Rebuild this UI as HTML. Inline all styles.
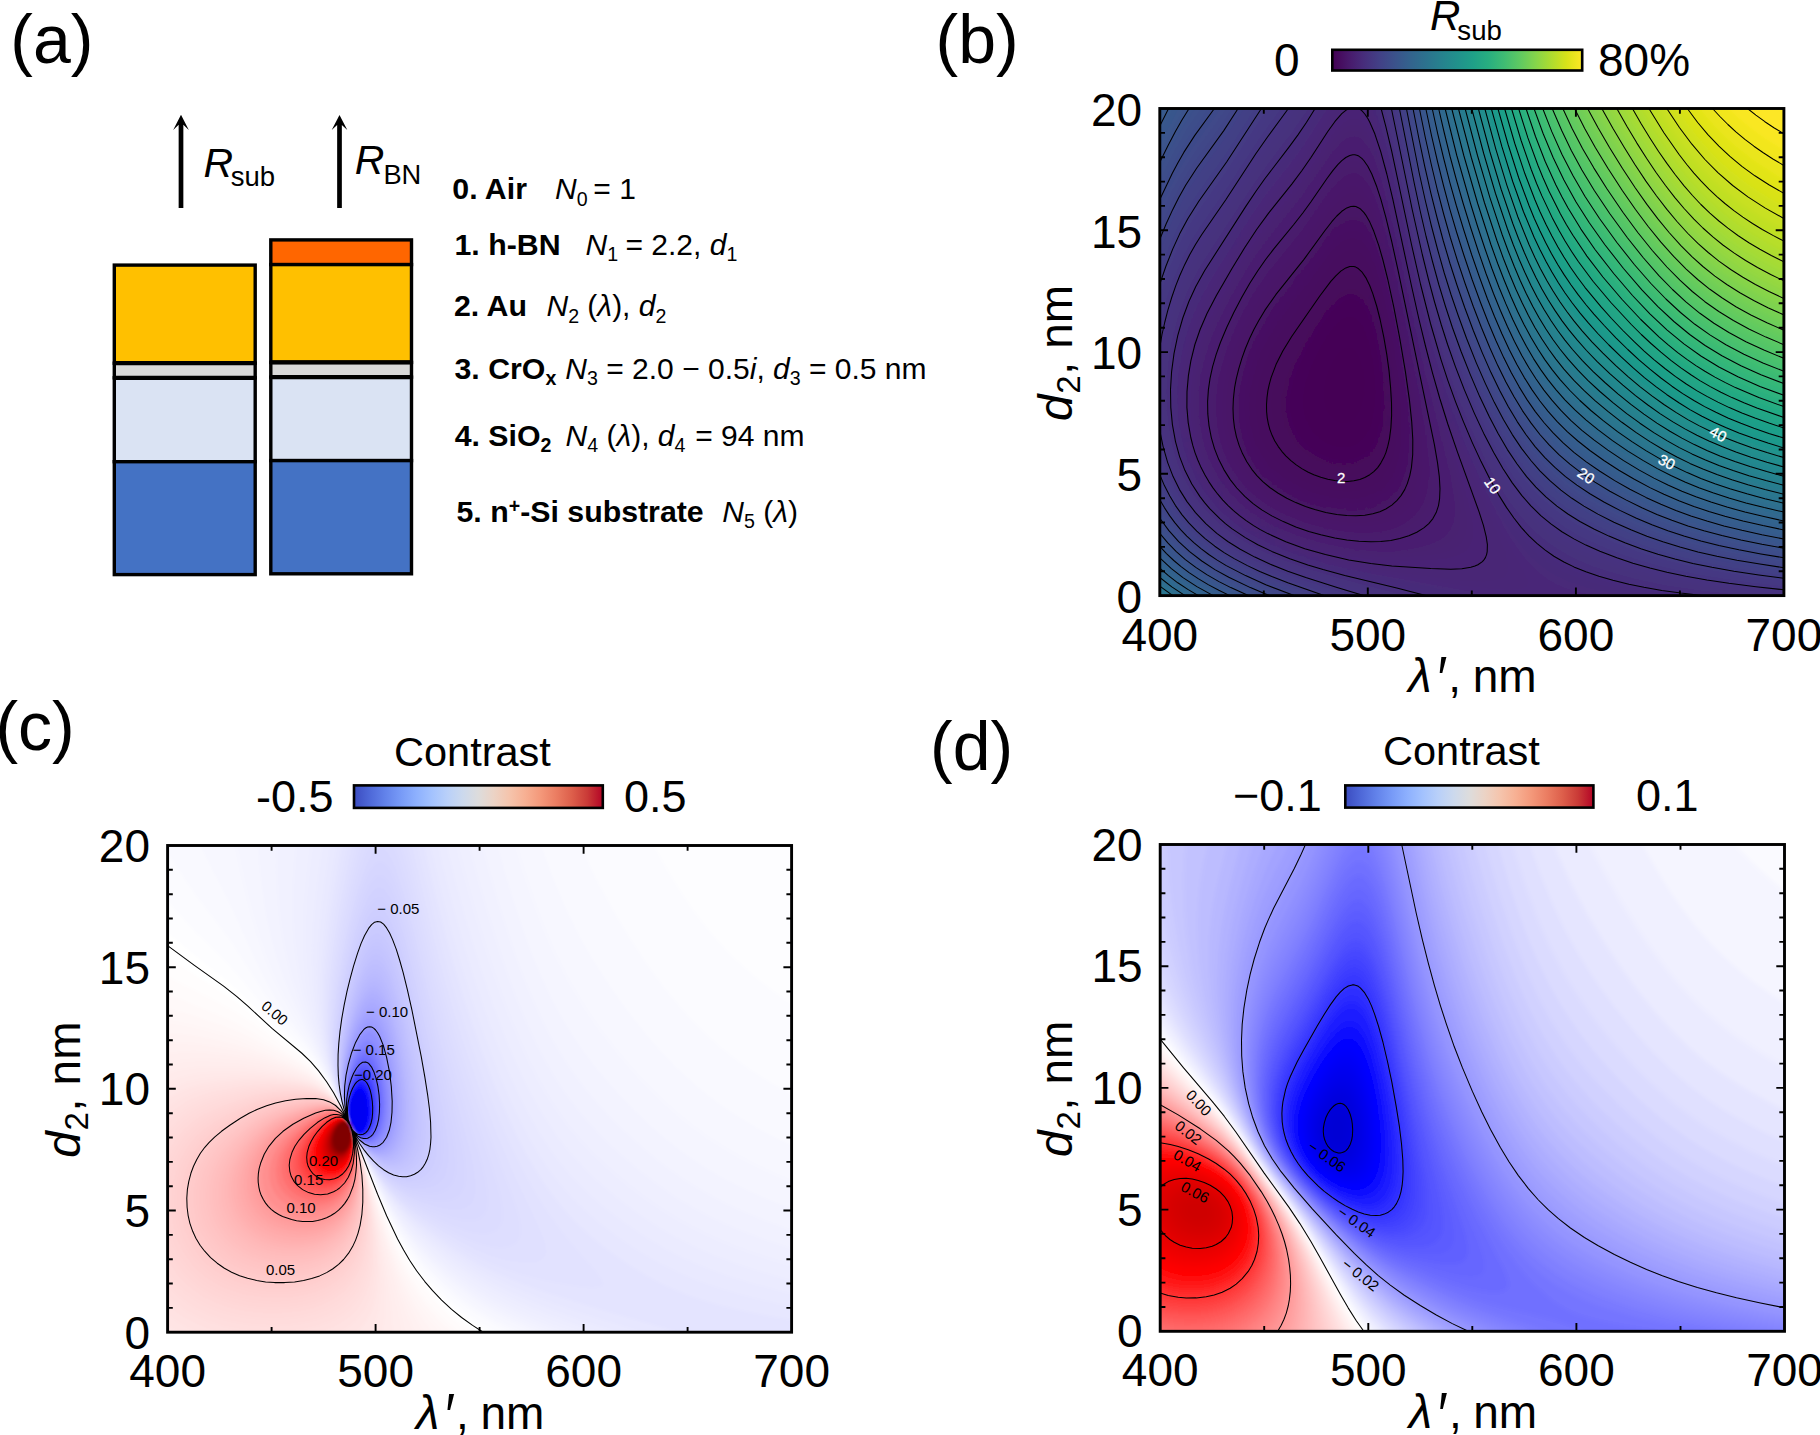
<!DOCTYPE html>
<html lang="en"><head><meta charset="utf-8"><title>Figure</title>
<style>html,body{margin:0;padding:0;background:#fff;width:1820px;height:1435px;overflow:hidden}svg{display:block}text{font-family:"Liberation Sans", Arial, Helvetica, sans-serif;fill:#000}</style>
</head><body>
<svg width="1820" height="1435" viewBox="0 0 1820 1435">
<rect width="1820" height="1435" fill="#fff"/>
<text x="10.3" y="62.6" font-size="68">(a)</text>
<text x="935.5" y="63.4" font-size="68">(b)</text>
<text x="-4.6" y="749.8" font-size="68">(c)</text>
<text x="930" y="769.9" font-size="68">(d)</text>
<rect x="114.3" y="265.1" width="140.9" height="98.1" fill="#ffc000" stroke="#000" stroke-width="3.4"/>
<rect x="114.3" y="363.2" width="140.9" height="14.6" fill="#d9d9d9" stroke="#000" stroke-width="3.4"/>
<rect x="114.3" y="377.8" width="140.9" height="83.9" fill="#dae3f3" stroke="#000" stroke-width="3.4"/>
<rect x="114.3" y="461.7" width="140.9" height="112.9" fill="#4472c4" stroke="#000" stroke-width="3.4"/>
<rect x="270.8" y="239.9" width="140.7" height="24.7" fill="#ff6600" stroke="#000" stroke-width="3.4"/>
<rect x="270.8" y="264.6" width="140.7" height="97.8" fill="#ffc000" stroke="#000" stroke-width="3.4"/>
<rect x="270.8" y="362.4" width="140.7" height="14.7" fill="#d9d9d9" stroke="#000" stroke-width="3.4"/>
<rect x="270.8" y="377.1" width="140.7" height="83.5" fill="#dae3f3" stroke="#000" stroke-width="3.4"/>
<rect x="270.8" y="460.6" width="140.7" height="113.2" fill="#4472c4" stroke="#000" stroke-width="3.4"/>
<path d="M114.3 363.2H255.2M114.3 377.8H255.2M270.8 362.4H411.5M270.8 377.1H411.5" stroke="#000" stroke-width="4.3" fill="none"/>
<path d="M181.0 114.8L188.8 129.9L183.35 124.8V208H178.65V124.8L173.2 129.9Z" fill="#000"/>
<path d="M339.5 115.0L347.3 130.1L341.85 125.0V208H337.15V125.0L331.7 130.1Z" fill="#000"/>
<text x="203.6" y="176.6" font-size="41"><tspan font-style="italic">R</tspan><tspan font-size="27.5" dy="9.1" dx="-2.5">sub</tspan></text>
<text x="354.8" y="174.2" font-size="41"><tspan font-style="italic">R</tspan><tspan font-size="27.3" dy="9.9" dx="-1">BN</tspan></text>
<text x="452.3" y="199.3" font-size="30" xml:space="preserve" style="white-space:pre"><tspan font-weight="bold" font-size="30.3">0. Air</tspan><tspan font-style="italic" dx="28">N</tspan><tspan font-size="19.6" dy="6.5">0</tspan><tspan dy="-6.5" dx="-2.5"> = 1</tspan></text>
<text x="454.5" y="254.8" font-size="30" xml:space="preserve" style="white-space:pre"><tspan font-weight="bold" font-size="30.3">1. h-BN</tspan><tspan font-style="italic" dx="25">N</tspan><tspan font-size="19.6" dy="6.5">1</tspan><tspan dy="-6.5" dx="-1"> = 2.2, </tspan><tspan font-style="italic">d</tspan><tspan font-size="19.6" dy="6.5">1</tspan></text>
<text x="454" y="316.0" font-size="30" xml:space="preserve" style="white-space:pre"><tspan font-weight="bold" font-size="30.3">2. Au</tspan><tspan font-style="italic" dx="19.5">N</tspan><tspan font-size="19.6" dy="6.5">2</tspan><tspan dy="-6.5"> (</tspan><tspan font-style="italic">λ</tspan><tspan>), </tspan><tspan font-style="italic">d</tspan><tspan font-size="19.6" dy="6.5">2</tspan></text>
<text x="454.5" y="378.5" font-size="30" xml:space="preserve" style="white-space:pre"><tspan font-weight="bold" font-size="30.3">3. CrO</tspan><tspan font-weight="bold" font-size="19.6" dy="6.5">x</tspan><tspan font-style="italic" dy="-6.5" dx="9">N</tspan><tspan font-size="19.6" dy="6.5">3</tspan><tspan dy="-6.5"> = 2.0 − 0.5</tspan><tspan font-style="italic">i</tspan><tspan>, </tspan><tspan font-style="italic">d</tspan><tspan font-size="19.6" dy="6.5">3</tspan><tspan dy="-6.5"> = 0.5 nm</tspan></text>
<text x="454.7" y="445.8" font-size="30" xml:space="preserve" style="white-space:pre"><tspan font-weight="bold" font-size="30.3">4. SiO</tspan><tspan font-weight="bold" font-size="19.6" dy="6.5">2</tspan><tspan font-style="italic" dy="-6.5" dx="14">N</tspan><tspan font-size="19.6" dy="6.5">4</tspan><tspan dy="-6.5"> (</tspan><tspan font-style="italic">λ</tspan><tspan>), </tspan><tspan font-style="italic">d</tspan><tspan font-size="19.6" dy="6.5">4</tspan><tspan dy="-6.5" dx="1.5"> = 94 nm</tspan></text>
<text x="456.5" y="521.9" font-size="30" xml:space="preserve" style="white-space:pre"><tspan font-weight="bold" font-size="30.3">5. n</tspan><tspan font-weight="bold" font-size="19.6" dy="-9">+</tspan><tspan font-weight="bold" font-size="30.3" dy="9">-Si substrate</tspan><tspan font-style="italic" dx="18.6">N</tspan><tspan font-size="19.6" dy="6.5">5</tspan><tspan dy="-6.5"> (</tspan><tspan font-style="italic">λ</tspan><tspan>)</tspan></text>
<clipPath id="clipb"><rect x="1159.8" y="108.5" width="624.1" height="487.1"/></clipPath>
<g clip-path="url(#clipb)">
<filter id="blurb" filterUnits="userSpaceOnUse" x="1149.8" y="98.5" width="644.1" height="507.1"><feGaussianBlur stdDeviation="2"/></filter>
<g filter="url(#blurb)">
<rect x="1151.8" y="100.5" width="640.1" height="503.1" fill="#440154"/>
<path fill="#440255" d="M1151.8 100.5l640.1 0 0 503.1-640.1 0zM1347.8 359.5l-2 0.4-3 1.8-2.7 2.9-2.3 3.3-4 8.9-2.3 10.8 0.1 9 0.8 4 1.4 3.6 2 3.4 2 2.1 2 1.5 3 1.1 3 0.1 3-0.9 2-1.3 2.5-2.6 1.9-3 1.6-4.2 1.9-9.8-0.1-11-0.8-5.4-1.5-5.6-1.5-3.5-2-3-2-1.8z"/>
<path fill="#440256" d="M1151.8 100.5l640.1 0 0 503.1-640.1 0zM1345.8 348.2l-3 1.6-4 3.8-3.6 5-3.4 5.9-3 6.9-2.1 6.2-1.6 7-0.8 7 0 6 0.6 5 1.3 5 2.4 5 2.9 4 3.3 3 3.6 2 3.6 1 3.8 0 4-1.1 4-2.7 3-3.5 2.7-4.7 2-6 1.3-6.2 0.8-7.8 0-8-0.8-9-1.8-9-2.2-6.7-3-5.7-3-3.1-3-1.3z"/>
<path fill="#450356" d="M1151.8 100.5l640.1 0 0 503.1-640.1 0zM1347.8 338.5l-4 1.5-5 4.1-4.4 5.4-4.4 7.1-4.2 8.4-3.3 8.6-2.6 9-1.3 8-0.3 7 0.5 6.8 1.5 6.2 2.1 5 3.1 5 3.8 4 4.5 3.1 4.4 1.9 5.6 0.8 5-0.7 4-1.8 4.1-3.3 3.1-4 3-6 2.1-7 1.5-9 0.6-11-0.5-11-1.6-11-2.4-10-2.9-7.7-4-6.1-4-2.9z"/>
<path fill="#450357" d="M1151.8 100.5l640.1 0 0 503.1-640.1 0zM1348.8 330.4l-5 1.7-5 4-5.5 6.4-5.5 8.6-5.4 10.5-4.5 11-2.9 10-1.6 9-0.5 8 0.6 7 1.7 7 2.5 6 3.2 5 4.7 5 5.2 3.6 5.3 2.4 5.7 1.1 6-0.4 6-2.2 4.6-3.5 3.9-5 3.4-7 2.1-7.2 1.6-8.8 0.7-12-0.5-13-1.8-14-2.7-12.1-3.3-9.2-4-7-4-3.7-2-0.8z"/>
<path fill="#450457" d="M1151.8 100.5l640.1 0 0 503.1-640.1 0zM1347.8 323.5l-5 2.2-6 5.3-6 7.5-6 9.6-6 11.5-5 12-3.5 11-1.9 10-0.4 8 0.6 8 1.6 7 3 7 3.9 6 4.7 5 6 4.3 6 2.7 7 1.6 7-0.3 6.7-2.3 5.3-3.9 4.2-5.1 3.5-7 2.5-8 1.8-10 0.8-14-0.6-15-2.1-16-3.1-13.7-4-11.2-4.1-7.2-2.9-2.9-2-1.3-3-1z"/>
<path fill="#450558" d="M1151.8 100.5l640.1 0 0 503.1-640.1 0zM1346.8 317.3l-3 1.3-3 2.1-6 5.9-7 9.4-7 11.5-6.6 13.1-5.1 12-3.4 11-2.1 11-0.3 9 0.8 8 2.2 8 3.4 7 4.2 6 5.9 5.8 6.3 4.2 7.1 3 7.6 1.5 8-0.4 6.3-2.1 5.8-4 4.9-6 4-8 2.7-9 1.7-11 0.7-16-1-17-2.4-17-3.8-16.1-3.9-10.5-2.2-4.5-2.8-4-3-2.8-3-1.5-3-0.5z"/>
<path fill="#450559" d="M1151.8 100.5l640.1 0 0 503.1-640.1 0zM1346.8 311.2l-6 3.5-7 7-8 10.8-7.9 13-7.3 14.1-5.6 13-3.9 12-2 11-0.4 9 1.1 9 2.3 8 3.3 7 5 7 6.1 6 7.3 4.9 7.2 3.1 8.8 1.9 8-0.1 7-2 4-2.1 3-2.3 5-5.6 4.2-7.8 3-9 2.1-12 0.9-17-1.1-20-3-21-4.1-16.7-5-13.1-2.3-4.3-2.7-3.5-3-2.6-3-1.4-3-0.4z"/>
<path fill="#450659" d="M1151.8 100.5l640.1 0 0 503.1-640.1 0zM1347.8 305.2l-3 1.2-3 1.9-7 6.5-8 10.3-9.2 14.4-8.9 16.1-7 15-4.2 12-2.5 12-0.6 10 0.9 9 2.4 9 3.8 8 5.3 7.5 6.6 6.5 7.4 5 8 3.6 9 2.2 9 0.3 8-1.9 7-3.9 3-2.7 3-3.5 4.2-7.1 3.5-10 2.3-12 1.1-18-0.8-20-2.9-22-4.4-19.7-5-14.5-5-9.1-3-3.4-3-2-3-0.9z"/>
<path fill="#45065a" d="M1151.8 100.5l640.1 0 0 503.1-640.1 0zM1349.8 299.5l-3 0.6-4 2.1-7 6.1-8 9.8-9.7 14.4-11.1 19-7.9 16.1-5.3 14-2.7 12-0.9 10 0.8 10 2.2 9 3.6 8.3 5.1 7.7 6.6 7 8 6 8.3 4.2 10 3 10 0.9 8-1.2 4-1.4 4-2.1 6.4-5.4 2.6-3.3 2.9-4.7 3.9-10 2.5-11 1.6-18-0.5-20-2.4-22.4-4.3-22.7-4.7-16-3-7.5-3-5.7-3-4.1-3-2.7-3-1.6z"/>
<path fill="#46075a" d="M1151.8 100.5l640.1 0 0 503.1-640.1 0zM1348.8 294.4l-3 1-4 2.4-7 6.4-9 11.3-11.2 17-11.8 20.1-7.5 15-5 13-3.1 13-0.9 11 0.8 10 2.2 9 3.9 9 5.6 8.4 7.4 7.6 8.2 6 9.4 4.7 11 3.1 10 0.9 9-1.4 4-1.4 4-2 4-2.9 3-3 5-7.3 4.1-9.7 3-13 1-9 0.5-10-0.7-23-2.9-24.5-4.9-24.6-5.1-16.4-3-7-3-5.5-3-3.9-4-3.2-3-1.1z"/>
<path fill="#46075b" d="M1151.8 100.5l640.1 0 0 503.1-640.1 0zM1348.8 289.4l-3 1-4 2.4-4 3.4-5 5.3-10 13.2-12.9 19.8-10.8 18.1-7.6 15-5.3 14-2.9 13-0.8 11 1.1 11 2.7 10 4.3 9 6.2 8.7 7.4 7.3 8.6 6.1 10 4.8 11 3.2 11 1 5-0.4 5-1.1 4-1.4 4.3-2.2 3.7-2.7 3-3 3-3.7 2.8-4.6 4.2-10.6 2.8-12.4 1.1-10 0.4-10-0.8-24-3.5-27.9-5-24.3-3-10.6-3-8.6-3-6.8-3-5.2-3-3.8-4-3-3-1.1z"/>
<path fill="#46085b" d="M1151.8 100.5l640.1 0 0 503.1-640.1 0zM1349.8 284.4l-3 0.8-4 2.2-4 3.1-5 5.1-10 12.8-12.9 19.1-13 21-8.6 16.1-5.7 14-3.5 14-1.1 12 0.7 11 2.4 10 4.3 10 6.1 9 7.7 8 9.4 7 10.2 5.2 12 3.7 6 1 6 0.4 10-1.1 5-1.5 4-1.9 4-2.6 3.6-3.2 3.4-4 2.6-4 4.4-10.4 3.1-12.6 1.1-9 0.6-11-0.6-24-3.1-28-5.1-26.6-6-21.1-3-7.6-3-6.1-3-4.5-4-4.1-4-1.9z"/>
<path fill="#46095c" d="M1151.8 100.5l640.1 0 0 503.1-640.1 0zM1347.8 280.2l-4 1.9-4 2.9-5 4.9-5 5.8-12 16.5-18.6 28.3-8.9 15.1-6.3 13-4.7 13-2.7 12-1 12 1 12 2.9 11 4.3 9.3 6.8 9.7 8.2 8.1 10 7.1 11 5.3 6 2 7 1.7 12 1.2 6-0.4 5-1 5-1.8 4-2 4-2.8 4-3.9 3-3.8 2.8-4.7 4.2-10.6 2.9-13.4 1.1-10.7 0.4-11.3-0.2-13-1-14-3.8-30.1-5.9-28-3.5-12.2-3-8.6-3.1-7.2-3.9-6.5-3-3.5-4-2.9-4-0.9z"/>
<path fill="#46095d" d="M1151.8 100.5l640.1 0 0 503.1-640.1 0zM1348.8 275.4l-4 1.6-4 2.7-5 4.6-5 5.7-12 16.2-21.7 32.3-9.3 15.4-6.8 13.7-4.7 13-2.8 12-1.1 13 0.9 12 2.7 11 4.8 10.6 7 10 8.5 8.4 10.5 7.5 11 5.4 13 3.9 7 1.1 6 0.4 6-0.2 5-0.8 5-1.4 5-2.3 4-2.5 4-3.5 3.1-3.6 2.9-4.4 2.9-5.6 2.1-5.8 3.1-13.2 1.2-10 0.6-12-0.1-13-0.9-14-1.6-16-2.3-16-3-16.6-3-13.5-3-11.2-3.5-10.8-3.5-8.5-3.4-6.5-3.6-4.7-4-3.3-4-1.3z"/>
<path fill="#460a5d" d="M1151.8 100.5l640.1 0 0 503.1-640.1 0zM1347.8 271.3l-4 2-5 3.8-5 5-5 6-12 16.5-25 36.9-8.2 14.1-6.2 13-4.5 13-2.6 12-0.9 13 1.1 13 3.3 12 4.8 10 7.3 10 9.4 9 10.5 7.2 12 5.7 7 2.3 7 1.6 7 1 6 0.3 6-0.3 6-1 5-1.6 4.7-2.2 4.3-3 4-3.7 3-3.6 3-4.8 4.6-10.9 3.1-14 1.2-11 0.5-12-0.3-14-1.1-15.3-1.8-16.7-2.4-16.1-2.9-16-3.9-16.8-3.1-11.2-3.9-11.4-3-7-4-7.1-4-4.8-4-2.7-4-0.8z"/>
<path fill="#460b5e" d="M1151.8 100.5l640.1 0 0 503.1-640.1 0zM1349.8 266.5l-4 1.4-5 3.2-5 4.7-5 5.6-11 14.6-28.1 40.5-8.9 14.5-6.8 13.6-4.9 13-3.2 13-1.4 14 0.7 13 2.7 12 4.9 11.3 7 10.4 9.1 9.3 10.9 8 12 6.1 7 2.6 7 2 7 1.3 7 0.8 6 0 6-0.6 6-1.4 5-1.9 5-2.8 4-3.1 3.9-4 3.1-4.5 3-5.5 2.1-5 1.9-6.4 1.7-7.6 1.4-11 0.7-12-0.1-13-0.9-15-1.6-17-2.2-16-3-17.4-3.7-17.7-3.3-13-4-12.9-3.1-8.1-3.9-7.9-4-5.8-4-3.6-4-1.7z"/>
<path fill="#460b5e" d="M1151.8 100.5l640.1 0 0 503.1-640.1 0zM1349.8 262.3l-4 1.4-5 3.3-5 4.6-5 5.7-11 14.5-31.4 44.7-8.6 14.2-6.8 13.9-4.7 13-3.1 13-1.4 14 0.8 14 1.2 6.5 1.8 6.5 4.9 11 3.3 5.4 4 5.3 9.3 9.3 11.7 8.4 13 6.5 7 2.5 8 2.1 7 1.3 7 0.6 7-0.1 6-0.7 6-1.6 5-2 5-3 4-3.3 4-4.5 2.9-4.2 3-6 2.1-5.6 3.3-13.4 1.3-11 0.6-12-0.2-14-1-15.5-1.8-17.5-2.3-17-3-17.1-3.9-18.5-3.1-12.5-3.9-12.8-4-10.6-4-8-4-5.7-4-3.5-4-1.6z"/>
<path fill="#460c5f" d="M1151.8 100.5l640.1 0 0 503.1-640.1 0zM1348.8 258.4l-4 1.7-5 3.7-5 4.8-5 5.8-10 13.3-35.2 49.8-8.3 14-6.5 13.8-4.5 13.3-2.8 13-1.3 15 1.1 14 1.4 7 1.8 6 2.4 6 2.9 5.5 7.5 10.5 4.7 5 5.6 5 12.2 8.4 13 6.2 7 2.4 8 2 8 1.4 7 0.6 7-0.2 6-0.8 6-1.5 5-2.1 5-2.9 4-3.3 3.9-4.2 3.1-4.6 2.9-5.4 2.3-6 2-7 1.6-8 1.3-12 0.5-13-0.4-15-1.2-15.8-2-18.2-3-20-3.1-17.1-3.9-17.8-7-24.7-4-10.4-4-7.9-4-5.6-4-3.4-4-1.6z"/>
<path fill="#470c5f" d="M1151.8 100.5l640.1 0 0 503.1-640.1 0zM1348.8 254.4l-4 1.7-5 3.7-5 4.9-5 5.8-9 11.9-38 53.1-8.4 14-6.6 14-4.8 14.1-2.8 13-1.4 15 0.2 8 0.7 7 3.1 13 2.3 6 3 6 3.7 5.9 3.9 5.1 4.6 5 5.6 5 5.9 4.5 6.9 4.5 13.1 6.4 7.4 2.6 7.6 2 8 1.5 8 0.8 7 0 7-0.7 6-1.4 5.6-2.2 5.3-3 4.1-3.4 4-4.3 3.1-4.3 2.9-5.5 2.6-6.5 3.4-14.2 1.4-11.8 0.5-13-0.3-15-1.1-16-2.1-19-2.9-20.1-3.5-19.1-4-18.7-4-15.5-4-12.8-4-10.2-4-7.8-4-5.5-4-3.4-4-1.5z"/>
<path fill="#470d60" d="M1151.8 100.5l640.1 0 0 503.1-640.1 0zM1348.8 250.4l-4 1.8-5 3.7-5 4.9-5 5.8-39.7 53.9-9.7 14-8.3 14-6.3 13.5-5 14.6-3 14-1.4 16 0.3 8 0.8 7 1.4 7 1.9 6.6 2.5 6.4 3.1 6 3.4 5.4 4.4 5.6 4.7 5 5.9 5.3 6.4 4.7 6.6 4.2 14 6.7 8 2.7 8 2 8 1.4 8 0.7 7 0 7-0.8 6-1.5 6-2.3 5-2.9 4.1-3.2 3.9-4.2 3.4-4.8 3.2-6 2.4-6 1.9-7 1.6-8 1.3-12 0.4-14-0.4-15-1.4-18-2.3-20-3.1-20.1-4-21.7-4-18.1-4-15.2-4-12.5-4-10.1-4-7.7-4-5.4-4-3.3-4-1.5z"/>
<path fill="#470e61" d="M1151.8 100.5l640.1 0 0 503.1-640.1 0zM1349.8 246.3l-4 1.5-5 3.4-5 4.7-5 5.6-42.3 57-9.7 13.9-8.4 14.1-6.5 14.1-5.1 14.8-3.1 14.2-1.5 16 0.1 8 0.9 8 1.3 7 2 7 2.7 7 3 6 3.6 5.7 4.1 5.3 4.9 5.3 6 5.3 7 5.2 6.7 4.2 7.3 3.8 7 3.1 8 2.7 9 2.3 8 1.4 8 0.7 7 0 7-0.7 6-1.3 6-2.2 5-2.7 4.3-3.1 4.1-4 3.7-5 2.9-5.1 2.9-6.9 2.1-7 1.7-8 1.4-12 0.5-13-0.4-16-1.3-17-2.2-20-3.1-21.1-3.6-20-4.4-21-3.6-14.4-4-13.6-4-11.1-4-8.9-4-6.3-5-5-4-1.9z"/>
<path fill="#470e61" d="M1151.8 100.5l640.1 0 0 503.1-640.1 0zM1349.8 242.4l-4 1.6-5 3.4-5 4.7-5 5.7-44 59-9.6 13.7-8.4 14.1-6.9 15-5.1 15-3.3 15-1.1 9-0.4 8 0.2 8 0.9 8 1.6 8 2.1 7 2.8 7 3.1 6 3.9 6 4.2 5.3 5 5.2 6 5.2 7 5.1 6.7 4.2 14.3 6.8 8 2.7 9 2.4 9 1.6 8 0.7 8 0 7-0.7 6-1.3 6-2.2 5-2.7 5-3.7 4-4.1 3.4-4.5 3.4-6 2.4-6 2.1-7 1.7-8 1.4-12 0.5-14-0.5-16-1.4-18-2.4-21-3.3-22.1-4.2-23-4.1-18.9-4-16-4-13.4-4-11-4-8.6-4-6.4-5-5-4-1.8z"/>
<path fill="#470f62" d="M1151.8 100.5l640.1 0 0 503.1-640.1 0zM1350.8 238.5l-4 1.2-5 3.2-5 4.5-5 5.5-46.3 61.6-9.2 13-9 15-7 15.1-5.4 16-3.4 15-1.1 9-0.5 8 0.2 9 0.8 8 1.6 8 2 7 2.7 7 3.5 7 3.9 6 4.2 5.4 5.3 5.6 5.7 5 6.8 5 7.2 4.4 7 3.7 8 3.5 8 2.8 9 2.4 9 1.7 9 0.9 8 0.1 7-0.7 7-1.5 6-2.2 5-2.6 5-3.7 4-4 4-5.4 3-5.4 2.5-6 2.2-7 1.6-8 1.4-12 0.5-14-0.5-16-1.4-18-2.3-20-3.4-23.1-4.1-23-4.5-21.3-4-16.2-4-13.9-4-11.4-4-9.2-4-6.8-5-5.6-4-2.2z"/>
<path fill="#470f62" d="M1151.8 100.5l640.1 0 0 503.1-640.1 0zM1348.8 235.2l-4 1.9-4 2.9-5 4.8-5 5.7-26 35.1-21.5 27.9-9.7 14-8.8 15.1-7 15.6-5.1 15.4-3.4 16-1.5 17 0.3 9 0.9 8 1.6 8 2.3 8 2.9 7.1 3.6 6.9 4 6 4.4 5.5 5.3 5.5 5.9 5 6.9 5 7.9 4.8 8 4.1 7.5 3.1 8.5 2.8 9 2.3 9 1.6 9 0.9 8 0 7-0.7 7-1.5 6-2.2 5-2.6 5-3.6 4.1-4 3.9-5.2 3.3-5.8 2.7-6.6 2.2-7.4 1.6-8 1.3-13 0.4-15-0.7-17-1.7-19-3.1-24-3.8-24.1-4.2-22.3-5-22.8-4-15.4-4-13.1-4-10.7-5-10.3-4-5.7-5-4.2-4-1.3z"/>
<path fill="#471063" d="M1151.8 100.5l640.1 0 0 503.1-640.1 0zM1349.8 231.3l-4 1.6-5 3.5-5 4.8-5 5.7-26 35.1-22.8 29.5-9.2 13.1-9 15.3-7.1 15.7-5.8 17-3.5 16-1.1 9-0.5 9 0.3 9 0.9 8 1.5 8 2.3 8 2.7 7 3.5 7 3.8 6 5 6.4 5.3 5.6 5.8 5 6.9 5 8 5 8 4.1 8 3.4 9 3.1 9 2.3 9 1.7 9 0.9 8 0.2 8-0.6 7-1.4 6-2 6-3 5-3.6 4.3-4.1 3.9-5 3.4-6 2.5-6 2.1-7 1.8-8.8 1.4-12.2 0.4-15-0.7-17-1.6-19-2.8-22-3.8-25.1-4.9-26.2-5-23.1-4-15.8-4.1-13.9-4.9-13.3-4-8.4-4-6.2-5-4.8-4-1.7z"/>
<path fill="#471163" d="M1151.8 100.5l640.1 0 0 503.1-640.1 0zM1350.8 227.4l-4 1.3-5 3.3-5 4.5-5 5.6-27 36.3-23.4 30.1-9.6 13.6-9.1 15.4-7.8 17.1-5.7 17-3.6 16-1.2 10-0.5 9 0.2 9 0.9 8 1.5 8 2.2 8 3.1 8 3.5 7 3.8 6 4.7 6.2 5 5.3 6.1 5.5 6.9 5.1 8 5 8 4.2 9 3.9 9 3.1 9 2.4 10 1.8 9 1 8 0.3 8-0.6 7-1.3 7-2.2 6-3 5-3.5 4-3.7 4-5 3.3-5.5 3.1-7 2.1-7 1.7-8 1.4-12 0.5-14-0.5-16-1.6-19-2.7-23-3.7-24.1-4.6-25.8-5-24.1-4.1-17.1-4.9-17.4-4-11.7-5-11.5-4-6.7-5-5.4-4-2.1z"/>
<path fill="#471164" d="M1151.8 100.5l640.1 0 0 503.1-640.1 0zM1348.8 224.3l-4 2-4 2.9-5 4.9-5 5.7-26 35.2-25 31.9-10.2 14.6-9.2 16-7.6 17.1-5.9 18-3.5 17-1.1 10-0.3 9 0.4 9 1.1 9 1.7 8 2.5 8 3.3 8 3.8 7 4 6 5 6.2 5.8 5.8 6 5 7.2 5 8 4.8 8.3 4.2 8.7 3.6 9 2.9 10 2.5 10 1.8 9 0.8 8 0.1 8-0.7 7-1.4 7-2.3 6-3.2 5-3.6 4.5-4.5 3.5-4.7 3.1-5.3 2.9-7.1 2.3-7.9 1.6-8 1.2-13 0.2-16-0.9-18-2-20-3.4-25.3-4.5-27.8-5.5-28.4-5-22.3-5-19-4-12.7-4-10.5-4-8.3-4-6.1-5-4.7-2-1-3-0.8z"/>
<path fill="#471264" d="M1151.8 100.5l640.1 0 0 503.1-640.1 0zM1349.8 220.5l-4 1.7-4 2.7-5 4.7-5 5.6-27.7 37.3-25.3 32.1-10 14.3-9.5 16.6-8.1 18.1-5.9 18-3.6 17-1.2 10-0.4 9 0.3 9 1 9 1.9 9 2.4 8 3.1 7.7 3.8 7.3 4.6 7 4.8 6 5.8 5.9 6 5.1 7 5 8.3 5 8.7 4.4 8.6 3.6 8.8 3 9.6 2.5 10 1.9 10 1.1 9 0.2 8-0.6 7-1.3 7-2.2 6-2.9 5-3.4 5-4.6 4-5.1 3.3-5.6 3-7 2.1-7 1.6-8.1 1.4-12.9 0.3-15-0.8-17-1.9-20-3.3-25-4.4-28.1-5.3-28.1-5-23.3-5-20.1-4-13.7-4.9-13.8-4.1-9-4-6.6-5-5.3-2-1.3-3-1z"/>
<path fill="#471265" d="M1151.8 100.5l640.1 0 0 503.1-640.1 0zM1348.8 217.3l-4 2-4 3-5 4.9-5 5.8-26 35.2-27 34.2-11 15.8-9.2 16.3-8 18.1-5.9 18-3.9 18.1-1.1 9.9-0.4 10 0.4 9 1 9 1.9 9 2.5 8 3.3 8 3.7 7 4.5 7 5.2 6.4 5.4 5.6 6.6 5.5 7.8 5.5 8.2 4.9 9 4.4 8.8 3.7 9.2 3 10 2.5 10 1.8 10 1.1 9 0.2 8-0.6 7-1.3 7-2.2 6-2.8 5-3.4 4.9-4.3 4.1-5.2 3.6-5.8 3-7 2.4-8 1.5-8 1.3-13 0.1-16-1-18-2.1-21-3.8-27.3-5-30.1-5.1-26.7-5.9-26.7-5-19.3-4-13-4-11-5-10.5-4-6-5-4.7-2-1-3-0.7z"/>
<path fill="#471365" d="M1151.8 100.5l640.1 0 0 503.1-640.1 0zM1350.8 213.3l-4 1.4-5 3.3-5 4.7-5 5.7-28 37.7-27 34.1-10 14.3-10 17.4-8.4 18.6-6.3 19.1-3.9 18-1.2 10-0.5 10 0.3 10 1.1 9 1.9 9 2.4 8 3.2 8 4.2 8 4.2 6.5 5.1 6.5 5.8 6 6.1 5.3 8 5.7 8 4.8 9 4.5 9 3.8 9 3.1 10.5 2.8 10.5 2 10 1.2 9 0.3 8-0.4 8-1.3 7-2 6.3-2.8 5.7-3.7 5-4.3 4-4.9 3.8-6.1 2.7-6 2.5-8 1.7-8 1.4-13 0.2-15-0.8-17-2-20-3.5-26.1-5-30.9-5-27.1-6-28.2-5-20.3-4-14-5-14.6-4-9.2-4-7-5-5.9-2-1.5-3-1.3z"/>
<path fill="#481366" d="M1151.8 100.5l640.1 0 0 503.1-640.1 0zM1348.8 210.4l-4 2-4 3.1-5 4.9-5 5.9-27 36.6-28 35.2-11 15.9-10 17.8-8.3 18.7-6.2 19.1-4 19-1.2 10-0.4 10 0.5 10 1.1 9 1.9 9 2.8 9 3.4 8 4.3 8 4.7 7 5.4 6.5 5.4 5.5 6.6 5.5 7.9 5.5 8.6 5 9.5 4.7 9 3.6 10 3.3 10 2.5 11 2 10 1 9 0.2 8-0.5 8-1.4 7-2.1 6-2.8 6-3.9 5-4.6 4-5.1 3.6-5.9 3-7 2.3-8 1.5-8 1.2-13 0-16-1.2-19-2.5-22-4.2-29-5.7-33.3-6-30.7-6-26.6-5-19-4-12.9-5-13.1-4-8.1-4-6-5-4.6-2-1-3-0.6z"/>
<path fill="#481467" d="M1151.8 100.5l640.1 0 0 503.1-640.1 0zM1350.8 206.4l-4 1.5-5 3.4-5 4.7-5 5.7-28 37.9-28 35.1-11 15.7-10.9 19.1-8.5 19-6.6 20.1-4.2 19-1.2 11-0.4 10 0.4 10 1.1 9 1.9 9 2.8 9 3.3 8 4.3 8.1 5 7.6 5.1 6.3 5.9 6 7 5.9 8 5.5 9 5.2 9 4.4 9.7 4 9.3 3 11 2.8 11 2 10 1.1 9 0.2 9-0.5 8-1.4 7-2.1 6-2.7 6-3.9 5-4.5 4.2-5 3.7-6 2.6-6 2.5-8 1.6-8 1.3-13 0.1-15-1.1-18-2.2-21-4.1-29-5.6-32.9-6-31.5-6-27.7-5-20-4-13.8-5-14.4-4-9.2-4-7-5-5.8-2-1.4-3-1.3z"/>
<path fill="#481568" d="M1151.8 100.5l640.1 0 0 503.1-640.1 0zM1352.8 199.5l-4 0.8-5 2.8-5 4.3-5 5.4-8 10.2-21 28.9-28 34.9-12 16.7-11.8 20-9.6 21-7.3 21.1-2.6 10-2 10-1.4 11-0.5 10 0.3 10 1 10 1.8 9 2.6 9 3.5 9 4.1 8 4.9 7.8 5 6.5 6.3 6.7 6.7 5.9 8 5.8 8.8 5.3 9.8 5 9.4 4 10 3.5 11 2.9 11 2.3 11 1.4 10 0.6 9-0.3 8-1 8-2 7-2.8 6-3.4 5.2-4.2 4.7-5 4-6 3.1-6.5 2.6-7.5 1.7-8 1.4-12 0.2-15-1-17-2.3-21-4-28-5.6-33.4-7-37.2-6-28.3-5-20.9-5-18-5-14.9-4-9.6-4-7.5-5-6.4-4-2.9-2-0.7z"/>
<path fill="#481769" d="M1151.8 100.5l640.1 0 0 503.1-640.1 0zM1349.8 193.4l-4 1.8-4 2.9-5 4.8-5 5.8-28 38.3-31 38.6-12 17.3-12 21.4-9.8 22.2-3.9 11.1-3.3 10.9-2.4 10.1-1.7 10-1.2 11-0.2 10 0.5 10 1.3 10 2.2 10 3 9 3.8 9 4.7 8.5 5.1 7.5 5.9 7.1 7 6.9 7 5.7 8 5.4 10 5.6 10 4.7 10 4 10 3.2 11 2.7 12 2.2 11 1.3 10 0.3 9-0.5 8-1.1 8-2.2 7-3 6-3.7 5.5-4.6 4.4-5 3.8-6 3.2-7 2.4-8 1.5-8 1-13-0.2-15-1.4-18-2.9-23-5.2-33-7.1-39.7-7-35.6-7-31.5-5-19.6-5-16.7-5-13.5-4-8.5-4-6.4-5-5.1-2-1.1-3-1z"/>
<path fill="#48186a" d="M1151.8 100.5l640.1 0 0 503.1-640.1 0zM1351.8 186.4l-4 1.2-5 3.2-5 4.7-5 5.7-29.5 40.3-32.1 40-11.4 16.4-6.9 11.6-5.9 11-10.3 23-4.4 12.1-3.3 11-2.7 11-1.8 10-1.2 11-0.3 11 0.6 11 1.4 10 2.3 10 3 9 3.8 9 5 9 5.5 8 5.8 7 7.1 7 7.3 5.9 9 6.1 9 5 10 4.8 10.5 4.2 10.5 3.4 11 2.8 13 2.5 11 1.3 10 0.5 10-0.4 8.4-1.1 8.1-2 7.5-3 6-3.5 5.8-4.5 4.7-5 4.1-6 3.3-7 2.3-7 1.6-8 1.1-12-0.2-15-1.5-18-2.8-22-5.4-33-8-44.3-8-40.6-7-31.8-5-19.9-5-17.2-5-14.1-4-9-4-6.8-5-5.7-4-2.3z"/>
<path fill="#48196b" d="M1151.8 100.5l640.1 0 0 503.1-640.1 0zM1349.8 180.4l-4 1.9-4 3-9 9.6-30 41.3-33 41-13 19.1-7 12-5.9 11.2-10.6 24-4.3 12.1-3.4 11-2.6 11-1.9 11-1.1 11-0.2 11 0.7 11 1.7 11 2.5 10 3.5 10 4.1 9 5.2 9 5.7 8 6 7 7.3 7 7.6 6 8.7 5.7 9.6 5.3 10.7 5 11.7 4.5 11 3.4 12 2.9 12 2.2 11 1.3 10 0.4 10-0.3 9-1.2 8-1.9 7-2.7 7-3.8 6-4.6 5-5.2 4-5.7 3.2-6.3 2.6-8 1.5-8 0.9-13-0.5-15-1.8-18-3.3-23-7.1-41-10.5-55.5-8-39-7-30.3-5-18.7-4-13-5-13.4-4-8.4-4-6.3-5-5.1-2-1.1-3-0.9z"/>
<path fill="#481a6c" d="M1151.8 100.5l640.1 0 0 503.1-640.1 0zM1352.8 173.5l-4 1-5 2.9-5 4.5-5 5.6-7 9.1-24 33.7-34 42.2-12 17.5-7 11.7-7 13.1-6.1 12.7-5.6 13-4.5 12.1-3.7 12-2.8 11-1.9 11-1.3 12-0.3 11 0.7 11 1.6 11 2.7 11 3.2 9.6 4.2 9.4 5 9 5.8 8.3 6.5 7.7 7.5 7.3 8 6.5 9 6 9.5 5.2 10.5 5 12 4.7 10.1 3.3 11.9 3 13 2.6 12 1.6 11 0.7 10-0.2 9-0.8 9.1-1.9 7.9-2.7 7-3.5 6.8-4.8 5.2-5 4.5-6 3.1-6 2.4-7 1.7-8 0.9-12-0.4-14-1.7-17-3.1-21-6.5-37-12.9-66.8-8-39.3-7-31.1-9-33.6-5-14.6-4-9.5-4-7.3-5-6.2-4-2.8-2-0.7z"/>
<path fill="#481b6d" d="M1151.8 100.5l640.1 0 0 503.1-640.1 0zM1351.8 167.3l-4 1.4-4 2.5-5 4.5-5 5.7-31 43-35 43.6-13 19.1-7.9 13.4-6.9 13-6.2 13-6 14-4.5 12.1-3.7 12-2.9 12-1.9 11-1.1 12-0.1 11 0.9 12 1.8 11 2.8 11 3.6 10 4.6 10 5.3 9 5.8 8 7 8 7.4 7.1 8.8 6.9 9.2 5.9 10 5.3 12 5.5 12 4.5 12 3.6 12 2.9 12.4 2.3 11.6 1.4 11 0.6 11-0.2 9-1 8.6-1.8 8.4-2.9 7-3.5 6.9-4.6 5.1-4.8 4.1-5.2 3.3-6 2.5-7 1.5-8 0.8-11-0.5-14-1.7-16-3.3-21-6.9-37-17.8-90-8-38-6-25.9-9-32.5-5-14-4-8.9-4-6.8-5-5.5-4-2.3-2-0.5z"/>
<path fill="#481c6e" d="M1151.8 100.5l640.1 0 0 503.1-640.1 0zM1350.8 161.3l-4 1.7-4 2.9-5 4.8-5 5.9-30 42.1-36 44.9-14.7 21.9-8.2 14-7.1 13.6-6.8 14.4-5.9 14-4.4 12.1-3.6 12-2.8 12-1.7 11-1 12 0.1 12 1 12 2 11 3 11 4.1 10.8 5 10.2 5.5 9 6.5 8.5 7 7.7 8 7.3 9 6.8 9.2 5.7 11.7 6 12.1 5.3 12 4.3 12 3.5 13 2.9 12 2.2 12 1.4 11 0.5 11-0.2 9-1 9-1.9 8-2.6 7.6-3.4 6.4-4 6-5.2 4.1-4.8 3.4-6 2.5-7 1.5-8 0.6-11-0.6-13-1.8-15-3.3-20-30.4-150.5-7-32.5-6-25.3-5-18.5-4-12.9-5-13.4-4-8.3-4-6.3-5-4.9-4-1.8z"/>
<path fill="#481d6f" d="M1151.8 100.5l640.1 0 0 503.1-640.1 0zM1349.8 155.5l-4 2-4 3.2-9 9.9-30 42.4-37 46.3-8 11.4-8 12.6-8 13.9-8 15.3-7.1 15-6.3 15-4.3 12.1-3.5 12-2.6 12-1.6 11-0.8 12 0.2 12.3 1.2 11.7 2.3 12 3.2 11 4.3 11 5.1 10 6.3 10 6.6 8.4 8 8.4 8.3 7.2 8.7 6.3 10 6 11.5 5.7 12.5 5.3 13 4.5 12 3.4 14 3.1 12 2 12 1.4 12 0.5 10-0.2 10-1.1 9-1.9 9-2.8 8-3.6 7-4.3 5-4.3 4.1-5 3.3-6 2.3-7 1.1-7 0.4-10-0.7-12-1.8-14-3.1-18-36.6-175.5-12-52-5-18-4-12.3-5-12.8-4-7.8-4-5.7-5-4.4-4-1.3z"/>
<path fill="#481e70" d="M1151.8 100.5l640.1 0 0 503.1-640.1 0zM1349.8 149.4l-4 2.1-4 3.1-9 10.1-30.1 42.8-37.9 47.6-8.6 12.4-8.4 13.3-8.4 14.7-8.4 16-7.6 16-5.9 14-4.3 12.1-3.5 12-2.6 12-1.5 11-0.9 13 0.2 12 1.3 12 2.3 12 3.5 12 4.3 11 5.1 10 6.4 10 7 8.9 7.7 8.1 9.2 8 9.1 6.5 10.9 6.5 12.1 5.9 13 5.3 13 4.5 12.1 3.3 14.9 3.3 12 2 12 1.3 11 0.6 11-0.1 10-0.9 10-1.8 10-2.9 8.7-3.5 7.1-4 5-4 4.2-5 3-5.4 2.2-6.6 1.2-7 0.3-9-0.7-11-1.8-13-2.9-16-21.9-99-21.4-102-11-46.4-5-17.5-4-11.9-4-9.9-4-7.8-4-5.8-5-4.3-4-1.3z"/>
<path fill="#481f70" d="M1151.8 100.5l640.1 0 0 503.1-640.1 0zM1349.8 143.4l-4 2.1-4 3.2-9 10.1-30.5 43.7-38.5 48.4-9 13.1-9 14.4-9 15.7-8.6 16.4-7.7 16-5.9 14-4.6 13.1-3.4 12-2.5 12-1.5 12-0.7 13 0.4 13 1.6 13 2.6 12 3.8 12 4.5 10.8 5.4 10.2 6.7 10 7.3 9 8 8 9.5 8 10.1 7 11 6.2 13 6.1 14 5.5 12.9 4.2 13.1 3.4 14 3 12 1.9 12 1.3 12 0.6 11-0.1 10-0.9 10-1.6 10.3-2.6 8.6-3 6.3-3 5.8-4 4.8-5 3-5 2.2-6 1.2-7 0.3-8-0.6-10-1.7-12-2.7-14-25.1-108-26.4-123.6-9-36.6-5-16.9-4-11.4-4-9.4-4-7.4-4-5.2-4-3.2-4-1.2z"/>
<path fill="#482071" d="M1151.8 100.5l640.1 0 0 503.1-640.1 0zM1349.8 137.4l-4 2.1-4 3.2-9 10.3-30.9 44.5-30.1 37.5-9 11.9-10 14.6-9 14.5-9.4 16.5-9.5 18-7.2 15-6 14-4.5 13.1-3.3 12-2.5 12-1.6 13-0.6 14 0.5 13 1.7 13 2.7 12 3.8 12 4.9 11.4 6 11 7 10.2 8 9.4 8.2 8 9.8 7.9 10 6.8 11.5 6.3 13.5 6.2 14 5.4 14 4.4 14 3.5 14 2.9 12 1.9 13 1.4 12 0.6 11-0.2 11-0.8 11-1.7 11-2.4 8-2.6 7-3.2 5.1-3.4 4-4 3.2-5 2.2-6 1.1-7 0.1-7-0.7-9-3.8-22-27.4-111-9.2-41.1-18.6-87.6-11-45.5-5-16.9-4-11.4-4-9.5-4-7.3-4-5.2-4-3.2-4-1.2z"/>
<path fill="#482172" d="M1151.8 100.5l640.1 0 0 503.1-640.1 0zM1349.8 131.4l-4 2.2-4 3.3-9 10.3-31 45-31 38.8-9 12-10 14.7-10 16.1-10.1 17.7-10.1 19-7.2 15-5.5 13-4.5 13-3.5 13.1-2.3 12-1.5 13-0.6 14 0.6 13 1.7 13 3 13.2 4 12.2 5 11.6 6.2 11 7.7 11 7.8 9 8.3 8 10 8 11 7.3 12 6.4 14 6.3 15 5.6 14.4 4.4 14.6 3.6 14 2.8 13 2 14 1.4 12 0.5 12-0.1 12-1 13-1.7 10-2 8-2.4 6-2.6 5-3.4 4-4.1 2.4-4 1.8-5 1.1-7 0-7-0.6-7-3.7-20-21.6-81-9.8-39-10.2-45.1-20.4-95-11-44.6-8-24.8-4-9.4-4-7.4-4-5.2-4-3.2-4-1.2z"/>
<path fill="#482273" d="M1151.8 100.5l640.1 0 0 503.1-640.1 0zM1350.8 125.2l-4 1.9-4 3-5 5.1-5 6.2-31 45.4-31 38.9-10 13.4-10 14.8-11 17.8-21 37.8-6.8 14-5.5 13-4.5 13-3.5 13.1-2.6 14-1.5 13-0.4 14 0.7 14 2 14 3.1 13 4 12 5.4 12 6.6 11.5 7.5 10.5 7.9 9 9.6 8.9 10.5 8.1 10.9 7 12.6 6.6 15 6.5 15 5.5 15.1 4.4 15.9 3.8 13 2.6 14 2 14 1.4 13 0.6 12 0 28-2.2 9-1.5 7-1.7 6-2.3 5-3 4-3.7 2.5-4 1.9-5 0.9-6 0.1-6-0.6-7-3.2-17-5.3-20-19.3-65.9-11.3-43.1-11.9-51.1-21.8-101.3-6-25.1-5-18.5-4-12.9-4-11-4-9-3-5.3-4-5.2-4-3.2-4-1.2z"/>
<path fill="#482374" d="M1151.8 100.5l640.1 0 0 503.1-640.1 0zM1350.8 119.3l-4 1.9-4 3.1-5 5.1-5 6.3-31 45.7-32 40.4-10 13.5-11 16.4-12 19.6-21.3 38.2-6.7 14-5 12-4.4 13-3.6 13.8-2.4 13.3-1.5 14-0.4 15 0.9 14 2 14 3.2 13 4.5 13 5.5 12 6.5 11 8 11 8 9 9.8 9 10.9 8.3 12 7.5 13 6.6 16 6.7 15 5.3 16 4.6 28 6.1 15 2.2 15 1.6 26 0.8 19-0.5 13-0.8 8-1.1 7-1.6 6-2.2 4.4-2.5 3.2-3 2.7-4 1.7-4.9 0.8-5.1 0-6-0.7-7-4.1-19-27-87.6-8-28.5-7.7-29.9-10.9-47.1-21.4-99-6-25.1-5-18.6-4-13-4-11-4-8.9-3-5.4-4-5.2-4-3.2-4-1.2z"/>
<path fill="#482475" d="M1151.8 100.5l640.1 0 0 503.1-640.1 0zM1350.8 113.5l-4 1.9-4 3.1-5 5.2-5 6.3-31 46.1-10 13.2-22 27.4-11 14.9-13 19.5-14.7 24.4-19.4 35-6.1 13-5.2 13-4.4 14-3.1 13.1-2.3 14-1.3 14-0.1 15 1 14 2.3 14 3.6 14 4.8 13 5.9 12.2 7.3 11.8 8.5 11 8.5 9 10.4 9 11.3 8.1 12 7.1 14.1 6.8 16.9 6.8 15.6 5.2 17.4 4.7 27 5.6 29 3.7 16 1 20 0.5 16 0 12-0.4 8-1 6-1.3 5-1.8 4-2.3 3.1-2.7 2.6-4 1.4-4 0.7-5 0-6-0.9-7-4.1-17-5.6-18-24.2-72.3-8.8-29.7-8.2-30.3-12.6-52.8-23.4-108-6-24.8-5-18.1-4-12.5-4-10.5-4-8.5-3-4.9-3-3.8-4-3.2-4-1.2z"/>
<path fill="#482576" d="M1151.8 100.5l197 0 0 8-3 1.8-4 3.4-8 9.3-32 47.8-10 13.3-25 31.4-15 21.2-12 18.9-15.4 25.9-10.7 19-7.6 15-6.3 14.7-5 14.8-3.9 15.6-2.5 15-1.4 16-0.1 15 1.2 15 2.5 15 4.2 15.3 6 15 7.4 13.7 9.1 13 9.8 11 11.7 10.5 13.3 9.5 14.7 8.5 18.8 8.5 19 7 20.2 5.8 23 5.3 22 3.7 21 2.5 39 2.6 21 0.7 11-0.5 9-1.4 7.1-2.5 4.5-3.2 3-4 1.8-6 0.2-7-1.2-8-2.7-11-4.5-14-21.7-60-9.5-27.6-8-25.5-7.4-25.9-13.8-55.1-25.8-118.3-6-25.2-5-18.7-6-18.8-6-14.3-5-8.2-3-3.4-2.8-2.1 0-8 176.9 0 256 0 0 503.1-640.1 0z"/>
<path fill="#482676" d="M1151.8 100.5l189.5 0 0 8-4.5 5-6 8.1-21 32.3-10 14.4-39 50.3-19 28.6-20.6 34.3-11.3 20-8.1 16.6-6.4 16.4-5.6 19.4-3.7 20.7-1.5 21 0.6 20 2.7 19 4.9 18.1 6.9 16.9 4.2 8 4.9 7.8 8 10.9 8.4 9.3 9.6 8.8 10.8 8.2 11.2 7.2 12 6.5 15 6.6 16 6.1 16 5.1 19 4.9 16 3.6 18 3.1 24 3.2 40 3.9 19 1.6 13 0.4 9.1-0.3 8-1.3 6-2.1 3.8-2.5 3.2-4 1.3-4 0.3-6-1.1-7-2.4-9-4.5-13-24.1-62-10.6-28.4-8.6-25.6-8.4-27.2-9-32.7-8.9-36.2-24.1-110.9-9-38.1-6-21.6-5-14.8-5-11.6-4.7-8 0-8 166.8 0 260 0 0 503.1-640.1 0z"/>
<path fill="#482777" d="M1151.8 100.5l184.5 0 0 8-8.5 11.9-19 29.7-14 19.7-33 42.4-12 17.4-13 20.5-20.1 33.4-9.6 17-8.1 17-6.2 16.4-5.6 20.7-3.5 21-1.3 21 0.9 21 2.9 19 5 18 3.5 9 3.6 8 4.4 8 5 8 8.1 10.7 8.5 9.3 10 9 10.7 8 11.8 7.4 12.5 6.6 15.5 6.8 16 6 16 5 19.9 5.2 15.1 3.4 19 3.4 22 3.3 59 7.5 15 1.5 13.1 0.5 8-0.3 7-1 5-1.3 4-2.1 2.6-2.9 1.3-3 0.3-4-0.9-6-2.1-7-3.5-9-23.7-54.7-16.4-40.3-12-33-10.7-33.2-9.8-34.9-9.7-39-24.5-112.3-8-34.4-9-31.8-5-13.6-4.1-8.9 0-8 151.2 0 272 0 0 503.1-640.1 0z"/>
<path fill="#482878" d="M1151.8 100.5l180.4 0 0 8-22.4 34.8-14 20-27 34.5-12 16.5-15 22.7-23 37.5-10 17-7.8 15-6.1 14-5 14-3.1 11-2.4 11.1-3.3 22-0.9 22 1.4 21 1.5 10 2.1 10 5.6 18 3.8 9 4 8 4.7 8 5.5 8 8.1 10 9.8 10 10.1 8.4 12 8.4 12 7 12.7 6.2 16.9 7 16.4 5.8 17 4.9 20 5.1 36 6.9 88 13.7 23.1 2.5 19 0.9 10-0.6 5-1.7 2.1-2.5 0.3-2-0.6-3-4-9-14.8-26.5-10-18.9-16.6-34.6-9.9-23-10.2-25-8.4-22.3-7.4-21.7-12.2-40-11.4-43.6-9.5-41.5-18.5-86.3-8-33.8-7-24.9-4-11.7-3.3-8.3 0-8 126.4 0 294 0 0 503.1-640.1 0z"/>
<path fill="#482979" d="M1151.8 100.5l176.6 0 0 8-16.3 26-15 22-30.3 39-16 22.7-37.8 60.3-8 14-6.2 12.2-5.5 12.8-4.7 13-3.8 13.5-3.1 14.6-2.1 14-1.2 15-0.2 15 0.8 14 2.3 16 3.4 15 4.7 14 5.9 13 7.5 12.8 8.2 11.2 9.8 11 11.2 10 12.8 9.4 14 8.4 14.7 7.2 17 7 17.3 6 21 6.1 20 4.9 25 5 120.7 22 0 8-342.7 0zM1373.8 100.5l418.1 0 0 503.1-197.7 0 0-8-12.3-2.3-10-2.6-9-3-8-3.7-8-4.7-7-5.3-8-7.5-7-7.8-9-12-10-15.5-10-17.8-10.5-20.8-11-24-11.3-27-9.6-25-8.3-24-11.6-38-11.3-43.1-9.1-39-24.4-112.4-8-30.6-7-21z"/>
<path fill="#472a79" d="M1151.8 100.5l173.1 0 0 8-14.1 22.7-14 20.5-30 38.9-16 22.7-39 61.8-7.8 13.4-6.2 12-5.3 12-4.8 13-3.9 13.1-3.4 15-2.3 14-1.4 14-0.5 14 0.3 14 1.6 16 2.8 15 3.9 14 5.5 14 6.6 13 7.8 12 9.1 11.3 10 10.1 11 9.2 12.3 8.4 12.7 7.4 14 6.7 17 6.9 18 6.2 23 6.6 21 5.2 66 13.2 50.3 10.8 0 8-317.3 0zM1375.9 100.5l416 0 0 503.1-162.2 0 0-8-22.8-3.9-20-4.5-16-5.2-13-5.8-10-6-9-6.7-9-8.3-8-8.9-9.6-12.7-9.4-14.7-9.8-17.3-9.6-19-10.6-23.4-10.8-25.6-9.3-24.2-8.5-24.8-11.8-39.1-11.4-44-8.7-38-22.6-104.6-7-27.8-6.9-22.6z"/>
<path fill="#472b7a" d="M1151.8 100.5l169.8 0 0 8-11.8 19-14 20.5-30 39.1-15 21.3-40.1 63.1-7.7 13-6.2 12-5.4 12-4.9 13-4 13-3.3 14-2.5 14.1-1.6 14-0.8 14 0 13 1.2 16 2.3 15.4 3.5 14.6 4.8 14 5.9 13 7 12 8.7 12 9.1 10.2 10 9.3 11.1 8.5 12.9 8.3 14 7.6 16 7 18.6 7.1 16.4 5.2 22 6.1 20 4.8 58 12.4 35.8 8.5 0 8-299.8 0zM1377.8 100.5l414.1 0 0 503.1-135.2 0 0-8-28.8-4.4-25-5.3-21-6.1-17-6.9-13-7.1-11-7.8-10-8.9-10-10.9-9.6-12.6-9.4-14.6-9.4-16.4-10.1-20-10.1-22-10.9-26-9.2-24-8.2-24-12.2-40.4-11.7-45.7-8.6-38-20.7-96.6-7-28.6-6-20.8z"/>
<path fill="#472c7b" d="M1151.8 100.5l166.5 0 0 8-9.5 15.4-13.4 19.6-29.6 38.7-15 21.4-41.6 64.9-7.4 12.6-6 11.4-5.9 13-4.5 12-4.1 13-3.4 14-2.6 14.1-1.8 14-1 14-0.1 13 0.8 16 2.1 16 3.3 15 4.2 13.6 5.6 13.4 6.5 12 7.9 11.7 9 10.9 9.4 9.4 10.9 9 11.7 8.1 14 8.1 14 6.8 18 7.3 17 6 19.1 5.7 22.9 6.1 56 12.7 32.8 8.2 0 8-285.8 0zM1379.5 100.5l412.4 0 0 503.1-111.6 0 0-8-33.4-4.7-29-5.7-26-7-11-3.8-10-4.1-15-7.8-13-8.9-12-10.5-11-12.1-9.4-12.4-9.6-14.8-9.2-16.2-9.8-19.4-10.4-22.6-10.5-25-8.8-23-8.4-24.4-12.4-41.7-12-47-8.1-36-19.5-91.5-6-25.3-6.3-23.2z"/>
<path fill="#472e7c" d="M1151.8 100.5l163.3 0 0 8-7.3 11.7-13 19.1-29 38.1-15 21.4-43 66.7-7.1 12-6.4 12-5.5 12.3-4.5 11.7-4.1 13-3.4 13.1-2.8 14-2 14-1.1 14-0.4 14 0.6 16 1.7 16 2.9 15 4.1 14.5 5 13 6.2 12.5 7.6 12 8.2 10.7 9.7 10.3 10.1 9 11.2 8.2 14 8.6 13 6.8 15 6.6 18 6.8 18.3 6 29.7 8.3 51 12.2 29 7.5 0 8-274 0zM1381.1 100.5l410.8 0 0 503.1-90 0 0-8-28-3.5-25-3.9-22-4.5-21-5.4-14-4.4-13-4.8-12-5.5-11-6.2-10-6.7-9-7.3-9-8.7-8.1-9.1-9.8-13-9.1-14-9.7-17-9.7-19-10.1-22-10.5-25-8.7-23-8.4-24.2-12.5-41.9-12.1-48-7.9-35-19.5-91.8-6-25.4-4.7-17.8z"/>
<path fill="#47307d" d="M1151.8 100.5l156.9 0 0 8-2.5 4-12.4 18.1-28 37.2-15 21.5-45.1 69.2-7.8 13-6.1 11.6-5.2 11.4-5 13-4.2 13-3.6 14-2.9 14-2.1 14.1-1.4 14-0.5 14 0.3 16 1.4 16 2.4 15 3.7 15 4.4 13 5.8 13 6.7 12 7.7 11 8.5 10.1 10 9.9 10 8.2 12 8.3 13 7.6 13.7 6.9 16.6 7 19 7 37.7 11.4 66.4 17.6 0 8-254.4 0zM1384 100.5l407.9 0 0 503.1-50.3 0 0-8-42.7-4.9-35-5.3-30-6.3-28-7.9-14-4.8-13-5.4-12-5.9-11-6.5-10-7-9-7.5-9-8.8-8.6-9.7-9.4-12.6-9.4-14.4-9.6-17-9.7-19-10.1-22-10.3-24.5-8.5-22.5-8.5-24.5-13-43.7-12.4-49.9-25.6-119.7-8.8-37.3z"/>
<path fill="#46327e" d="M1151.8 100.5l150.3 0 0 8-12.3 17.7-25 33.5-13 18.7-48.2 73.1-7.8 13-6.3 12-5.7 12.7-5 13.1-4.2 13.2-3.7 14-3 14-2.2 14.1-1.5 14-0.8 14 0.1 17 1.2 16 2.2 15 3.3 15 4.2 14 5.2 13 6.2 12 7 10.9 8 10.4 9 9.7 10 9.1 11 8.3 13.5 8.6 14.5 7.8 13.5 6.2 17.5 7 16 5.6 18 5.7 66.4 18.7 0 8-238.4 0zM1386.7 100.5l405.2 0 0 503.1-13.7 0 0-8-58.3-6.3-44-6.5-19-3.8-18-4.2-17-4.7-17-5.5-14-5.4-13-5.7-12-6.3-10-6.2-10-7.3-9-7.7-9-8.9-8.3-9.5-9.7-13.1-9.6-14.9-9.4-16.6-9.4-18.4-10.1-22-10.1-24-8.7-23-8.3-24.1-13.4-45-12.7-51-24.4-115.3-7.1-31.7z"/>
<path fill="#463380" d="M1151.8 100.5l143.5 0 0 8-29.5 40.3-14 20.3-26 39.9-24.1 35.5-7.9 13.1-7 13.4-6 13.5-4.8 13-4.2 13.1-4 14.9-3 14.3-2.4 14.8-1.6 14-0.8 14 0 16 0.9 16 2.1 16 3.1 15 3.9 14 4.8 13 6 12.7 6.7 11.3 8 11 8.8 10 9.5 9.1 11 8.9 11.8 8 14.2 8.1 13.9 6.9 15.1 6.3 17.7 6.7 17.3 5.8 61.5 18.2 0 8-224.5 0zM1389.1 100.5l402.8 0 0 492.4-8 0-37-3.9-30-3.8-26-4-20-3.8-19-4.3-18-4.7-17-5.4-16-5.8-15-6.3-13-6.5-12-7.1-11-7.6-10-8.3-10-9.7-8.9-10.1-9.8-13-9.3-14.3-9.6-16.7-9.8-19-10.1-22-10.1-24-8.8-23-8.3-24.1-6.9-22-6.9-24-12.9-52-29.4-139z"/>
<path fill="#453581" d="M1151.8 100.5l136.6 0 0 8-31.6 43.9-31 47.3-24 34.8-10 16.4-5.6 10.6-5.1 11-8.8 23-7.4 26-5.1 25.8-8 0zM1391.4 100.5l400.5 0 0 489.3-8 0-34-3.8-30-4-26-4.2-20-4-19-4.4-18-5-17-5.5-17-6.4-15-6.5-13-6.5-12-7.1-11.2-7.8-10.8-9-10-9.8-9-10.2-10-13.3-9.6-14.7-9.4-16.5-9.5-18.5-9.7-21-10.2-24-8.9-23-8.3-24.1-7-22-6.9-24-13.2-53-8.1-37-19.7-96zM1151.8 431.6l0-0.9 8 0 4 18.7 5.3 17.2 6.8 16 7.9 14.2 7 10 8 9.6 9 9.1 9 7.8 11 8.2 12 7.5 15 8.1 15 6.9 18 7.2 18 6.4 57.9 18 0 8-211.9 0z"/>
<path fill="#453782" d="M1151.8 100.5l129.6 0 0 8-23.6 33.1-31 47.4-24 34.4-10 15.7-10 18.8-9 21.3-8 24.1-6 23.9-8 0zM1393.5 100.5l398.4 0 0 486.3-8 0-33-3.9-29-4.1-26-4.4-20-4.1-18-4.4-18-5.1-17-5.6-17-6.6-15-6.5-14-7.2-12-7.1-11-7.7-11-9-10-9.6-9.7-10.9-9.8-13-9.5-14.5-9.6-16.5-9.3-18-9.8-21-10.6-25-9.2-24-8.1-23.1-7.3-23-6.9-24-13.4-54-9.2-42-17-84zM1151.8 446.6l0-0.5 8 0 4.1 14.5 4.9 13.6 5.7 12.4 6.3 11.2 7.5 10.8 8.4 10 10 10 10.1 8.6 10.3 7.4 11.4 7 14.3 7.7 14 6.5 16.7 6.8 18.3 6.7 50.4 16.3 0 8-200.4 0z"/>
<path fill="#443983" d="M1151.8 100.5l122.7 0 0 8-18.7 26.8-31 47.5-22.3 31.7-9.8 15-9.9 18.1-8.5 18.9-8 22-6.5 22.5-8 0zM1395.6 100.5l396.3 0 0 483.4-8 0-31-3.8-29-4.3-26-4.6-20-4.2-19-4.8-17-5.1-17-5.8-18-7.1-15-6.7-14-7.3-12-7.3-11-7.7-11-9.1-10-9.7-9.6-10.8-9.9-13-9.5-14.6-9.6-16.4-9.3-18-9.8-21-10.2-24-9.3-24-8.4-24.1-7.3-23-7-24-6.8-26-6.7-28-9.3-43-15.6-78zM1151.8 457.6l8-0.1 4.4 13.1 5.1 12 5.6 11 6.1 10 7.4 10 7.9 9 9.3 9 10.2 8.4 10 7.1 10.5 6.5 14.5 7.8 13.2 6.2 33.1 13 44.8 15 0 8-190.1 0z"/>
<path fill="#443b84" d="M1151.8 100.5l116 0 0 8-14 20.7-28 43.1-24.2 34.2-9.9 15-8.9 16-8.4 18-7.7 20-6.9 21.4-8 0zM1397.5 100.5l394.4 0 0 480.6-8 0-30-3.9-29-4.4-25-4.6-19-4.2-19-4.9-18-5.4-17-5.9-17-6.9-16-7.3-14-7.3-12-7.3-12-8.5-10.8-8.9-10.2-10-9-10.1-10-13.1-9.8-14.8-9.3-16-9.4-18-9.8-21-10.2-24-9.4-24.1-8.5-24-7.4-23-6.9-24-6.9-26-6.7-28-10-46-14.1-71zM1151.8 467.6l0-0.8 8 0 4.6 11.8 5.4 11.6 5.9 10.4 6 9 7.1 9 7.4 8 8.6 8.1 10 8.1 9.7 6.8 10.3 6.3 14 7.5 13 6.2 30.2 12 40.7 14 0 8-180.9 0z"/>
<path fill="#433d85" d="M1151.8 100.5l109.6 0 0 8-35.6 54.8-25 35.1-10 15.2-8.9 15.9-7.6 16-7.5 18.4-7 20.1-8 0zM1399.4 100.5l392.5 0 0 477.8-8 0-30-4-28-4.5-25-4.7-19-4.3-18-4.8-18-5.6-17-6-17-7-16-7.4-14-7.4-13-8-12-8.5-11-9.2-10-9.8-9-10.2-10-13.1-9.5-14.2-9.3-16-9.4-18-9.4-20-10.3-24-9.4-24.1-8.8-24.5-7.5-23.5-7-24-6.9-26-6.8-28-10.2-47-13-66zM1151.8 475.6l0-0.8 8 0 4.6 10.8 5.4 10.5 5.7 9.5 6.3 8.8 6.8 8.2 7.7 8 8.5 7.7 9 7.2 10 6.9 10 6 26 13.1 28 11.3 36.3 12.8 0 8-172.3 0z"/>
<path fill="#423f85" d="M1151.8 100.5l103.5 0 0 8-29.5 45.9-26 36.3-10.4 15.8-8.4 15-7.2 14.9-7.2 17.1-6.8 18.5-8 0zM1401.2 100.5l390.7 0 0 475.1-8 0-27-3.7-29-4.7-25-4.9-19-4.4-18-4.9-18-5.7-17-6.2-17-7-17-8-14-7.6-13-8-12-8.7-11-9.2-10-9.8-9-10.2-10-13-9.3-14-9.3-16-9.4-18.1-9.9-20.9-9.8-23-9.4-24.1-8.6-24-7.8-24-7.1-24-6.9-26-6.6-27-10.2-47-12.4-63zM1151.8 482.6l0-0.7 8 0 5 10.6 5 9.1 5.8 9 6 8 6.9 8 6.9 7 7.9 7 8.9 7 8.6 6 10 6.1 25.3 12.9 24 10 35.8 13 0 8-164.1 0z"/>
<path fill="#424186" d="M1151.8 100.5l97.6 0 0 8-23.6 36.9-27 37.7-11 16.8-7 12.5-7 14.1-7 16.1-7 18-8 0zM1403 100.5l388.9 0 0 472.4-8 0-27-3.8-28-4.7-25-5-19-4.6-18-5-18-5.8-17-6.3-17-7.2-17-8.2-14-7.6-13-8.2-12-8.7-10.9-9.2-10.1-10-9-10.2-9.8-12.8-9.3-14-9.4-16-9.5-18.3-9.3-19.7-9.9-23-9.4-24.1-9-25-7.5-23-7.1-24-6.9-25.2-6.8-27.8-9-41-9.7-49-3.3-17zM1151.8 488.6l8-0.3 4.7 9.3 5.3 9 5.4 8 5.6 7.3 6.8 7.7 7.2 7 15.7 13 8.7 6 9.6 5.9 23.6 12.1 21.4 9.2 34.4 12.8 0 8-156.4 0z"/>
<path fill="#414387" d="M1151.8 100.5l91.9 0 0 8-18.9 29.5-27 37.5-11.6 18-6.7 12-6.7 13.4-13 30.8-8 0zM1404.7 100.5l387.2 0 0 469.8-8 0-26-3.8-28-4.8-25-5.2-19-4.6-18-5.1-17-5.7-17-6.4-17-7.3-17-8.2-14-7.7-13-8.2-12-8.7-11-9.2-10.1-9.8-9.9-11.2-9.8-12.8-9.3-14-9.4-16-9.4-18-9.4-20-9.4-22-9.9-25.1-8.6-24-7.6-23-7.3-24.3-6.9-25.7-6.7-27-8.8-40-9-45-3.7-19zM1151.8 494.6l0-0.4 8 0 10 17.2 10.7 14.2 13.3 13.6 15.2 12.4 17.8 11.6 22 11.3 20.5 9.1 31.6 12 0 8-149.1 0z"/>
<path fill="#404587" d="M1151.8 100.5l86.3 0 0 8-14.3 22.1-27 37.4-11.9 18.5-12.2 23-12.9 29.7-8 0zM1406.4 100.5l385.5 0 0 467.2-8 0-25-3.7-28-5-25-5.2-19-4.8-18-5.2-17-5.8-17-6.5-17-7.5-16-7.8-15-8.3-13.1-8.3-11.9-8.7-11-9.3-10.3-10-9.7-11-9.9-13-9.1-13.8-9.6-16.2-8.9-17-9.4-20-9.4-22-9.5-24.1-9-25-8-24-7.2-24-6.8-25-6.7-27-8.5-38-8.7-43-3.8-20zM1151.8 500.6l0-0.9 8 0 9.8 15.9 10.2 13 12.8 13 14.9 12 16.3 10.6 19.7 10.4 22.1 10 28.5 11 0 8-142.3 0z"/>
<path fill="#404688" d="M1151.8 100.5l80.6 0 0 8-12.6 19-25 34.5-11.7 18.5-11.3 21.5-12 27-8 0zM1408.1 100.5l383.8 0 0 464.7-8 0-25-3.9-28-5.1-24-5.1-19-4.9-17-5-17-5.8-17-6.6-17-7.6-17-8.4-15-8.4-13-8.4-12-8.8-11-9.3-10-9.8-9.4-10.5-9.6-12.5-9.7-14.5-9.3-15.8-9-17.2-9.5-20-9.1-21-9.8-25.1-8.8-24-7.6-23-7.3-24-7-25-6.7-27-8.4-37-8.6-42-4-21zM1151.8 505.6l0-0.9 8 0 9.6 14.9 10.4 12.8 12 11.7 14.4 11.5 15.3 10 17.3 9.3 23 10.6 25.7 10.1 0 8-135.7 0z"/>
<path fill="#3f4889" d="M1151.8 100.5l74.9 0 0 8-8.9 12.9-23 31.7-13.4 21.4-10.6 20.2-11 24.3-8 0zM1409.8 100.5l382.1 0 0 462.2-8 0-24-3.8-27-5-25-5.5-18-4.6-18-5.5-17-5.9-17-6.7-17-7.6-17-8.6-15-8.6-13-8.3-12-8.9-11-9.4-10-9.8-9.7-10.9-10-13-9.3-14-9-15.5-9-17.1-9.2-19.4-9.1-21-9.5-24.1-9.1-25-7.7-23-7.5-24.4-7-25.3-6.6-26.3-8.4-37-8.4-41-3.6-19zM1151.8 509.6l8-0.1 9 13.3 10 12.1 11 10.7 13.7 11 15.1 10 16.2 8.8 23.9 11.2 22.5 9 0 8-129.4 0z"/>
<path fill="#3e4a89" d="M1151.8 100.5l68.9 0 0 8-26.9 37.2-7 10.7-7.1 12.1-9.9 19-10 21.7-8 0zM1411.4 100.5l380.5 0 0 459.7-8 0-22-3.6-28-5.2-24-5.3-19-5-17-5.2-17-6-17-6.8-17-7.7-17-8.6-15-8.6-13-8.3-12-8.9-11-9.3-10.5-10.1-9.8-11-9.7-12.7-9-13.4-9.5-15.9-9-17-9-19-9.1-21.1-9.1-23-9.2-25-8.1-24-7.4-24-7-25-6.7-25.8-8.3-36.2-8.2-40-3.9-20zM1151.8 514.6l0-0.6 8 0 10 14 11.2 12.6 13.4 12 15.4 11.1 12.9 7.9 13.5 7 20.6 9.5 18.3 7.5 0 8-123.3 0z"/>
<path fill="#3d4c8a" d="M1151.8 100.5l62.6 0 0 8-22.6 31.3-7 10.9-7.3 12.8-8.7 16.8-9 19.3-8 0zM1413 100.5l378.9 0 0 457.3-8 0-22-3.7-27-5.1-25-5.7-19-5.1-17-5.3-17-6.1-16-6.6-16.7-7.6-16.3-8.4-15.1-8.6-13.9-9.1-12-8.8-11-9.4-10.1-9.7-9.9-11.1-10-12.9-9-13.5-9-15.2-9-16.9-8.8-18.4-9.2-21.1-9.1-23-9.2-25-8.2-24-7.4-24-7.1-25-6.7-26-8.4-36-8.3-40-3.5-18zM1151.8 518.6l0-0.4 8 0 10 13.5 11 12 12.5 10.9 15.3 11 11.4 7 12.8 6.8 19.8 9.2 16.6 7 0 8-117.4 0z"/>
<path fill="#3d4e8a" d="M1151.8 100.5l56.1 0 0 8-18.1 25.5-14 23.6-16 32.5-8 0zM1414.6 100.5l377.3 0 0 454.9-8 0-20-3.4-27-5.2-25-5.8-18-4.8-18-5.7-17-6.1-16-6.6-17-7.8-17-8.9-15-8.6-14-9.2-12-8.9-11-9.4-10-9.7-10-11.2-9-11.6-9.5-13.9-9-15-9.1-17-9.1-19-8.7-20.1-9.1-23-8.9-24-8.2-24-7.6-24-7.1-25-6.8-26-8.3-35-8.2-39-3.7-19zM1151.8 522.6l0-0.3 8 0 10 12.9 10.7 11.4 12.3 10.5 14 10 11 6.7 12 6.5 33.8 15.3 0 8-111.8 0z"/>
<path fill="#3c4f8b" d="M1151.8 100.5l49.6 0 0 8-14.6 21.3-13.6 23.7-13.4 27.2-8 0zM1416.2 100.5l375.7 0 0 452.5-8 0-21-3.7-27-5.3-24-5.7-18-4.9-17-5.5-17-6.2-16-6.6-17-8-17-9-15-8.7-14-9.2-12-9-11-9.4-10.5-10.2-9.5-10.8-9-11.5-9.4-13.7-8.9-15-9.1-17-8.7-18-8.7-20.1-8.8-22-8.9-24-8.3-24-7.6-24-7.3-25-6.8-26-8.3-35-8.1-38-3.8-19zM1151.8 526.6l0-0.4 8 0 10 12.4 10 10.4 12 10.1 14 9.9 10.8 6.6 11.2 6 30.6 14 0 8-106.6 0z"/>
<path fill="#3b518b" d="M1151.8 100.5l43.3 0 0 8-12.3 18.9-11.2 20.1-11.8 24-8 0zM1417.8 100.5l374.1 0 0 450.1-8 0-20-3.5-27-5.5-24-5.7-18-5-17-5.5-17-6.3-16-6.8-17-8-16.3-8.7-15.7-9.3-14-9.2-12-9.1-11-9.4-10.3-10-9.7-11-9-11.5-9.2-13.5-8.8-14.7-8.8-16.3-8.7-18-8.8-20.1-8.4-21-9-24-8.6-25-7.7-24-7.3-25-6.8-25.4-8.2-34.6-8.2-38-3.6-18zM1151.8 530.6l0-0.7 8 0 9.7 11.7 10.3 10.3 11.7 9.7 13.3 9.3 20.4 11.7 28.1 13 0 8-101.5 0z"/>
<path fill="#3a538b" d="M1151.8 100.5l37.3 0 0 8-9.8 16-9.7 18-9.8 19.8-8 0zM1419.4 100.5l372.5 0 0 447.7-8 0-20-3.6-27-5.5-24-5.8-18-5.2-16.8-5.5-16.2-6.1-16-6.9-16.8-8-16.2-8.7-16-9.5-14-9.4-12-9.1-11-9.4-10.2-9.9-9.8-11.1-9-11.6-9.2-13.3-8.8-14.8-8.7-16.2-8.7-18-8.4-19.1-8.4-21-8.6-23-8.7-25-8.1-25-7.3-25-6.7-25-8.5-34.9-8-37.1-3.4-17zM1151.8 533.6l8-0.2 9.5 11.2 10.2 10 11.1 9 13 9 19.2 11 25.6 12 0 8-96.6 0z"/>
<path fill="#3a558c" d="M1151.8 100.5l31.7 0 0 8-7.7 13.4-8.2 15.6-7.8 15.6-8 0zM1421 100.5l370.9 0 0 445.4-8 0-19-3.5-27-5.6-24-5.9-18-5.2-17-5.7-16-6.1-16-6.9-17-8.3-16-8.6-16-9.7-14-9.4-12-9.1-11-9.5-10.1-9.8-9.9-11.2-9-11.5-9-13.2-8.6-14.1-8.4-15.7-8.5-17.3-8.4-19.1-8.5-21-8.3-22-8.7-25-8.1-25-7.6-25.3-6.9-25.7-8.4-34-8-37-3.5-17zM1151.8 537.6l0-0.8 8 0 8 9.3 8 7.9 8.8 7.6 9.3 7 10.9 7.1 12 7 11.5 5.9 15.4 7 0 8-91.9 0z"/>
<path fill="#39568c" d="M1151.8 100.5l26.5 0 0 8-12.5 23.5-6 12-8 0zM1422.6 100.5l369.3 0 0 443.1-8 0-18-3.4-27-5.6-24-6-17.1-5-16.9-5.7-16.6-6.3-16.1-7-16.3-8-17-9.3-16-9.7-14-9.5-12-9.2-11-9.5-10-9.8-10-11.2-9-11.6-9-13.1-8.6-14.1-8.1-15-8.3-17.2-8.4-18.9-16.5-42-16.9-50-7.5-25-7.2-26-8.4-34-7.9-36-3.5-17zM1151.8 540.6l0-0.5 8 0 7.5 8.5 7.5 7.3 8 6.9 9 6.8 10.6 7 11.9 7 11.5 5.9 13.2 6.1 0 8-87.2 0z"/>
<path fill="#38588c" d="M1151.8 100.5l21.6 0 0 8-9.4 18-4.2 8.4-8 0zM1424.2 100.5l367.7 0 0 440.8-8 0-17-3.2-27-5.8-24-6-17-5-17-5.8-16-6.2-16-7-16-7.8-16.2-8.9-16.5-10-14.3-9.7-12.3-9.3-11.6-10-10.2-10-9.9-11.2-9-11.5-8.5-12.3-8.5-14-8.2-15-8.3-17-8.1-18.1-8.2-20-8.3-22-9.2-26-8.1-25-7.6-25-7.1-25.6-8.5-34.4-8-36-3.1-15zM1151.8 543.6l8-0.3 7.6 8.3 7.3 7 7.1 6 9 6.8 10 6.5 11 6.5 22.5 11.2 0 8-82.5 0z"/>
<path fill="#375a8c" d="M1151.8 100.5l16.8 0 0 8-6.1 12-2.7 5.4-8 0zM1425.8 100.5l366.1 0 0 438.5-8 0-16-3.1-27-5.8-24-6.1-17-5.1-17-5.8-16-6.2-16-7.1-16-7.9-16-8.9-16-9.8-15-10.1-12.4-9.5-11.6-10-10.1-10-9.9-11.1-9-11.6-8.5-12.3-8.5-14-8-14.7-8.1-16.3-8.1-18.1-16.2-41-17.4-51-7.5-25-7.3-26-8.5-33.7-8-35.6-3-14.7zM1151.8 546.6l8-0.2 14 14.1 15.3 12.1 19.1 12 21.6 11 0 8-78 0z"/>
<path fill="#365b8d" d="M1151.8 100.5l12.2 0 0 8-3 6-1.2 2.3-8 0zM1427.4 100.5l364.5 0 0 436.2-8 0-16-3.1-26-5.7-24-6.2-18-5.4-16-5.5-16-6.3-16-7.2-16-8-16-8.9-17-10.5-14-9.6-12.6-9.7-11.4-10-10.2-10-9.8-11-9-11.5-8-11.6-8.6-13.9-8.2-15-7.9-16.1-8.1-18-15.9-40-8.8-25-8.9-27-14.7-50.1-8.5-33.9-8-35-2.9-14zM1151.8 549.6l8-0.2 13 12.9 14.4 11.3 18.6 11.8 19.7 10.2 0 8-73.7 0z"/>
<path fill="#365d8d" d="M1429 100.5l362.9 0 0 433.9-8 0-16-3.1-27-6-23-6.1-17-5.2-17-5.9-16-6.5-15-6.7-16-8.1-16-9-16.4-10.2-14.6-10.1-12.9-9.9-11.1-9.8-10.4-10.2-9.6-10.9-9-11.5-8-11.6-8-12.9-8-14.5-8-16.1-8-17.6-15.6-39-8.9-25-8.9-27-15.1-51-8.6-33.5-8.1-35.5-2.7-13zM1151.8 552.6l8-0.3 12.7 12.3 13.3 10.4 16.7 10.6 18.8 10 0 8-69.5 0z"/>
<path fill="#355e8d" d="M1430.6 100.5l361.3 0 0 431.7-8 0-15-3-27-6.1-23-6.1-17-5.2-16-5.7-16-6.4-16-7.3-16-8.1-16-9.1-16-10.1-15-10.4-13-10.1-11-9.6-10-9.9-10-11.2-8.9-11.3-8.1-11.7-8-13-8-14.5-8-15.9-7.7-17-15.6-39-17.5-51-15.3-51.5-8.6-33.5-8.1-35-2.5-12zM1151.8 555.6l0-0.5 8 0 12.1 11.5 12.9 10 15 9.6 17.4 9.4 0 8-65.4 0z"/>
<path fill="#34608d" d="M1432.2 100.5l359.7 0 0 429.4-8 0-14-2.8-26-5.9-24-6.4-17-5.3-16.7-5.9-16.3-6.7-15-6.9-16-8.2-16-9.2-16-10.1-15-10.5-13-10.1-11-9.7-10-9.9-10-11.2-9-11.5-8-11.5-8-13-7.6-13.5-7.5-15.1-7.9-17.2-15.6-38.8-8.9-25-8.7-26-15.4-52-8.9-34-8.1-35-2.1-10zM1151.8 558.6l0-0.7 8 0 11.6 10.7 11.6 9 13.9 9 16.4 9 0 8-61.5 0z"/>
<path fill="#33628d" d="M1433.8 100.5l358.1 0 0 427.2-8 0-14-2.9-26-6-24-6.5-17-5.3-16-5.8-16-6.6-15.2-7-15.8-8.3-16-9.2-16.5-10.5-14.5-10.3-12.5-9.7-11.4-10-10.1-10.1-10-11.2-9-11.4-7.9-11.3-7.5-12-7.8-14-7.8-15.6-7.6-16.5-15-37-8.6-24-9-27-15.9-52.9-8.9-34.1-8.1-34.5-2-9.5zM1151.8 560.6l8-0.1 11 10.1 11 8.4 13 8.4 14.7 8.2 0 8-57.7 0z"/>
<path fill="#33638d" d="M1435.4 100.5l356.5 0 0 424.9-8 0-13-2.7-26-6-24-6.5-17-5.4-16-5.9-16-6.6-15-7-16-8.4-16-9.3-16-10.3-15-10.6-12.9-10.1-11.1-9.9-10.3-10.1-9.7-11-8.7-11-7.7-11-7.6-12.1-8-14.3-8-15.7-7.3-16-15-37-8.3-23-8.7-26-16.3-54-8.9-34-8.3-35-1.7-8zM1151.8 563.6l0-0.5 8 0 10.6 9.5 10.4 7.9 11 7.2 14 7.9 0 8-54 0z"/>
<path fill="#32658e" d="M1437 100.5l354.9 0 0 422.7-8 0-12-2.5-26.1-6.1-23.9-6.6-17-5.4-16-5.9-16-6.7-15-7-16-8.5-16-9.4-16.3-10.5-14.7-10.5-13-10.3-11-9.8-10-9.9-10-11.2-8.9-11.3-7.8-11-7.5-12-7.8-14-7.7-15.1-7.3-15.9-14.7-36.1-8.7-24-8.3-25-16.4-54.1-9-34-8.3-34.9-1.5-7zM1151.8 566.6l0-0.9 8 0 9 7.9 10.4 8 10.7 7 12.2 7 0 8-50.3 0z"/>
<path fill="#31668e" d="M1438.6 100.5l353.3 0 0 420.5-8 0-12-2.6-26-6.1-24-6.7-17-5.6-16-5.9-15-6.3-15.1-7.2-15.9-8.5-16-9.4-16-10.5-14.9-10.6-12.6-10-11.5-10.3-10-9.9-10-11.2-9-11.4-7.9-11.2-7.5-12-7.3-13-7.3-14.4-7.3-15.7-14.8-36-8.3-23-8.4-25-16.7-55-9.1-34-8.5-35.5-1.2-5.5zM1151.8 568.6l0-0.5 8 0 8.6 7.5 9.4 7.2 10 6.6 10.7 6.2 0 8-46.7 0z"/>
<path fill="#30688e" d="M1440.2 100.5l351.7 0 0 418.3-8 0-12-2.6-26-6.3-24-6.8-17-5.6-15.8-5.9-15.2-6.5-15-7.3-15.4-8.2-15.6-9.4-16-10.5-15-10.8-12.9-10.3-11.1-9.9-10.2-10.1-9.8-11-8.7-11-7.8-11-7.5-12-7.4-13.1-7.6-14.8-7.1-15.2-14.7-36-8.4-23-8.4-25-16.6-55-9.4-35-8.4-35-0.7-3zM1151.8 570.6l8-0.1 8 6.9 8.2 6.2 8.9 6 10.2 6 0 8-43.3 0z"/>
<path fill="#306a8e" d="M1441.9 100.5l350 0 0 416-8 0-11-2.4-26-6.3-24-6.8-17-5.6-15.3-5.8-15.7-6.8-15-7.2-16-8.7-15-9.1-16-10.6-15-10.9-13-10.4-11-9.8-10.5-10.5-9.5-10.7-8-10.1-8.1-11.2-7.6-12-7.4-13.1-7.2-14-7.5-16-14.5-35-8.3-23-8.1-24-16.7-55-9.5-35-8.5-35-0.6-3zM1151.8 573.6l0-0.7 8 0 15 12 16.8 10.7 0 8-39.8 0z"/>
<path fill="#2f6b8e" d="M1443.5 100.5l348.4 0 0 413.8-8 0-11-2.4-26-6.4-23-6.6-17-5.7-15-5.7-15-6.4-15.4-7.5-15.6-8.5-15-9.1-15.8-10.4-15.2-11.1-12.5-9.9-11.5-10.2-10.9-10.8-9.9-11-8.2-10.4-8-11.2-8-12.4-7-12.5-7.6-14.6-7-15-14.1-34-8-22-8.5-25-16.7-55-9.5-35-8.7-35.4zM1151.8 575.6l0-0.4 8 0 14 11.1 14.5 9.3 0 8-36.5 0z"/>
<path fill="#2e6d8e" d="M1445.1 100.5l346.8 0 0 411.6-8 0-11-2.5-26-6.4-23-6.7-17-5.8-15-5.8-15-6.5-15-7.4-15.4-8.4-15.6-9.6-15.6-10.4-15-11-12.4-10.1-12-10.7-10.3-10.2-9.7-11-8.1-10-7.9-11.2-7.6-11.8-7.4-13-7.3-14.1-7.1-15-14.1-34-8-22-8.2-24-16.7-55-9.7-35.4-8.7-35.6zM1151.8 577.6l8-0.1 12 9.4 13.3 8.7 0 8-33.3 0z"/>
<path fill="#2e6e8e" d="M1446.8 100.5l345.1 0 0 409.4-8 0-10-2.3-26-6.5-23-6.7-17-5.8-15-5.8-15-6.6-15-7.4-16-8.9-15-9.2-15-10.1-15-11.1-13-10.5-11.7-10.4-10.3-10.4-10-11.2-8.4-10.4-7.8-11-7.7-12-7.1-12.5-14-28.3-14-33.6-8-21.7-8.2-24-16.4-54-9.9-36-8.6-35zM1151.8 580.6l0-0.9 8 0 11 8.5 11.1 7.4 0 8-30.1 0z"/>
<path fill="#2d708e" d="M1448.4 100.5l343.5 0 0 407.2-8 0-10-2.3-26-6.6-23-6.9-16-5.4-15.1-5.9-14.9-6.6-15-7.5-15-8.3-15.6-9.6-15.4-10.5-15-11.1-12.9-10.4-11.2-10-10.9-11-9.9-11-8.1-10.2-8-11.1-7.6-11.8-6.9-12-7.3-14-7.2-15-13.7-33-8.1-22-7.9-23-16.2-53-9.9-36-8.7-35zM1151.8 582.6l0-0.7 8 0 9 6.9 10 6.8 0 8-27 0z"/>
<path fill="#2d718e" d="M1450.1 100.5l341.8 0 0 404.9-8 0-9-2-26-6.7-23-6.8-17-5.9-15-5.9-14.5-6.5-14.5-7.3-15-8.4-15.1-9.3-14.9-10.2-15.9-11.8-13.1-10.7-11.5-10.3-10.5-10.5-10-11.3-8-10-8-11.1-7.3-11.2-7-12-14-28-13.9-33-15.6-44-16-52-10-36-9-36zM1151.8 584.6l0-0.6 8 0 16 11.6 0 8-24 0z"/>
<path fill="#2c748e" d="M1451.7 100.5l340.2 0 0 402.7-8 0-8-1.8-26-6.7-23-6.9-17-5.9-15-6-15-6.7-14-7.1-15-8.4-15-9.4-15-10.3-15.3-11.4-12.7-10.4-12-10.7-11-10.9-9.8-11-8.2-10.3-8-11.1-7.6-11.7-6.9-12-6.9-13-7.2-15-13.4-32-7.8-21-7.9-23-15.6-51-10-36-8.9-35zM1151.8 586.6l0-0.5 8 0 13.1 9.5 0 8-21.1 0z"/>
<path fill="#2a778e" d="M1455.1 100.5l336.8 0 0 398.3-8 0-8-1.9-26-6.9-23-7-16-5.7-15-6.1-14.6-6.6-14.4-7.4-15-8.6-14.2-9-14.8-10.3-15-11.4-13-10.7-12-10.8-10.9-10.8-9.8-11-8.3-10.4-7.7-10.6-7.3-11.2-7-11.9-7-13.1-7-14.5-13.3-31.4-15.1-42-15.2-49-10.3-37-8.9-35zM1151.8 590.6l0-0.5 8 0 7.5 5.5 0 8-15.5 0z"/>
<path fill="#297a8e" d="M1458.4 100.5l333.5 0 0 393.8-8 0-6-1.4-26-6.9-23-7.2-16-5.7-15-6.1-15-7-14-7.2-14.2-8.2-14.8-9.5-15-10.5-14.4-11-13.6-11.4-11.8-10.6-11-11-9.8-11-8.4-10.5-7.7-10.6-7.3-11.1-7-11.8-13.4-26.1-13.2-31-14.9-41-14.9-48-10-36-9.1-35zM1151.8 594.6l0-0.5 8 0 2.1 1.5 0 8-10.1 0z"/>
<path fill="#287d8e" d="M1461.7 100.5l330.2 0 0 389.3-8 0-5-1.2-26-7-23-7.3-16-5.8-15-6.2-14-6.6-14-7.3-15-8.8-14-9-14.1-10-14.2-11-13.7-11.5-12-10.8-11-11-10.6-11.7-8.4-10.6-7.7-10.5-7.3-11.1-7-11.7-13-25.3-13.3-30.9-14.6-40-14.6-47-9.3-33-9.4-36z"/>
<path fill="#27808e" d="M1465.1 100.5l326.8 0 0 384.8-8 0-5-1.2-26-7.2-22.7-7.3-15.3-5.7-15-6.3-14-6.6-14-7.5-14-8.3-14-9.2-14-10.1-14-10.9-14-11.8-12-10.9-11-11.1-10.5-11.6-8.5-10.6-7.7-10.5-7.3-11.1-7-11.6-13-25.1-13-30.1-14.3-39.1-14.4-46-9-32-9.1-35z"/>
<path fill="#26838e" d="M1468.4 100.5l323.5 0 0 380.3-8 0-3-0.8-26-7.2-23-7.5-15.3-5.7-14.7-6.2-14-6.7-14-7.6-14-8.4-13.9-9.1-13.8-10-13.3-10.5-14-11.9-12.7-11.6-11.3-11.4-10-11.2-8-9.8-8-10.8-14.1-21.9-12.9-24.5-13-29.6-14.1-37.9-14.2-45-9-32-9.2-35z"/>
<path fill="#24868e" d="M1471.7 100.5l320.2 0 0 375.8-8 0-3-0.8-25-7.1-23.6-7.8-15.7-6-14.7-6.4-13.6-6.6-13.4-7.4-14-8.5-13-8.7-13-9.6-13.7-10.8-14.3-12.3-12.7-11.7-11.3-11.5-10-11.1-16-20.6-7.3-10.9-7.4-12-12.7-24-12.6-28.8-14-37.8-13.8-43.4-8.7-31-8.7-33z"/>
<path fill="#23898e" d="M1475 100.5l316.9 0 0 371.2-9-0.3-26-7.5-23-7.7-15-5.7-15-6.6-14-6.9-13.5-7.4-13-8-13.3-9-13.2-9.8-13-10.4-14-12.1-13-12.1-11.5-11.6-10.5-11.7-16-20.6-14.1-21.8-12.9-24.1-12.4-27.9-13.9-37-13.7-43-8.5-30-8.4-32z"/>
<path fill="#228c8d" d="M1478.3 100.5l313.6 0 0 366.5-9-0.2-25-7.3-23.2-7.9-15.3-6-14.5-6.4-13.3-6.6-13.7-7.7-13-8.1-13-8.9-13-9.7-13-10.5-13.9-12.1-12.8-12-11.3-11.6-10.3-11.5-16.5-21-14.2-21.9-13-24.1-12-26.7-13.7-36.3-13.3-41.6-8.2-28.4-8.4-32z"/>
<path fill="#218f8d" d="M1481.5 100.5l310.4 0 0 361.8-8 0-25-7.3-23-8-15-5.9-14.7-6.5-13.3-6.8-13-7.3-13-8.1-12.8-8.8-13.2-10-12.3-10-13.6-12-13.1-12.4-11.4-11.7-10.6-11.7-16-20.3-14.5-22-12.6-23-12.3-27-13.4-35-13.3-41-8-28-8.3-31z"/>
<path fill="#20928c" d="M1484.8 100.5l307.1 0 0 357.1-8 0-25-7.5-22-7.7-15-6-14-6.3-14-7.2-12.9-7.3-12.6-8-12.5-8.8-24.4-19.2-13.5-12-13.1-12.5-12-12.3-10.2-11.3-16.6-21-14.2-21.4-13-23.4-12-26-13.2-34.2-13.1-40-7.8-27-8-30z"/>
<path fill="#1f958c" d="M1488 100.5l303.9 0 0 352.3-8 0-24-7.3-23-8.2-15-6.1-14-6.5-13-6.7-12.8-7.4-12.2-7.9-12-8.4-12.6-9.7-12.1-10-13.3-12-13-12.5-12-12.4-10-11.2-16-20.1-14.7-21.9-13.3-23.9-11.7-25.1-13.2-34-12.8-39-15.2-54z"/>
<path fill="#1f988b" d="M1491.3 100.5l300.6 0 0 347.5-8 0-24-7.5-22-7.9-14.5-6-13.5-6.3-13-6.8-13-7.6-12-7.7-12-8.6-24-19.3-25.5-23.8-11.6-12-10.9-12.1-16.7-20.9-14.3-21.1-13-23-12-25.2-13-33-12.6-37.7-15-53z"/>
<path fill="#1e9b8a" d="M1494.6 100.5l297.3 0 0 342.6-8 0-23-7.3-21-7.7-15-6.2-13.6-6.3-13.3-7-12.1-7.2-23.3-15.8-23.7-19.2-24.4-22.9-12.6-13-11-12.2-16.7-20.8-14.3-20.9-13-22.5-12.4-25.6-12.6-31.4-12.7-37.6-14.6-51z"/>
<path fill="#1f9e89" d="M1497.9 100.5l294 0 0 337.6-8 0-23-7.4-20-7.4-14-5.9-14-6.6-13-6.8-12.5-7.4-11.5-7.6-11.7-8.4-23.3-19-23.3-22.1-23.4-25-17-21-14.5-21-13.5-23-12.2-25-12.6-31-12.5-36.7-14-48.3z"/>
<path fill="#1fa188" d="M1501.2 100.5l290.7 0 0 332.6-8 0-22-7.2-20-7.5-14-6-14-6.6-13-7-12-7.2-12-8-11-8-22-18.1-23-21.8-23-24.7-17-20.8-15-21.3-13.9-23.4-12.1-24.3-12.8-30.7-12.1-35-13.8-47z"/>
<path fill="#20a486" d="M1504.6 100.5l287.3 0 0 327.5-8 0-21-7-19-7.2-14-6-13.2-6.2-12.8-6.9-12-7.1-12-8-11-8-21.9-18-22.1-21.1-23-24.6-18-21.9-15-21.1-14-23.3-12-23.6-12.6-29.5-12-34-13.7-46z"/>
<path fill="#21a685" d="M1508 100.5l283.9 0 0 322.3-8 0-20-6.8-19-7.3-14-6-13-6.3-12.8-6.8-11.7-7-21.5-15.1-22-18.1-21.9-20.9-22.1-23.8-18.3-22.2-15.7-21.8-13.6-22.2-12.4-23.9-12.7-29.1-11.9-33-13.3-44z"/>
<path fill="#23a983" d="M1511.5 100.5l280.4 0 0 317-8 0-19-6.5-18-7-14-6-13-6.3-12-6.5-12-7.2-21-14.6-21-17.3-20.7-19.6-21.4-23-18.9-22.4-16-21.7-14-22.1-13-24.2-13-29-12-32.3-13.4-43.3z"/>
<path fill="#26ac81" d="M1515 100.5l276.9 0 0 311.6-8 0-18-6.2-17-6.7-26-11.9-12-6.4-12-7.1-20-13.8-20.2-16.5-20.2-19-20.7-22-20.4-24-16.4-22-14.1-21.7-13-23.5-13-28-12-31.1-7-21-6.9-22.7z"/>
<path fill="#29af7f" d="M1518.6 100.5l273.3 0 0 306.1-8 0-32.5-12-26.3-12-23.2-13.2-20-13.7-19.9-16.2-19.2-18-19.9-21-21-24.8-16.8-22.2-14.6-22-13-23-13.6-28.7-12-30.4-6.8-19.9-6.5-21z"/>
<path fill="#2db27d" d="M1522.3 100.5l269.6 0 0 300.5-8 0-31-11.6-26-12-23-13-19-13-19-15.4-19-17.7-19-20.1-21-24.7-18-23.5-15-22.4-13-22.6-13.9-28.5-12.1-30.2-12.6-37.8z"/>
<path fill="#31b57b" d="M1526 100.5l265.9 0 0 294.8-8 0-29-11-25.5-11.7-23-13-18.5-12.7-18-14.5-18.3-16.9-18.7-19.6-20-23.4-19.3-25-15.7-23-13-22.1-14-27.9-12-28.9-6.6-18.1-6.3-19z"/>
<path fill="#36b878" d="M1530 100.5l261.9 0 0 289-8 0-27-10.4-25.1-11.5-22.9-13-18-12.2-17.3-13.9-17.7-16.2-18-18.8-19.7-23-20.2-26-15.3-22-13.9-23-13.9-27.1-12.8-29.9-12.1-34z"/>
<path fill="#3bba75" d="M1534 100.5l257.9 0 0 283.1-8 0-25-9.7-25-11.6-22.5-12.8-17.5-11.8-17-13.5-17.1-15.7-17.4-18-19.7-23-20.2-26-16.1-23-14.1-23-13.7-26-12.7-28.9-11.9-32.1z"/>
<path fill="#40bd72" d="M1538.3 100.5l253.6 0 0 277-8 0-23-9.1-25-11.6-22-12.4-17-11.5-16.9-13.4-16.4-15-16.7-17.2-19.7-22.8-20.1-26-16.9-24-14.3-23-14-26.2-13-28.9-10.6-27.9z"/>
<path fill="#46c06f" d="M1542.7 100.5l249.2 0 0 270.8-8 0-21.8-8.7-24.2-11.4-22-12.4-17-11.5-16-12.7-16-14.6-16-16.5-18.2-21-19.5-25-18.3-25.8-15-23.8-14-25.6-13-28.1-10.2-25.7z"/>
<path fill="#4cc26c" d="M1547.4 100.5l244.5 0 0 264.4-8 0-19-7.7-24-11.2-22-12.4-16.6-11.1-15.4-12.1-15.5-13.9-15.7-16-17.8-20.4-18.5-23.6-19.3-27-15.4-24-14.8-26.5-13-27.3-9.5-23.2z"/>
<path fill="#53c568" d="M1552.2 100.5l239.7 0 0 257.8-8 0-17-6.9-24-11.2-22-12.5-16-10.7-15-11.7-15-13.4-15.1-15.4-17.6-20-18-23-19.3-27-16-24.7-15-26.4-13-26.6-8.7-20.3z"/>
<path fill="#59c765" d="M1557.4 100.5l234.5 0 0 251.1-8 0-16-6.6-24-11.4-21-11.9-16-10.8-14.6-11.4-14.5-13-14.8-15-17.1-19.5-17.6-22.5-18.5-26-16.9-26-15-26-13-26-7.5-17z"/>
<path fill="#60ca61" d="M1562.8 100.5l229.1 0 0 244.2-8 0-13-5.4-24-11.4-21-11.8-15.8-10.6-14.2-11-14-12.4-14.6-14.6-16.4-18.6-16.9-21.4-17.2-24-17.9-27.3-16-27.1-13.7-26.6-6.4-14z"/>
<path fill="#67cc5c" d="M1568.5 100.5l223.4 0 0 237.1-8 0-11.9-5.1-23.1-10.9-21-12-15-10-14.4-11.1-13.6-12-14-14-16-18.1-16.5-20.9-16.5-23-17.8-27-16.2-27.2-14.1-26.8-5.3-11z"/>
<path fill="#6ece58" d="M1574.6 100.5l217.3 0 0 229.7-8 0-9-3.8-23-10.9-21.2-12-14.8-9.8-14-10.7-14-12.3-13.3-13.2-15.1-17-15.6-19.6-16-22.2-16.1-24.2-17.9-29.5-15-27.8-4.3-8.7z"/>
<path fill="#76d053" d="M1580.9 100.5l211 0 0 222.2-8 0-7.3-3.2-23-11-21.1-12-14.6-9.7-14-10.7-13-11.4-13-12.9-14.6-16.3-14.4-18-15-20.7-15-22.5-19-31-16-29-3-5.8z"/>
<path fill="#7ed24f" d="M1587.6 100.5l204.3 0 0 214.4-8 0-5-2.2-23.3-11.2-21.1-12-14.6-9.8-13.4-10.2-12.6-11-13-12.9-14-15.7-14-17.4-13.8-19-14.2-21.2-20.1-32.8-16.9-30.5z"/>
<path fill="#86d44a" d="M1594.6 100.5l197.3 0 0 206.3-8 0-3-1.3-23-11.1-21-12-14.8-9.9-13.2-10.1-12.5-10.9-12.1-12-13.4-14.8-13-16.2-13.9-19-13.5-20-18.6-30.3-17.3-30.7z"/>
<path fill="#8ed645" d="M1601.8 100.5l190.1 0 0 198-8 0-1-0.5-23-11.1-21-12-14-9.4-13-9.9-12-10.4-12-11.7-13-14.4-13-16-13-17.7-13-19.3-17-27.6-17.1-30z"/>
<path fill="#96d83f" d="M1609.2 100.5l182.7 0 0 189.3-8 0-23-11.2-20-11.6-13-8.7-13-9.8-12-10.3-12-11.7-12.7-14-12.3-15.2-12.4-16.8-12.6-18.7-15.7-25.3-16-28z"/>
<path fill="#9eda3a" d="M1616.8 100.5l175.1 0 0 180.4-8 0-21-10.4-20-11.7-13.8-9.3-12.2-9.3-12-10.3-11-10.8-12-13.1-12-14.7-12-16.3-12-17.7-14.2-22.8-14.9-26z"/>
<path fill="#a6db35" d="M1624.5 100.5l167.4 0 0 171-8 0-20-10-18-10.5-13-8.7-12-9-12-10.2-11-10.6-11.1-12-11.9-14.3-11.7-15.7-11.7-17-13.6-21.8-13.4-23.2z"/>
<path fill="#afdd2f" d="M1632.4 100.5l159.5 0 0 161.3-8 0-19-9.7-17-10-13-8.7-12-9.1-11-9.3-11-10.5-11-11.9-11-13.2-11-14.6-11.2-16.3-12.1-19-12.2-21z"/>
<path fill="#b7de2a" d="M1640.5 100.5l151.4 0 0 151.2-8 0-17-8.8-16-9.4-12-8-12-9-11-9.2-11-10.3-10.9-11.5-10.1-12-11-14.4-10.9-15.6-10.9-17-10.6-18z"/>
<path fill="#c0df24" d="M1648.9 100.5l143 0 0 140.6-8 0-16-8.4-14-8.3-12-8-12-8.9-11-9.1-10-9.3-10.2-10.6-10.3-12-10.5-13.5-10-14.2-19-30.3z"/>
<path fill="#c8e020" d="M1657.6 100.5l134.3 0 0 129.6-8 0-14-7.5-13-7.7-12-8-11-8.1-11-9-10-9.1-10-10.3-10-11.4-9.9-12.5-9.1-12.7-16.3-25.3z"/>
<path fill="#d1e11c" d="M1666.8 100.5l125.1 0 0 118-8 0-23-13.1-12-7.8-11-8-10-8-10-9-10-9.9-9-10-9.2-11.2-9.6-13-13.3-20z"/>
<path fill="#d9e219" d="M1676.6 100.5l115.3 0 0 105.8-8 0-19-10.9-11-7-11-7.9-10-7.8-10-8.7-10-9.7-9-9.7-8.4-10.1-8.6-11.2-10.3-14.8z"/>
<path fill="#e2e418" d="M1687.3 100.5l104.6 0 0 92.9-8 0-14-8-22-14.6-19-15.3-9-8.4-9-9.2-9-10.3-8-10.1-6.6-9z"/>
<path fill="#eae51a" d="M1699 100.5l92.9 0 0 79.3-8 0-8-4.5-21.4-13.8-19.6-15.3-9-8.1-9-8.9-9-9.9-8-9.7-0.9-1.1z"/>
<path fill="#f2e61d" d="M1712.5 100.5l79.4 0 0 65-8 0-1-0.6-22-13.7-19-14.3-15-13.3-14.4-15.1z"/>
<path fill="#f9e722" d="M1728.3 100.5l63.6 0 0 49.7-8 0-18-11.2-16-11.6-11-9.1-10.6-9.8z"/>
<path fill="#fde725" d="M1747.5 100.5l44.4 0 0 33.4-8 0-14-8.8-13-9.2-9.4-7.4z"/>
<path fill="#fde725" d="M1771.4 100.5l20.5 0 0 16-8 0-12.5-8z"/>
</g>
<path fill="none" stroke="#000" stroke-width="1.05" stroke-linejoin="round" d="M1349.8 266.5l-4 1.4-5 3.2-5 4.7-5 5.6-11 14.6-28.1 40.5-8.9 14.5-6.8 13.6-4.9 13-1.9 7-1.3 6-0.9 7-0.5 7 0.1 7 0.6 6 1.1 6 1.6 6 2.3 6 2.6 5.3 3.5 5.7 3.5 4.7 4 4.5 5.1 4.8 5 4 5.9 4 6 3.4 6 2.7 7 2.6 7 2 7 1.3 7 0.8 6 0 6-0.6 6-1.4 5-1.9 5-2.8 4-3.1 3.9-4 3.1-4.5 3-5.5 2.1-5 1.9-6.4 1.7-7.6 1.4-11 0.7-12-0.1-13-0.9-15-1.6-17-2.2-16-3-17.4-3.7-17.7-3.3-13-4-12.9-3.1-8.1-3.9-7.9-4-5.8-4-3.6-2-1.1-2-0.6zM1350.8 206.4l-4 1.5-5 3.4-5 4.7-5 5.7-7 9.1-21 28.8-28 35.1-11 15.7-6 10-4.9 9.1-4.3 9-4.2 10-3.6 10.1-3 10-2.5 10-1.7 9-1.2 11-0.4 10 0.4 10 1.1 9 1.9 9 2.8 9 3.3 8 4.3 8.1 5 7.6 5.1 6.3 5.9 6 7 5.9 8 5.5 9 5.2 9 4.4 9.7 4 9.3 3 11 2.8 11 2 10 1.1 9 0.2 9-0.5 8-1.4 7-2.1 6-2.7 6-3.9 5-4.5 4.2-5 3.7-6 2.6-6 2.5-8 1.6-8 1.3-13 0.1-15-1.1-18-2.2-21-4.1-29-5.6-32.9-6-31.5-6-27.7-5-20-4-13.8-5-14.4-4-9.2-4-7-2-2.7-3-3.1-2-1.4-3-1.3-2-0.4zM1349.8 155.5l-4 2-4 3.2-4 4-5 5.9-6 8.1-16 23.3-8 11-9 11.5-20 24.4-8 10.4-8 11.4-8 12.6-8 13.9-8 15.3-7.1 15-6.3 15-4.3 12.1-3.5 12-2.6 12-1.6 11-0.8 12 0.2 12.3 1.2 11.7 2.3 12 3.2 11 4.3 11 5.1 10 6.3 10 6.6 8.4 8 8.4 8.3 7.2 8.7 6.3 10 6 11.5 5.7 12.5 5.3 13 4.5 12 3.4 14 3.1 12 2 12 1.4 12 0.5 10-0.2 10-1.1 9-1.9 9-2.8 8-3.6 7-4.3 5-4.3 4.1-5 3.3-6 2.3-7 1.1-7 0.4-10-0.7-12-1.8-14-3.1-18-36.6-175.5-6-27.2-6-24.8-5-18-4-12.3-5-12.8-4-7.8-4-5.7-2-2.1-3-2.3-2-0.8-2-0.5-2 0zM1348.8 108.5l-3 1.8-4 3.4-7 8-7 9.8-17 26.3-9 13-10 13.3-23 28.8-12 16.4-12 18.2-12.8 21-15.6 27-9.4 18-6.9 16-5.2 15-4 16.1-2.5 15-1.4 16-0.1 16 1.3 15 2.6 14.9 2 7.9 2.2 7.2 2.8 7.4 3.3 7.6 3.6 7 4.1 7 4 6 5 6.6 5 5.9 5.3 5.5 5.4 5 6 5 6.7 5 7.4 5 6.7 4 7.5 4 18 8.1 19 7 20.6 5.9 23.4 5.3 22 3.7 21 2.4 39 2.5 20 0.7 11-0.5 9-1.4 4.1-1.2 3-1.3 4.5-3.2 1.7-2 1.3-2 1.2-3 0.6-3 0.2-7-1.2-8-2.7-11-4.5-14-21.7-60-9.5-27.6-8-25.5-7.4-25.9-6.8-26.1-6.6-27-7.6-34-18.6-86.3-6-25.2-6-22.1-6-18.1-5-11.6-2-3.7-3-4.5-3-3.4-2.8-2.1M1315.1 108.5l-8.7 14-8.6 12.6-9 12.3-24 31.4-9 12.7-10 14.9-41.1 64.1-8.9 16-6.9 15-6.1 16.5-5 17.4-3.8 18.2-2.4 18-1.1 18 0.3 18 1.6 17 3.1 17 4.1 15 5.4 14 6.8 13.4 8.2 12.6 4.6 6 5.1 6 10.1 10.1 5.6 4.9 6.4 5 13.5 9 12.5 7.1 14 6.7 18 7.3 18 6.3 15.2 4.6 21.8 6 52 12.5 29 7.5M1701.9 595.6l-21-2.5-19-2.7-18-3.1-15-3.1-16-3.9-14-4.1-13-4.4-12-4.9-10-4.9-10-5.8-9-6.3-8-6.5-8-7.6-7.5-8.2-7.5-9.6-7.3-10.4-8.1-13-8.6-15.5-8.8-17.5-8.8-19-8.9-21-7.9-20-7.6-21-6.9-21-10.5-36.1-9.9-39-9.1-40-19.7-92.8-6-25.4-4.7-17.8M1288.4 108.5l-21.6 29.5-11 15.8-30 45.9-24 34.8-6.3 10-5.7 10-5 9.9-5 11.1-4 10.1-4.1 11.9-3.9 12.8-3.1 12.2-2.7 12-2.2 12.8M1159.8 430.7l3.3 15.9 4.6 16 5.4 14 6.4 13 7.5 12 8.5 11 10.3 11 11 9.7 11 8.2 12 7.5 15 8.1 15 6.9 18 7.2 18 6.4 31.3 10 26.6 8M1783.9 589.8l-28-3.1-27-3.4-22-3.3-21-3.7-19-4-17-4.2-17-4.9-16-5.4-17-6.5-14-6.2-12-6.2-12-7.2-11-7.8-10.1-8.3-9.9-9.8-9-10.2-9.8-13-9.2-14.1-9.2-15.9-9.4-18-9.8-21-10.2-24-8.9-23-7.8-22.1-6.4-20-6.5-22-6.2-23-6.2-25-10.1-45-20.8-101M1261.4 108.5l-34.6 53.3-28 39.5-11 17.4-8 14.9-7 15.3-7 17.6-6 17.5M1159.8 474.8l4.6 10.8 5.4 10.5 5.7 9.5 6.4 9 6.9 8.3 8 8.2 8.3 7.5 9.7 7.6 9.3 6.4 10.1 6 13.2 7 12.4 5.9 12 5.1 16 6.2 36.3 12.8M1783.9 578.3l-25-3.3-25-3.8-22-3.9-19-3.9-18-4.4-17-4.8-17-5.5-16-5.9-16-6.7-15-7.1-14-7.5-12-7.5-11-7.9-11-9.2-10-9.8-9.3-10.5-9.7-12.8-9.5-14.2-9.3-16-8.9-17-9.5-20-9.4-22-9.2-23.1-8.7-24-6.9-21-6.7-22-6.3-23-6.4-25-5.8-25-6-28-14.9-75M1238.1 108.5l-14.3 22.1-27 37.4-11 17-7 12.4-6 12-6.5 14.1-6.5 15.7M1159.8 499.7l4.6 7.9 5.2 8 5.2 7 5.8 7 6.2 6.5 7 6.5 7.2 6 7.8 5.9 8 5.4 9 5.5 19.8 10.2 20.2 9.1 28.3 10.9M1783.9 567.7l-24-3.6-23-3.9-20-4-19-4.3-18-4.8-17-5.3-16-5.6-16-6.4-17-7.6-16-8.1-14-8-12-7.8-11-8.2-11-9.4-10-9.9-9-10.3-9.2-11.9-9.4-14-8.9-15-9-17-9-19-9.2-21-9.6-24.1-8.4-23-7.2-21-6.9-22-6.5-23-6.3-24-6-25-6.2-28-12.7-64M1214.4 108.5l-19.6 26.9-11 17-6 10.5-5.6 10.6-12.4 26.1M1159.8 518.2l9.1 12.4 9.8 11 10.9 10 12.2 9.4 13.1 8.6 13.9 7.7 21.6 10.3 18.8 8M1783.9 557.8l-23-3.9-22-4.1-20-4.4-18-4.4-17-4.9-16-5.3-16-6-16-6.8-16-7.6-16-8.4-14-8.2-13-8.7-11.4-8.5-10.6-9.2-10-9.8-9.8-11-9.2-12.1-8.7-12.9-9-15-8.5-16-8.7-18-8.8-20-8.9-22.1-8.6-23-7.6-22-7.1-22-6.8-23-6.2-23-6.2-24.6-6-26.3-5.7-27.1-6.1-31M1189.1 108.5l-7.3 11.7-6.4 11.3-7.6 14.5-8 16.3M1159.8 533.4l8 9.5 8.5 8.7 9.1 8 10.4 7.8 11 7.2 12.2 7 11.8 6 17.6 8M1783.9 548.2l-22-3.9-21-4.3-19-4.4-18-4.8-16-4.9-16-5.6-15-5.9-15-6.6-16-7.9-16-8.7-15-9.1-13-8.8-12-9.2-11-9.5-10-10-9-10.1-9-11.6-8.5-12.3-8.5-14-8-14.7-8.1-16.3-8.1-18.1-8.3-20-8.1-21-8.2-23-7.7-23-7.1-23-6.5-23-6.3-24-6.2-26-6-27-5.9-29M1168.6 108.5l-8.8 17.4M1783.9 539l-22-4.3-20-4.4-18-4.4-17-4.8-16-5.1-15-5.5-15-6.2-15-6.9-16-8.2-15.2-8.6-14.8-9.3-14-9.7-12-9.3-11-9.7-10-10-9-10.1-8.6-10.9-8.3-12-8-13-7.8-14-7.5-15-7.8-17.1-7.6-18-7.8-20-8.4-23-8.1-24-7.3-23-6.9-23.4-6.3-23.6-6-24-6-26-5.7-27M1159.8 546.4l6.7 7.2 7.3 6.9 7.3 6.1 8 6 9.1 6 10 6 10.6 5.7 11 5.3M1783.9 529.9l-21-4.3-20-4.6-18-4.8-16-4.7-15-5.1-15-5.7-15-6.4-14-6.7-16-8.6-15-8.8-15-9.7-14-10-12-9.5-10.7-9.4-10-10-9.3-10.5-8-10.1-8-11.4-7.6-12-7.4-13.1-7.7-15-7.3-15.7-7.4-17.3-7.2-18-7.7-21-8-23-8-25-7.3-24-6.5-23.2-6.1-23.8-5.9-24.4-5.6-25.6M1159.8 557.9l11.6 10.7 11.6 9 13.9 9 16.4 9M1783.9 521l-20-4.4-19-4.6-18-4.9-16-5-15-5.3-14-5.6-14-6.2-14-6.9-15-8.2-15.3-9.3-15.7-10.5-14-10.2-12-9.6-10.9-9.7-10.1-10.3-9-10.1-8-10.1-8-11.3-7-11-7.1-12.2-7.3-14.1-7.1-15-7-16-6.9-17-7.5-20-7.6-22-7.8-24-7.4-24-6.9-24-6.2-23-5.9-24-5.6-24M1159.8 568.1l8.6 7.5 9.4 7.2 10 6.6 10.7 6.2M1783.9 512.1l-19.7-4.5-18.3-4.7-17-4.9-16-5.2-14-5.1-14-5.7-14-6.5-13.6-6.9-14.4-8.2-15-9.3-15.4-10.5-14.6-10.9-12-9.9-11-9.9-10-10.1-9-10.2-8-10-7.2-10-7.2-11-7-12.1-6.9-13-6.8-14-6.9-15.6-6.8-16.4-7.2-19-7-20-7.3-22-7.1-23-13.7-48-11.7-47M1159.8 577.5l12 9.4 13.3 8.7M1783.9 503.2l-19-4.5-18-4.9-17-5.1-15-5-14-5.3-13.7-5.8-13.3-6.4-13-6.8-15-8.8-14-9-14.4-10-14.6-11.2-12-9.9-11-10-10-10-10-11.2-7.8-9.7-7.3-10-6.9-10.6-7-11.8-6.9-12.7-6.4-13-6.7-15-6.6-16-6.6-17-6.8-19-13.2-41-13.9-48-12.1-47M1159.8 586.1l13.1 9.5M1783.9 494.3l-18.9-4.7-17.1-4.8-16-5-15-5.2-14-5.5-13-5.7-13-6.4-13-7-14-8.4-14-9.2-14-10.1-14-10.9-12.9-10.8-11.1-10.2-10-10.1-10-11.2-8-10-7-9.6-7-10.5-7-11.6-6.5-11.9-6.4-13-6.1-13.3-6.2-14.7-6.3-16-6.5-18-12.5-38-13.1-45-12.9-49M1159.8 594.1l2.1 1.5M1783.9 485.3l-18-4.7-17-4.9-15.8-5.1-14.2-5.1-14-5.7-13-5.9-12.6-6.3-12.4-7-13.1-8-13.9-9.4-13.2-9.6-13.8-11-13-11.1-11.8-10.9-10.2-10.4-10-11.3-8-9.9-7-9.5-7-10.5-7-11.5-6.1-11-6.6-13-6-13-5.9-14-6.3-16-5.9-16-12.2-36.9-12.4-42.1-12.4-47M1783.9 476.3l-17.2-4.7-16.8-5.1-15-5-15-5.6-13-5.4-12.6-5.9-12.4-6.5-12-6.8-13-8.2-13-9-13-9.7-13-10.6-13-11.3-12-11.2-10.5-10.7-9.9-11.1-7.6-9.4-7.2-9.6-6.8-10-7-11.2-6.7-11.8-6.2-12-6.1-13-5.7-13-6-15-5.9-16-11.8-35-11.8-40-12-45M1783.9 467l-17-4.8-16-5-15-5.2-14-5.4-13-5.6-12-5.7-12-6.4-12-7-12.9-8.3-12.1-8.6-12.4-9.4-12.6-10.5-13.1-11.5-12.6-12-10.7-11.1-9.6-10.8-8-9.8-7-9.3-7-10.2-6.9-10.9-6.1-10.6-6-11.4-6-12.4-5.6-12.6-5.8-14-5.7-15-11.6-34-11.4-38-11.5-43M1783.9 457.6l-17-5-15-4.8-14.5-5.2-13.5-5.4-13-5.7-12-5.9-11.1-6-11.9-7.2-12-7.9-12-8.6-12-9.3-11.9-10-12.2-11-12.9-12.5-11-11.3-10-11.2-8-9.7-7.1-9.4-6.9-9.8-7-10.9-6.1-10.3-6.5-12-5.4-11-5.9-13-11.1-27.5-11-31.7-11-36-11.1-40.8M1783.9 448l-16-4.9-15-5-14-5.2-13.2-5.3-11.8-5.4-12-6-12-6.6-11-6.8-12-8.1-11-8.1-11.5-9-11.5-9.9-12-11-12-11.7-11.1-11.5-9.9-11.1-8-9.5-8-10.4-7-9.8-6.7-10.2-6.3-10.5-6-10.8-6-11.7-5.7-12-10.8-26-10.7-30-10.8-34.8-10.6-38.2M1783.9 438.1l-15-4.7-15-5.2-13-4.9-13-5.4-12-5.6-11.3-5.7-10.7-6.1-11.2-6.9-10.8-7.4-11-8.2-11-8.8-11.2-9.6-10.9-10.1-11.9-11.7-11.7-12.3-10.3-11.4-8.1-9.6-7.9-10.1-7-9.6-7-10.4-6.2-9.9-6.3-11-5.8-11-5.7-11.7-5.6-12.3-5.3-13-10.4-28-10.5-33-10.2-36M1783.9 428l-15-4.9-14-5-13-5.1-12.6-5.4-11.4-5.5-11-5.7-10.2-5.8-10.8-6.9-10.3-7.1-10.7-8.1-11-8.9-10-8.8-10-9.4-11-10.9-11.4-12-10.6-11.8-16-19.4-7.3-9.8-7-10-6.7-10.5-6-10-6-10.9-6-11.8-6-12.8-5-11.7-10-26-10.1-30.3-10.2-35M1783.9 417.5l-27-9.5-13-5.2-11.9-5.2-11.1-5.4-10.6-5.6-10.4-6-9-5.8-10-6.9-10-7.6-10-8.1-9.9-8.7-9.7-9-10-10-20.4-22-17.7-21-14.9-20-6.7-10-6.7-10.8-6-10.4-6-11.2-11-23.2-5.3-12.4-5.4-14-10.1-29-9.6-32M1783.9 406.6l-25.1-9-23.4-10-10.5-5.2-10-5.3-10-5.8-9-5.7-9-6.2-9.2-6.8-9.8-8-9-7.8-18.1-17.3-18.7-20-19.2-22.5-16-20.9-14-20.8-6.6-10.8-6.1-11-11.3-22.5-6-13.5-5-12.2-10-27.4-9.3-29.4M1783.9 395.3l-24-8.9-22-9.7-19-9.7-18-11-17-12.1-17-14.1-17-16-17.4-18.3-18.8-22-18.7-24-14.1-20.4-13-21.3-6-11-6-11.8-10.7-23.5-9.7-25-9.5-28M1783.9 383.6l-23-8.9-20-9-19-9.9-16.8-10.3-15.4-11-15.8-13-16-14.9-16-16.7-18.4-21.4-18.8-24-15.6-22-13.2-20.8-12-21.7-10.8-22.5-10-24-9.1-25M1783.9 371.3l-21-8.4-19-8.7-18-9.5-16-9.8-15-10.6-14.4-11.8-14.6-13.5-15-15.5-16.6-19-17.4-22-17.4-24-14.6-22.3-12-20.6-11-21.4-10-22.3-9.2-23.4M1783.9 358.3l-20-8.2-18-8.4-17-9.2-15-9.3-14-9.9-14-11.4-13.4-12.4-13.6-13.9-15.8-18.1-15.9-20-17.5-24-15.4-23-12.4-20.6-10.6-19.4-9.6-20-9.5-22M1783.9 344.7l-18-7.6-17-8.1-15.5-8.5-14.6-9-13.9-9.8-12.6-10.2-12.4-11.3-13-13.2-14.6-16.5-14.5-18-14.9-20.3-16-23.5-13-20.6-11.4-19.6-10.4-20-9.3-20M1783.9 330.2l-17-7.4-16-7.8-15-8.3-14-8.9-12-8.5-12.2-9.8-11.8-10.7-12-12.1-13-14.5-12.7-15.7-12.7-17-13.2-19-14.4-22.3-12.6-20.7-10.6-19-10.1-20M1783.9 314.9l-16-7.2-14.2-7.2-13.8-7.7-13.1-8.3-11.9-8.4-12-9.6-11-9.9-11-11-11.8-13.1-11.2-13.6-11-14.5-11.9-16.9-12.5-19-13-21-11.6-20-10.3-19M1783.9 298.5l-14.9-7-13.6-7-12.5-7.2-12.2-7.8-11.8-8.4-10.7-8.6-10.3-9.1-10-9.9-10.9-12-10.1-12.1-10.7-13.9-10.3-14.4-11-16.6-10.6-17-11.3-19-11.2-20M1783.9 280.9l-13.2-6.4-13.2-7-11.9-7-11.7-7.6-11-7.9-10-8.1-10-8.9-9-8.9-9.8-10.6-9.2-10.9-9.4-12.1-9.6-13.3-9.2-13.7-9.8-15.4-9.9-16.6-10.2-18M1783.9 261.8l-12.6-6.3-11.4-6.2-11-6.6-11-7.2-10-7.3-9-7.2-9-7.9-9-8.6-8.4-9-8.6-9.9-8.8-11.1-8.2-11.1-8.3-11.9-8.7-13.5-8.9-14.5-8.6-15M1783.9 241.1l-11-5.7-10.6-5.9-9.8-6-9.6-6.4-9-6.5-9-7.1-8-6.9-8-7.5-8-8.2-7-7.8-7.1-8.6-7.9-10.2-15-21.5-15-24.3M1783.9 218.5l-19-10.6-17-11-15.2-11.4-14.8-12.9-13-13.1-13-15.3-12.5-16.7-12.6-19M1783.9 193.4l-15-8.6-14-9-13-9.5-12-9.9-11-10.3-11-11.5-10.2-12.1-10.4-14M1783.9 165.5l-11-6.5-10-6.5-9-6.3-9-6.9-9-7.5-8-7.3-8-8-7.4-8M1783.9 133.9l-10-6.2-9-6-9-6.6-8.4-6.6"/>
</g>
<path d="M1263.8 595.6v-5.2M1263.8 108.5v5.2M1367.8 595.6v-8.2M1367.8 108.5v8.2M1471.8 595.6v-5.2M1471.8 108.5v5.2M1575.9 595.6v-8.2M1575.9 108.5v8.2M1679.9 595.6v-5.2M1679.9 108.5v5.2M1159.8 571.2h5.2M1783.9 571.2h-5.2M1159.8 546.9h5.2M1783.9 546.9h-5.2M1159.8 522.5h5.2M1783.9 522.5h-5.2M1159.8 498.2h5.2M1783.9 498.2h-5.2M1159.8 473.8h8.2M1783.9 473.8h-8.2M1159.8 449.5h5.2M1783.9 449.5h-5.2M1159.8 425.1h5.2M1783.9 425.1h-5.2M1159.8 400.8h5.2M1783.9 400.8h-5.2M1159.8 376.4h5.2M1783.9 376.4h-5.2M1159.8 352.1h8.2M1783.9 352.1h-8.2M1159.8 327.7h5.2M1783.9 327.7h-5.2M1159.8 303.3h5.2M1783.9 303.3h-5.2M1159.8 279h5.2M1783.9 279h-5.2M1159.8 254.6h5.2M1783.9 254.6h-5.2M1159.8 230.3h8.2M1783.9 230.3h-8.2M1159.8 205.9h5.2M1783.9 205.9h-5.2M1159.8 181.6h5.2M1783.9 181.6h-5.2M1159.8 157.2h5.2M1783.9 157.2h-5.2M1159.8 132.9h5.2M1783.9 132.9h-5.2" stroke="#000" stroke-width="1.9" fill="none"/>
<rect x="1159.8" y="108.5" width="624.1" height="487.1" fill="none" stroke="#000" stroke-width="2.9"/>
<text x="1159.8" y="651.4" text-anchor="middle" font-size="46">400</text>
<text x="1367.8" y="651.4" text-anchor="middle" font-size="46">500</text>
<text x="1575.9" y="651.4" text-anchor="middle" font-size="46">600</text>
<text x="1783.9" y="651.4" text-anchor="middle" font-size="46">700</text>
<text x="1142.2" y="612.9" text-anchor="end" font-size="46">0</text>
<text x="1142.2" y="491.1" text-anchor="end" font-size="46">5</text>
<text x="1142.2" y="369.4" text-anchor="end" font-size="46">10</text>
<text x="1142.2" y="247.6" text-anchor="end" font-size="46">15</text>
<text x="1142.2" y="125.8" text-anchor="end" font-size="46">20</text>
<text x="1408.2" y="692.4" font-size="46"><tspan font-style="italic" font-size="47.5">λ</tspan><tspan dx="16.7">, </tspan><tspan dx="-1.2">nm</tspan></text>
<text transform="translate(1437.4 700.1) scale(1.15 1.37)" font-size="46">′</text>
<text transform="translate(1071.8 421.1) rotate(-90)" font-size="46"><tspan font-style="italic" font-size="47.5">d</tspan><tspan font-size="33" dy="8" dx="1">2</tspan><tspan dy="-8" dx="0.5">, </tspan><tspan dx="0.5">nm</tspan></text>
<linearGradient id="gb"><stop offset="0" stop-color="#440154"/><stop offset="0.0625" stop-color="#48186a"/><stop offset="0.125" stop-color="#472d7b"/><stop offset="0.1875" stop-color="#424086"/><stop offset="0.25" stop-color="#3b528b"/><stop offset="0.3125" stop-color="#33638d"/><stop offset="0.375" stop-color="#2c728e"/><stop offset="0.4375" stop-color="#26828e"/><stop offset="0.5" stop-color="#21918c"/><stop offset="0.5625" stop-color="#1fa088"/><stop offset="0.625" stop-color="#28ae80"/><stop offset="0.6875" stop-color="#3fbc73"/><stop offset="0.75" stop-color="#5ec962"/><stop offset="0.8125" stop-color="#84d44b"/><stop offset="0.875" stop-color="#addc30"/><stop offset="0.9375" stop-color="#d8e219"/><stop offset="1" stop-color="#fde725"/></linearGradient>
<rect x="1332.3" y="49.8" width="249.9" height="20.7" fill="url(#gb)" stroke="#000" stroke-width="2.6"/>
<text x="1430" y="29.7" font-size="42"><tspan font-style="italic">R</tspan><tspan font-size="27.6" dy="10.3" dx="-3">sub</tspan></text>
<text x="1274" y="76" font-size="46">0</text>
<text x="1598" y="76" font-size="46">80%</text>
<text transform="translate(1341.2 477.8) rotate(0)" x="0" y="5.4" text-anchor="middle" font-size="15" style="fill:#fff;stroke:#fff;stroke-width:0.3">2</text>
<text transform="translate(1492.6 485.4) rotate(55)" x="0" y="5.4" text-anchor="middle" font-size="15" style="fill:#fff;stroke:#fff;stroke-width:0.3">10</text>
<text transform="translate(1586.3 475.6) rotate(33)" x="0" y="5.4" text-anchor="middle" font-size="15" style="fill:#fff;stroke:#fff;stroke-width:0.3">20</text>
<text transform="translate(1666.8 461.8) rotate(28)" x="0" y="5.4" text-anchor="middle" font-size="15" style="fill:#fff;stroke:#fff;stroke-width:0.3">30</text>
<text transform="translate(1718.2 434) rotate(28)" x="0" y="5.4" text-anchor="middle" font-size="15" style="fill:#fff;stroke:#fff;stroke-width:0.3">40</text>
<clipPath id="clipc"><rect x="167.6" y="845.5" width="624" height="486.7"/></clipPath>
<g clip-path="url(#clipc)">
<filter id="blurc" filterUnits="userSpaceOnUse" x="157.6" y="835.5" width="644" height="506.7"><feGaussianBlur stdDeviation="1.5"/></filter>
<g filter="url(#blurc)">
<rect x="159.6" y="836.5" width="640" height="504.7" fill="#0000f3"/>
<path fill="#0000f8" d="M159.6 836.5l640 0 0 504.7-640 0zM356.6 1093.1l-2 1.7-2 2.9-2 4.4-0.4 2.2-0.6 1-0.4 4-0.7 2 0.1 8 0.8 1 0.2 3.1 0.9 0.9 0.1 2 1.8 2 0.2 1.1 2.5 1.9 3.5 0.4 1.9-0.4 2.1-1.7 2-3.2 1-2.5 1.3-5.6 0.1-11-1.4-7-1-2.7-1.9-3.3-1.1-1-2-0.9-1 0z"/>
<path fill="#0000ff" d="M159.6 836.5l640 0 0 504.7-640 0zM357.6 1091.2l-2 1.3-2 2.4-3 6.1-2 8-0.2 6.3 0.2 4.6 0.8 1.4 0.2 2.2 0.8 0.8 0.2 2.1 1 0.9 0 0.7 1 1.5 2 1.9 2.3 0.9 1.7 0.1 2-0.6 2.1-1.5 1.5-2 1.5-3 1.8-7 0.4-8-0.9-8-1.1-4-1.3-3.2-1.1-1.8-1.9-1.8-2-0.7z"/>
<path fill="#0a0aff" d="M159.6 836.5l640 0 0 504.7-640 0zM358.6 1089.2l-2 1.1-2 2-3 5.1-2.3 6.9-1.1 7 0.4 8.9 0.7 1.1 0.3 2.3 0.7 0.7 0.3 2.1 0.9 0.9 0.1 1 3 3.2 2 1 2 0.3 2-0.4 2-1.2 1.7-1.9 1.7-3 2-7 0.7-8-0.8-9-2.3-7.8-1.2-2.2-1.8-2.1-2-1z"/>
<path fill="#1414ff" d="M159.6 836.5l640 0 0 504.7-640 0zM359.6 1087.3l-2 0.7-2 1.7-2 2.6-1.7 3-2.7 8-1.2 8 0.6 9 0.6 1 0.4 2.4 0.6 0.6 0.4 2.1 0.9 0.9 0.1 1.1 2 2.4 2 1.5 2 0.8 2 0 2.4-0.8 2.3-2 1.4-2 2.4-6 1.3-9-0.5-10-0.9-5-1.2-4-1.4-3-1.8-2.4-2-1.4z"/>
<path fill="#1f1fff" d="M159.6 836.5l640 0 0 504.7-640 0zM360.6 1085.3l-2 0.4-2 1.3-2 2.3-2 3.2-3 7.9-1.1 4.9-0.6 5 0.6 10 0.6 1 0.5 2.6 0.9 1.4 0.1 1.1 0.9 0.9 0.1 1.1 2 2.5 2 1.6 2 0.9 2 0.2 2-0.4 2-1.2 2.4-2.7 1.6-3 1.3-4 1.3-8-0.2-10-0.7-5-1.3-5-1.4-3.6-2-3.2-2-1.7z"/>
<path fill="#2929ff" d="M159.6 836.5l640 0 0 504.7-640 0zM359.6 1083.3l-2 1.1-2 1.9-2 2.8-2 4-2.8 9.2-1.1 9 0.8 9 0.9 2 0.2 1.7 0.9 1.3 0.1 1.1 0.9 0.9 0.1 1.2 2 2.5 2 1.7 2 1 2 0.4 2-0.3 2.7-1.5 2-2 1.7-3 2.3-7 0.9-10-0.9-11-1-5-1.7-4.8-2-3.5-2-2-2-0.9z"/>
<path fill="#3333ff" d="M159.6 836.5l640 0 0 504.7-640 0zM359.6 1081.1l-2 1.2-2 2.1-2 2.9-2 4.1-1.8 4.9-1.2 5.1-1 9.9 0.8 9 0.9 2 0.3 1.8 0.9 1.2 0.1 1.2 0.9 0.8 0.1 1.2 2 2.6 2 1.8 2 1.1 2 0.5 2.5-0.2 2.5-1.2 1.9-1.8 2-3 1.7-4 1-4 0.7-5 0.3-6-0.3-6-0.7-6-1.2-5-1.7-4.9-1.7-3.2-2-2.3-2-1z"/>
<path fill="#3d3dff" d="M159.6 836.5l640 0 0 504.7-640 0zM360.6 1078.3l-3 1.8-2 2.2-2 3.1-2 4.1-3 10-0.9 5.8-0.3 5 0.2 4.7 0.8 5.3 0.9 2 0.3 1.9 0.9 1.1 0.1 1.2 0.8 0.8 0.2 1.2 2 2.8 2 1.8 2 1.2 2 0.7 3-0.1 2-0.8 2.3-1.8 2.2-3 1.8-4 1.1-4 0.9-5 0.4-6-0.2-7-0.7-6-1.2-6-1.6-5-2-4.1-2-2.5-2-1.3z"/>
<path fill="#4747ff" d="M159.6 836.5l640 0 0 504.7-640 0zM361.6 1075.2l-2 0.8-3 2.7-2 2.8-2.5 4.9-1.9 4.9-1.6 6.1-1.3 10.9 0.3 7.6 0.8 4.4 1.2 4 0.9 1 0.1 1.2 0.8 0.8 0.2 1.3 2 2.8 3 2.7 3 1.4 3 0.2 3-1.1 2-1.5 2.2-2.8 1.9-4 1.5-5 0.8-5 0.4-6-0.1-7-0.7-7-1.1-6-1.8-5.9-2.1-4.5-2-2.7-2-1.5z"/>
<path fill="#5252ff" d="M159.6 836.5l640 0 0 504.7-640 0zM361.6 1072.1l-3 1.8-2 2.1-3 4.8-2 4.4-2 5.9-1.5 6.2-0.8 6-0.3 6 0.4 6 0.9 5 1.3 4 0.9 1 0.1 1.2 0.8 0.8 0.2 1.3 2 2.9 3 2.9 2 1.1 3 0.9 3-0.3 3-1.5 2.2-2.3 1.9-3 1.6-4 1.5-6 0.7-6 0.2-6-0.3-8-1-7-1.3-5.9-2-6-2-4-2.5-3.1-2-1.1z"/>
<path fill="#5c5cff" d="M159.6 836.5l640 0 0 504.7-640 0zM363.6 1068.3l-3 0.9-3 2.6-3 4.4-2 4-2 5.1-2 7.1-1.2 6.9-0.5 6 0.4 10 1 5 1.3 4 0.9 1 0.1 1.2 0.8 0.8 0.2 1.3 3 4.2 3 2.6 3 1.4 3 0.4 3.4-0.9 2.8-2 2.3-3 2-4 1.5-5 0.9-5 0.6-7 0-8-0.8-8-1.1-6.9-1.9-7-2-5-2.7-4.4-2-1.8z"/>
<path fill="#6666ff" d="M159.6 836.5l640 0 0 504.7-640 0zM363.6 1064.2l-3 1.3-3 3-3 4.6-2 4.1-2.3 6.2-1.9 6.9-1.2 7-0.6 7 0.6 11 1 5 1.4 4 0.9 1 0.1 1.3 0.8 0.7 0.2 1.4 3 4.3 3 2.7 4 2 4 0.3 3-1 3-2.5 2.3-3.2 2.1-5 1.4-5 0.9-6 0.4-7-0.2-9-0.8-8-1.5-7.9-1.9-7-2.1-5-2.6-4.3-3-2.5z"/>
<path fill="#7070ff" d="M159.6 836.5l640 0 0 504.7-640 0zM362.6 1060.1l-3 2.2-3 3.8-3 5.4-2.4 5.9-2.1 7-1.7 7.9-0.9 7-0.2 7 0.5 7 1.2 6 1.6 5 0.8 1 0.2 1.3 0.7 0.7 0.3 1.4 3 4.4 3 3 3 1.9 3 1 4-0.1 3.4-1.6 3-3 2.3-4 1.9-5 1.3-6 0.8-7 0.2-8-0.4-9-1.2-8.9-1.9-9-2.4-7.5-3-5.9-3-3.3-3-1.2z"/>
<path fill="#7a7aff" d="M159.6 836.5l640 0 0 504.7-640 0zM364.6 1054.2l-3 1.6-4 4.5-3 5.1-3 7.1-2.5 7.9-1.7 8-1.1 7.9-0.3 7 0.3 7 1.1 7 2.2 7 0.8 1 1.2 3.5 3 4.5 3 3.2 3 2.1 4 1.6 4 0 3-1.1 3.3-2.8 2.7-4 2-5 1.6-6 1-8 0.3-8-0.4-10-1.1-9.9-1.9-10-2.4-8-3.1-7-2.9-4-3.1-2.1z"/>
<path fill="#8585ff" d="M159.6 836.5l640 0 0 504.7-640 0zM364.6 1048.3l-3 2-4 4.9-3 5.5-3.5 8.7-2.5 8.6-1.7 8.4-1.1 8.9-0.2 8 0.5 7 1.2 7 2.2 7 0.9 1 1.2 3.5 3 4.7 4 4.2 4 2.7 4 1.3 4-0.2 4-1.8 3.3-3.4 2.3-4 2.1-6 1.5-7 0.8-8 0.2-9-0.6-11-1.5-10.9-2.3-11-2.8-9-3-6.5-3-3.9-3-1.9-2-0.3z"/>
<path fill="#8f8fff" d="M159.6 836.5l640 0 0 504.7-640 0zM365.6 1040.9l-3 2-4 4.8-4 7.5-3.2 8.2-2.8 9.4-2 9.6-1.2 9.9-0.2 9 0.6 8 1.2 7 1.4 5 1.1 3 0.9 1 0.2 1.3 0.7 0.7 0.3 1.5 3 4.9 4 4.5 4 3.1 5 2 4 0.1 4-1.3 3.3-2.8 3.4-5 2.3-6 1.7-8 0.9-9 0.2-10-0.7-12-1.7-12.9-2.5-12-2.9-9.5-3.4-7.5-3.6-4.8-3-1.9-2-0.2z"/>
<path fill="#9797ff" d="M159.6 836.5l640 0 0 504.7-640 0zM366.6 1032.2l-2 1.2-2 1.8-4 5.4-4 7.9-3.3 8.9-2.9 10-2.2 11-1.3 10.9-0.2 10 0.6 8 1.6 9 1.5 5 1.1 3 0.9 1 0.2 1.4 0.7 0.6 0.3 1.6 4 6.3 4 4.5 5 3.7 4.9 1.9 2.1 0.3 3-0.2 4-1.6 3.8-3.5 3-5 2.5-7 1.6-8 0.8-9 0.1-11-0.8-12.9-1.8-14-2.8-14-3.2-11-3.4-8-3.8-5.8-2-1.7-2-1-2-0.2z"/>
<path fill="#9b9bff" d="M159.6 836.5l640 0 0 504.7-640 0zM367.6 1026l-2 1.1-2 1.7-4 5.2-4 7.6-4 10.4-3.3 11.4-2.2 11-1.4 11-0.4 10.9 0.6 9 1.2 8 2.3 8 1.1 3 0.9 1 0.2 1.4 0.7 0.6 0.3 1.6 4 6.5 4 4.7 5 4 5 2.4 5 0.6 3-0.5 2-0.9 4.1-3.4 3.3-5 2.7-7 1.7-8 1-10 0.2-11-0.8-13.9-1.9-15-2.9-15-3.4-12.5-4-10-4-6.1-2-1.8-2-1.1-2-0.3z"/>
<path fill="#9d9dff" d="M159.6 836.5l640 0 0 504.7-640 0zM367.6 1023.9l-2 1.1-2 1.8-4 5.4-4 7.7-4.3 11.5-3.1 11-2.4 12-1.3 11-0.3 10.9 0.6 9 1.3 8 2.3 8 1.1 3 0.9 1 0.2 1.4 0.7 0.6 0.3 1.6 4 6.6 5 5.7 5 3.8 5 2.2 5 0.4 3-0.6 2-1 4-3.4 3.3-5.3 2.6-7 1.7-8 1-10 0.1-12-0.9-14.9-2.1-16-3.1-15-3.4-12-4.1-10-4-6-2.1-1.8-2-1-2-0.2z"/>
<path fill="#9f9fff" d="M159.6 836.5l640 0 0 504.7-640 0zM368.6 1021.4l-2 0.8-2 1.6-2 2.1-3 4.4-4 7.8-4 10.6-3.3 11.7-2.5 12-1.4 11-0.4 10.9 0.5 9 1.6 10 2.3 8 1.1 3 0.9 1 0.2 1.4 0.6 0.6 0.4 1.6 4 6.6 4 4.8 5 4.3 5.3 2.7 4.7 1 3-0.3 2.2-0.7 4.4-3 3.7-5 2.9-7 1.9-8 1.2-10 0.3-11-0.8-14.9-1.8-16-2.8-15-3.6-14-3.6-10-4-7.3-2-2.4-2-1.6-2-0.8z"/>
<path fill="#a1a1ff" d="M159.6 836.5l640 0 0 504.7-640 0zM368.6 1019l-2 1-2 1.6-2 2.3-3 4.4-4 8-4 10.6-3.5 12.5-2.5 12.4-1.4 12.6-0.3 10.9 0.6 9 1.5 9 2.3 8 1.2 3 0.9 1 0.2 1.4 0.6 0.6 0.4 1.6 4 6.7 5 5.9 5 4 3 1.7 3 1.1 5 0.5 2.7-0.5 2.4-1 3.9-3.1 2.2-2.9 1.6-3 2.6-7 1.9-9 0.9-10 0.1-11-0.8-14.9-2-16-3-16-3.7-14-3.8-10.1-4-7-2-2.2-2-1.5-2-0.8z"/>
<path fill="#a3a3ff" d="M159.6 836.5l640 0 0 504.7-640 0zM369.6 1016.4l-2 0.7-2 1.4-2 2-3 4.1-4.6 8.8-4.2 11-3.4 12-2.7 13-1.5 12-0.5 11.9 0.6 10 1.7 10 2.3 8 1.2 3 0.9 1 0.2 1.4 0.6 0.6 0.4 1.6 4 6.7 5 6 5 4.2 6 3 5 0.7 3-0.4 2.1-0.8 2.9-1.9 2-1.9 3.4-5.2 2.7-7 1.8-8 1.1-10 0.2-12-0.8-14.9-2-17-2.9-16-3.9-15-3.6-10-4.3-8-2.7-3.1-2-1.4-2-0.6z"/>
<path fill="#a5a5ff" d="M159.6 836.5l640 0 0 504.7-640 0zM368.6 1014.1l-2 1.2-2 1.8-3 3.7-2 3.3-4.4 9.3-4.3 12-3.3 12.4-2.4 12.6-1.3 12-0.3 11.9 0.7 9 1.7 10 2.3 8 1.2 3 0.9 1 0.2 1.4 0.6 0.6 0.4 1.6 4 6.8 5 6.1 6 4.9 5.3 2.6 2.7 0.7 3 0.2 3-0.5 2-0.8 2.5-1.6 2.1-2 3.4-5 2.8-7 2-9 1.1-11 0.2-12-1-15.9-2.4-19-3.4-17-3.8-14-4.3-11-4.2-6.9-2-2-2-1.3-2-0.5z"/>
<path fill="#a7a7ff" d="M159.6 836.5l640 0 0 504.7-640 0zM369.6 1011.2l-2 0.9-2 1.5-2 2.2-3 4.3-5 10.1-4 11-3.7 13.2-2.6 13-1.5 13-0.4 11.9 0.8 11 1.8 10 2.3 8 1.2 3 0.9 1 0.2 1.4 0.6 0.6 0.4 1.6 5 8.2 5 5.8 5 4.1 6 3 3 0.7 3 0.1 2.9-0.5 2.1-0.8 4.1-3.2 2.4-3 1.7-3 2.7-7 1.9-9 1.1-11 0.1-12-1.1-16.9-2.3-18-3.2-17-4-15-4-11-4.4-7.8-2-2.2-2-1.6-2-0.8z"/>
<path fill="#a9a9ff" d="M159.6 836.5l640 0 0 504.7-640 0zM369.6 1008.4l-2 1-2 1.6-2 2.3-3 4.4-5 10.3-4 11.1-3.7 13.3-2.8 14-1.5 13-0.3 12.9 0.8 11 1.8 10 2.4 8 1.2 3 0.9 1 0.2 1.4 0.6 0.6 0.4 1.7 5 8.2 5 5.9 6 4.9 6 2.9 3 0.6 3 0.1 3-0.7 2-0.8 2.6-1.8 2-2 3.9-6 2.5-7 1.9-9 1-11 0-13-1.1-16.9-2.3-18-3.7-19-4-15-4.2-11-2.5-5-2.1-3-2-2.2-2-1.4-2-0.7z"/>
<path fill="#ababff" d="M159.6 836.5l640 0 0 504.7-640 0zM370.6 1005.2l-2 0.8-2 1.4-2 2-3 4.2-5 9.7-5 13.6-4 14.5-2.7 14-1.5 14-0.3 11.9 0.8 11 1.5 9 2.6 9 1.5 4 0.9 1 0.2 1.4 0.6 0.6 0.4 1.7 4 6.8 6 7.5 6 5 6 3.1 3 0.8 3 0.2 5-1.1 3-1.8 2-1.8 3.8-5.4 2.8-7 2-9 1.2-11 0.2-13-1.1-17.9-2.2-18-3.3-18-4.3-17-4.3-12-2.3-5-2.5-4.1-2-2.4-2-1.7-2-0.9z"/>
<path fill="#adadff" d="M159.6 836.5l640 0 0 504.7-640 0zM370.6 1002.1l-2 0.9-2 1.5-2 2.1-3 4.3-5 9.9-5 13.8-4 14.7-2.7 14.1-1.7 15-0.3 12.9 1 12 2 10 2.4 8 4.3 9.6 5 7.8 5 5.8 6 4.8 6 3 3 0.7 3 0.2 5-1.1 2.9-1.8 2.2-2 2.3-3 1.7-3 3-8 1.8-9 1.1-11 0-13-1.1-17.9-2.5-19-3.8-20-4.1-16-4.5-12.6-4.5-8.4-2.5-3-2-1.5-2-0.8z"/>
<path fill="#afafff" d="M159.6 836.5l640 0 0 504.7-640 0zM369.6 999.3l-2 1.3-3 3.1-5 8-5 11.6-4 12.1-3.6 14-2.7 15-1.4 14-0.1 12.9 1 12 2 10 2.5 8 4.3 9.6 5 7.9 6 6.8 6 4.8 6.2 2.9 2.8 0.7 3 0.1 3-0.5 3-1.2 2.9-2.1 2-2 3.7-6 2.8-8 1.9-10 0.9-12-0.1-13-1.5-18.9-2.9-21-4-20-4.6-17-4.2-11-2.6-5-2.3-3.4-2.5-2.6-2.5-1.4-2-0.4z"/>
<path fill="#b1b1ff" d="M159.6 836.5l640 0 0 504.7-640 0zM371.6 995.3l-2 0.7-3 2.3-2 2.3-3 4.6-5 10.3-5 14-4.2 15.9-2.9 15-1.6 14-0.4 14 0.7 10.9 1.9 11 2.8 10 1.6 4 0.8 1 0.3 1.4 0.6 0.6 0.4 1.7 5 8.5 5 6.3 6 5.6 4 2.6 3 1.5 6 1.5 3-0.1 3-0.7 3-1.5 2-1.5 2.6-2.9 2-3 3-7 2.4-10 1.2-11 0.2-13-1.1-18.9-2.6-21-3.8-21-4.5-18-4.4-13.3-2.5-5.7-2.5-4.5-2.6-3.5-2.4-2-2-1z"/>
<path fill="#b4b4ff" d="M159.6 836.5l640 0 0 504.7-640 0zM370.6 992l-2 1.2-3 2.9-5 7.8-5 11.2-5 15.1-3.8 15.2-2.9 16-1.4 15-0.2 12.9 0.9 11 2.1 11 3 10 4.3 9.7 5 8 6 7.1 7 5.8 6 3 3 0.8 3 0.3 3-0.2 3-1 2.7-1.5 2.3-2 2.5-3 1.8-3 3.1-8 2.1-10 1-12 0-14-1.3-18.9-2.9-22-4.5-23-4.8-18.5-5-13.7-2.4-4.8-2.6-4.1-2.7-2.9-2.3-1.4-2-0.5z"/>
<path fill="#b6b6ff" d="M159.6 836.5l640 0 0 504.7-640 0zM370.6 988.3l-2 1.3-3 3.1-5 8-5 11.4-5.3 16.3-3.9 16-2.8 16-1.4 15-0.1 13.9 1 11 2.1 11 3.1 10 4.3 9.7 6 9.5 6 6.9 7 5.6 6 3 4 0.9 3 0.2 3-0.5 3-1.2 3-2 2-1.9 4-6.2 3-8 1.9-10 1-12-0.1-15-1.6-19.9-3.3-24-4.4-22-5-19-5.1-14-2.4-4.9-2.7-4.1-2.3-2.5-3-1.9-2-0.4z"/>
<path fill="#b8b8ff" d="M159.6 836.5l640 0 0 504.7-640 0zM371.6 984l-2 1.1-3 2.7-5 7.6-6 13.5-5 15.4-4.2 17.1-2.8 16-1.5 15-0.2 15 1.1 12.9 2.2 11 3.1 10 1.2 3 0.8 1 0.3 1.4 0.6 0.6 1.4 3.7 6 9.6 6 7 7 5.9 4 2.3 3 1.3 4 1 3 0.1 3-0.4 3-1.1 2.2-1.4 2.8-2.4 2.1-2.6 2.3-4 3-8 2.1-11 0.8-12-0.1-14-1.6-20.9-3.2-23-4.7-24-5.1-20-4.9-14-2.7-5.8-2.5-4.2-2.5-3-3-2.2-2-0.6z"/>
<path fill="#babaff" d="M159.6 836.5l640 0 0 504.7-640 0zM373.6 979.3l-2 0.5-3 2-2 2.1-3 4.3-3 5.5-3 6.7-5.3 15-4.7 17.3-3.5 17.7-2.1 17-0.5 16 0.8 11.9 1.9 12 3 11 2.3 6 1.7 3 0.4 1.7 5 8.8 7 9 7 6.5 7 4.2 4 1.4 3 0.4 4-0.1 3-0.8 2.3-1.1 2.7-2 2.8-3 2-3 3.4-8 2.2-9 1.3-12 0.1-14-1.3-20.9-2.9-23-4.3-24-5.5-23-5-16-2.8-6.8-2.7-5.2-2.3-3.4-3-3.1-2-1.1z"/>
<path fill="#bcbcff" d="M159.6 836.5l640 0 0 504.7-640 0zM372.6 975l-2 1-3 2.6-3 4-3 5.2-6 14.2-5 15.6-4.4 17.8-3.1 18-1.6 17-0.1 15 1 11.9 2.4 13 3.5 11 1.2 3 0.8 1 0.3 1.4 0.6 0.6 1.4 3.7 6 9.8 7 8.4 7 6 4 2.5 3.5 1.6 3.5 1 4 0.4 3-0.3 3-1 3-1.7 2.8-2.4 2.4-3 1.8-3 1.8-4 1.7-5 1.9-10 1-12-0.1-15-1.9-22.9-3.7-26-5-26-5.4-21-5.3-15.6-5-10.1-2.5-3.3-2.5-2.3-3-1.3z"/>
<path fill="#bebeff" d="M159.6 836.5l640 0 0 504.7-640 0zM372.6 970.3l-2 1.1-3 2.8-3 4.1-3 5.4-6 14.5-5.4 17.2-4.3 18-3.2 19-1.6 17 0 16 1.3 12.9 2.6 13 3.3 10 5.3 11.6 6 9.4 7 8.2 4 3.7 4 3 7 3.6 4 1 3 0.3 4-0.5 3-1.1 3-1.8 2.7-2.4 4.1-6 1.8-4 1.6-5 2-10 0.9-13-0.2-15-2-23.9-3.6-25-5.5-28-5.8-23.1-5.4-15.9-2.6-5.8-3-5.3-2.2-2.9-2.8-2.4-3-1.1z"/>
<path fill="#c0c0ff" d="M159.6 836.5l640 0 0 504.7-640 0zM372.6 965.3l-2 1.2-3 3-3 4.3-3 5.6-6 14.7-6 19.7-4.5 19.6-3 19-1.3 17 0.1 16 1.3 12.9 2.8 13 3.2 10 5.4 11.6 7 11 7 8 4 3.6 4 3 4 2.3 4 1.7 4 0.9 3 0.1 4-0.5 3-1.2 3-1.9 2.8-2.6 4-6 1.8-4 1.6-5 2-11 0.8-13-0.4-16-2.2-23.9-4-27-5.7-29-6.2-24-5.5-16.1-3-6.6-3-5.1-2.7-3.2-2.3-1.7-3-1z"/>
<path fill="#c2c2ff" d="M159.6 836.5l640 0 0 504.7-640 0zM374.6 959.3l-3 1.3-3 2.7-3 4-3 5.4-6 14.2-5.6 17.5-5.1 21-3.5 20-1.8 19-0.2 17 1.4 14.9 2.4 12 4 13 1.3 3 0.8 1 0.3 1.4 0.6 0.6 1.4 3.8 7 11.5 7 8.6 8 7.3 4 2.6 4.4 2.2 3.6 1.2 4 0.6 4-0.2 3-0.8 3-1.4 3-2.2 3-3.2 1.9-3 3.5-8 2.3-10 1.2-13-0.1-15-2-24.9-4-28-5.5-29-6.5-27-5.8-18.5-3-7.4-3-5.8-2.1-3.3-2.9-3.1-3-1.7z"/>
<path fill="#c4c4ff" d="M159.6 836.5l640 0 0 504.7-640 0zM375.6 953.4l-3 1-3 2.4-3 3.8-3 5.1-6 13.7-6.4 20-5.4 22-3.6 21-2 20-0.1 18 1.3 13.9 2.7 14 4.1 13 5.4 11.7 7 11.2 8 9.5 8 6.9 4 2.6 4 1.9 4 1.2 4 0.6 4-0.3 3-0.8 3-1.4 2.9-2.1 2.9-3 2.1-3 3.6-8 2.3-10 1.3-13-0.1-15-2.1-24.9-4.2-29-6-32-6.3-27-5.8-19-2.6-7.1-3.2-6.9-2.8-4.8-3-3.6-3-2z"/>
<path fill="#c6c6ff" d="M159.6 836.5l640 0 0 504.7-640 0zM374.6 947.4l-3 1.7-3 3-3 4.4-3 5.7-6.4 16.2-6.3 21-5 22-3.6 22-1.6 19 0.1 18 1.4 13.9 2.8 14 4.2 13 5.4 11.7 4 6.9 4 5.9 8 9.4 4 3.7 5 3.9 4 2.4 4 1.9 4 1.1 4 0.5 4-0.2 3-0.8 3-1.4 3-2.1 2.9-2.9 2.8-4 2-4 1.7-5 2.1-10 1-13-0.2-15-2.6-26.9-4.9-32-6.4-33-7.3-30-6.1-19.2-3-7.4-3-5.9-3-4.4-3-2.9-3-1.3z"/>
<path fill="#c8c8ff" d="M159.6 836.5l640 0 0 504.7-640 0zM373.6 941.3l-3 2.3-3 3.7-3 5.1-3 6.2-3.5 8.8-3.5 10.4-6.2 22.6-4.9 23-3 21-1.3 19 0.4 18 1.8 14.9 3.4 15 4.7 13 0.8 1 1.3 3.8 4 7.6 8 11.9 8 9.1 5 4.4 4 3 5 2.8 4 1.6 4 1 4 0.3 4-0.4 3.4-1.1 3.6-2 2.5-2 2.8-3 2.5-4 1.9-4 1.7-5 2.1-11 0.7-13-0.5-16-3.2-28.9-5.9-36-7.3-36-7.7-30-3.4-11-3.2-8.6-3-6.7-3-5.1-3-3.7-3-2.2-3-0.7z"/>
<path fill="#cacaff" d="M159.6 836.5l640 0 0 504.7-640 0zM376.6 933.3l-3 1-3 2.5-3 4-4 7.2-3.2 7.4-3.8 10.4-6.4 21.6-5.5 24-3.9 24-1.9 22 0.1 20 1.9 16.9 3 14 4.3 13 6.4 13.7 8 12.6 9 10.6 4 3.8 5 4 5 3.1 4.9 2.2 4.1 1.2 4 0.5 4-0.2 4-0.9 3.5-1.6 2.9-2 3.1-3 2.2-3 2.3-4 1.6-4 2.4-10 1.2-13-0.3-15-2.6-26-5.7-35.9-8-41-7.9-33-6.7-22-3-7.8-3-6.5-3-4.9-3-3.5-3-2z"/>
<path fill="#ccccff" d="M159.6 836.5l640 0 0 504.7-640 0zM374.6 926.2l-3 2.3-3 3.6-3 5.1-4 8.6-7 20-6.8 25.6-4.9 24-3.4 24-1.3 21 0.6 19 2.2 16.9 4 16 4.5 12 0.8 1 1.3 3.8 5 9.5 4 6.3 5 6.9 9 10 5 4.4 5 3.6 5 2.7 4.8 1.8 4.2 0.9 4 0.3 4-0.4 4-1.2 3.3-1.6 3.7-2.7 3-3.3 2.1-3 2-4 1.5-4 1.3-5 1-6 0.7-13-0.7-16-3.5-28.9-6.9-40-9-44-8.8-35-6.7-20.7-3-7.1-3.3-6.2-3.7-4.9-3-2.3-3-0.7z"/>
<path fill="#ceceff" d="M159.6 836.5l640 0 0 504.7-640 0zM376.6 917.2l-3 1.5-3 3-3 4.3-4 7.8-4 10-3.3 9.6-7.5 27-5.7 27-3.8 26-1.5 22-0.1 11 0.5 10 2.1 16.9 3.8 16 5.4 15 0.8 1 1.3 3.8 5 9.5 4 6.5 5 7.1 5 6.1 5 5.2 5 4.5 5 3.6 5 2.9 5 2.1 5 1.2 4 0.4 4-0.2 4-0.8 4-1.7 3.6-2.2 3.3-3 2.4-3 2.3-4 1.6-4 2.4-10 0.8-12-0.5-15-1.3-13-2.2-16-7-39.9-10.7-52-9-37-6.7-21.8-3-7.8-3.5-7.4-3.5-5.5-3-3.1-3-1.5z"/>
<path fill="#d0d0ff" d="M159.6 836.5l640 0 0 504.7-640 0zM376.6 908.3l-3 1.6-4 4.6-3 5-4 8.7-4 10.7-3.4 10.5-7.1 27-5.7 28-3.7 26-1 12-0.6 12 0.1 11 0.5 10 2.4 17.9 3.9 16 5.5 15 0.8 1 0.3 1.5 0.6 0.5 1.4 3.9 5 9.3 9 13.3 5 6.2 6 6.2 5 4.4 5 3.6 6 3.4 5 2 5 1.2 4 0.4 4 0 4.8-0.9 4.2-1.5 3-1.6 3.7-2.9 2.7-3 2-3 1.9-4 1.6-5 1-5 0.9-12-0.6-15-1.5-14-2.2-15-7.9-42.9-12.2-58-5.1-22-5.1-20-6.8-22-3.4-8.6-3-6.3-3.9-6-3.1-3.1-3-1.3z"/>
<path fill="#d2d2ff" d="M159.6 836.5l640 0 0 504.7-640 0zM377.6 898.2l-3 1.4-4 4.2-3 4.8-4 8.4-4 10.6-4 12.4-7.7 29.4-6 30-3.9 28-1.1 13-0.4 12 0.1 11 0.7 11 1 9 1.6 9.9 4.4 17 3.9 11 1.3 3 0.8 1 1.3 3.8 8 14.8 5 7.6 5 6.6 5 5.9 6 6 5 4.2 6 4 6 3.1 5.5 2 4.5 1 5 0.5 5-0.3 4-0.7 4-1.3 4-2 3-2.2 2.9-3 2.1-3 1.9-4 1.3-4 1-5 0.8-11-0.6-14-1.5-13-2.3-15-8-41.9-15.3-71-10.9-45-7-22.9-3.4-9.2-3-6.5-3.8-6.3-3.2-3.5-3-1.7z"/>
<path fill="#d4d4ff" d="M159.6 836.5l640 0 0 504.7-640 0zM378.6 887.3l-3 1.1-4 3.8-4 6.4-4 8.8-4 10.9-4 12.7-4.2 15.4-4.1 17-6.2 32-2.3 15-1.7 15-0.9 13-0.4 13 0.2 12 0.8 11 1.3 10 1.8 9.9 2.2 9 2.8 9 3.3 9 1.3 3 0.8 1 1.3 3.8 4 8 5 8.6 5 7.5 6 8 6 6.8 6 5.8 6 4.7 6 3.8 6 2.9 6.1 2.1 4.9 1 5 0.5 5 0 5-0.7 4-1 4-1.7 3.3-2.1 2.7-2.5 2-2.6 2.1-3.9 2.2-8 0.9-11-0.7-13-3.4-24-7.6-37.9-21.9-99-10.8-44-7-22.9-3.8-9.9-3-6.4-3-5-3-3.5-3-2z"/>
<path fill="#d6d6ff" d="M159.6 836.5l640 0 0 504.7-640 0zM379.6 875.4l-3 0.8-2 1.4-2 2.1-4 6.1-4 8.5-4 10.7-5 16.1-4.4 16.3-4.2 18-6.7 35-2.3 16-1.7 15-1 14-0.3 13 0.3 12 0.9 12 1.1 9 2 10.9 2.7 11 3.2 10 3 8 1.3 3 0.8 1 0.3 1.5 0.5 0.5 1.5 3.9 5 9.6 5 8.3 6 8.7 6 7.7 6 6.6 6 5.6 6 4.6 7 4.3 7 3.2 7 2.2 11 1.8 6 0.1 5-0.4 4-0.8 3.9-1.4 3.1-1.8 2.7-2.2 2.3-2.9 1.7-3.1 2.1-7 0.8-10-0.7-13-3.1-20-6.1-29-32-138.9-9.6-37.9-7.1-23.3-6-14.6-3-5.3-3-3.8-3-2.3z"/>
<path fill="#d8d8ff" d="M159.6 836.5l640 0 0 504.7-640 0zM379.6 862.3l-2 0.6-2 1.2-4 4.4-4 7.1-4 9.4-4.3 12.5-4.7 16.2-4.7 18.7-4.7 21-6.4 36-2.3 17-1.4 15-0.8 14-0.1 14 0.6 13 1.1 12 2 12 2.1 9.9 3.1 11 3.9 11 2.5 6 0.8 1 1.3 3.8 5 10 5 8.7 6 9.1 6 8.1 7 8.1 6 5.9 7 5.8 7 4.7 7 3.6 7 2.7 8 2.4 12 2.1 10 0.3 4-0.5 4-1.1 3.5-1.7 2.5-1.9 2-2.3 1.7-2.8 1.3-3.3 1-4.3 0.6-9.4-0.9-12-2.5-15-4.7-21-22.5-90.3-22.8-96.6-7.8-29.9-6.4-20.3-6-14.3-3-5.2-3-3.7-3-2.1z"/>
<path fill="#dadaff" d="M159.6 836.5l640 0 0 504.7-640 0zM378.6 848.2l-2 1-2 1.7-4 5.4-4 8.1-5 13.3-5 16.4-5 19.2-4.8 21.1-4.4 22-5.7 35-1.8 16-1.2 16-0.5 14 0.2 14 0.9 13 1.6 13 2.3 11.9 2.7 11 3.1 10 4.2 11 1.3 3 0.8 1 0.3 1.5 0.5 0.5 0.5 1.8 2 4.2 6 11.3 7 11.3 7 9.8 6 7.4 7 7.4 7 6.2 7 5.1 7 4.1 8 3.9 9 3.4 10 3.1 12 2.6 10 0.8 4-0.3 4-1 2.4-1.1 2.6-1.8 2-2.2 1.8-3 1.1-3 0.9-4 0.4-10-1.4-12-2.2-12-3.4-14-28.2-103.6-10-40-19.4-81.2-8.6-32.2-6-18.1-3-7.3-3.3-6.4-2.7-4.1-3-3-3-1.4z"/>
<path fill="#dcdcff" d="M159.6 836.5l208.7 0 0 9-4.7 11.8-5.4 17.2-5.6 21.1-5.5 23.9-7.3 37.9-5 35-1.5 15-0.9 14-0.3 13 0.3 13 0.7 12 1.3 11 1.8 11 3 12.9 3.8 13 3.9 11 2.6 6 0.8 1 2.3 6 6 11.7 7 11.8 8 11.7 7 8.8 8 8.6 8 7.1 8 5.9 8 4.8 10 5 14 5.9 14 4.8 11 2.8 8 0.8 6-0.7 4-1.5 4-3.2 2.5-4.3 1.4-5 0.5-7-0.5-8-1.6-10-2.7-12-4.4-16-23.2-76-13-46.1-11-42.8-24.2-99.9-7.8-26.6-3-8.4-3.3-8 0-9 395.3 0 11 0 0 504.7-640 0z"/>
<path fill="#dedeff" d="M159.6 836.5l202.4 0 0 9-5.2 18-5.2 20.9-5.5 25.1-4.9 24.9-5.9 37-3.2 30-0.9 14-0.3 14 0.2 13 0.8 12 1.4 12 1.9 12 2.7 11.9 3.1 11 5.1 15 3.4 8 0.8 1 1.3 3.9 6 12.1 6 10.6 7 11 8 11.1 7 8.3 8 8.1 9 7.6 10 6.9 12 6.9 15 7.6 14 6.3 12 4.5 10 2.6 8 0.8 5-0.5 5-1.5 4-2.9 2.4-3.4 1.8-5 0.5-6-0.4-7-1.5-9-2.7-11-4.4-15-30.7-92.1-9-29-8-27.8-13-49.6-23-95.3-5-18.8-4.3-14.2 0-9 373.3 0 26 0 0 504.7-640 0z"/>
<path fill="#e0e0ff" d="M159.6 836.5l197.2 0 0 9-5.2 21.3-5.3 24.7-5.1 26-4.1 23.9-4.8 35-2.4 29-0.4 15 0.1 14 0.8 13 1.3 13 2.1 13 2.3 11 3.2 11.9 3.9 12 4.9 13 1.4 3 0.8 1 0.3 1.5 0.5 0.5 0.5 1.9 3 6.3 7 13.3 7 11.7 7 10.4 8 10.5 8 8.9 8 7.6 10 8 13 8.7 19 11.2 18 9.4 12 5.4 10 3.5 10 2.3 9 0.8 6-0.5 5-1.4 3.5-2 2.7-3 1.8-4 0.7-5-0.3-6-1.3-7-2.7-10-4.7-14-24.7-65.6-15-41.8-11-33-9-29.3-8-28.3-9-34.4-21.7-90.4-6.6-26 0-9 345.3 0 48 0 0 504.7-640 0z"/>
<path fill="#e2e2ff" d="M159.6 836.5l192.2 0 0 9-5.5 26-5.2 27-4.3 25-3.6 23.9-3.8 34-1.6 29 0.1 15 0.8 15 1.4 14 2 13 2.9 14 3.2 11.9 3.8 12 5.3 14 2.2 5 0.8 1 0.3 1.5 0.5 0.5 2.5 6.2 7 13.7 8 13.8 8 12.3 8 10.7 8 9.2 8 8 9 7.7 14 10.3 19 12.3 18 10.7 15 7.6 13 5.4 13 4.1 13 2.7 12 1 5-0.2 5-0.8 4-1.5 3.1-2.3 1.9-2.9 0.8-3.1-0.1-3.9-0.9-5-2.4-7-3.3-8-25.1-53.4-17-39.5-17-44.1-17-48.9-8-25.3-7-23.9-14-52.8-22.5-94.9 0-9 307.5 0 80 0 0 504.7-640 0z"/>
<path fill="#e4e4ff" d="M159.6 836.5l187.2 0 0 9-5.7 30-5.1 30-4 25.9-3 24-1.8 19-1.1 18-0.3 17 0.4 16 1.4 17 2.3 17 3.2 16 4 14.9 4.8 15 6.2 16 1.3 3 0.9 1 0.3 1.5 0.5 0.5 0.5 1.9 3 6.4 8 15.5 9 15.4 9 13.5 10 12.8 10 10.8 11 10 14 11 19 13.3 18 11.4 14 7.9 13 6.2 15 6.1 16 5.3 20 5.4 19 4.1 18 3 15 1.2 6-0.5 2.4-0.8 1.6-1 0.8-1 0.4-2-1.4-4-5.6-8-23.2-26.3-13-16.1-12-16.5-11-17.1-13-23.1-12-24.2-12-27-12-29.7-11-29.6-11-31.9-10-31.6-9-31.2-13-50.2-16.6-71.2 0-9 226.6 0 155 0 0 504.7-640 0z"/>
<path fill="#e7e7ff" d="M159.6 836.5l182 0 0 9-5.7 33-5 32-3.5 26.9-2.3 23-1.3 20-0.4 19 0.5 18 1.3 17 2.7 19 3.4 17 4.9 18 6 17.9 5.9 15 1.3 3 0.9 1 1.3 3.9 7 14.6 10 18.4 10 16.1 9 12.6 9 10.8 10 10.4 11 9.9 17 13.4 18 13 16 10.3 15 8.5 14 6.9 14 6 16 6.2 19.8 6.9 53.7 17 68.5 19.9 7.3 2.1 0 9-517.3 0zM424.2 836.5l375.4 0 0 483.1-8 0-21-3.7-27-5.4-23-5.5-17-5-15-5.1-15-6.1-13-6.1-15-8.1-15-9.1-16-11-14-10.6-12-10.1-12-11.4-11-11.7-10-12.1-10-13.6-9-13.9-9-15.4-9-17.2-9-18.9-9-20.6-9-22.3-9-23.9-10-28.5-9-27.4-8-26.4-8-28.5-11-43.2-12.4-53.3z"/>
<path fill="#e9e9ff" d="M159.6 836.5l176.4 0 0 9-5.6 35-4 28-2.9 24.9-1.8 21-1 19-0.2 19 0.7 18 1.5 17 2.6 18 3.9 19 4.8 18 5.9 17.9 7.4 19 2.1 5 0.9 1 1.3 3.9 4 8.6 9 17.7 10 17.6 9 13.9 9 12.1 10 11.7 10 10.1 14 12.4 16 12.7 17 12.3 15 9.7 14 8 14.5 7.2 15.5 7 19.7 8 21.5 8 26.1 9 49.7 15.5 5.3 1.5 0 9-481.3 0zM431.1 836.5l368.5 0 0 469.5-8 0-15-3.2-27-6.5-24-6.7-17-5.6-16-6.1-15-6.5-15-7.4-16-8.9-15-9.4-16-11.1-14-10.7-12.5-10.6-11.5-11-11-11.7-10-12.1-9-12.1-9-13.7-9-15.3-8-15.1-8.7-18-8.3-18.7-8-19.5-9-23.7-10-28.2-9-27.3-8-26-8-28-11-42.4-10.5-45z"/>
<path fill="#ebebff" d="M159.6 836.5l169.9 0 0 9-4.6 31-3.6 28-2.4 22.9-1.6 21-0.6 19 0.1 18 1 18 1.7 16 2.7 18 4 19 4.9 18 6.1 18.9 8 21 4.2 10 0.9 1 0.3 1.5 0.5 0.5 2.5 6.3 9 18.5 10 18.5 9 14.9 9 13.1 9 11.4 10 11.1 12 11.7 15 12.9 16 12.6 15 10.6 13 8.2 14 7.9 15 7.5 17.1 7.7 19.5 8 21.4 8 23.2 8 22.8 7.2 2.5 0.8 0 9-456.5 0zM438.7 836.5l360.9 0 0 456.6-8 0-10-2.4-28-7.5-24-7.4-17-6-16-6.5-15.4-7.1-15.4-7.9-15.2-8.9-15-9.6-15-10.7-15-11.7-13-11.1-11-10.5-11-11.7-10-11.9-9-12-9-13.3-8-13.3-8-14.7-8-16.1-8-17.6-8-19.1-8-20.6-9-24.9-9-26.7-9-28.6-8-27.3-11-41.2-9.9-41.3z"/>
<path fill="#ededff" d="M159.6 836.5l162.1 0 0 9-4.6 34-3 27-1.5 18-0.8 16.9-0.2 19 0.6 18 1.3 17 2.3 18 3.3 18 4.1 18 5 18 6.9 21 8 20.9 6.3 15 0.9 1 1.3 3.9 10 21.2 11 21.1 9 15.4 8 12.2 9 12.2 10 11.8 11 11.5 13 12 14 11.8 14 10.7 13 8.9 14 8.6 14 7.6 16 7.9 16.1 7.1 19.9 8 19 7 22 7.4 1.9 0.6 0 9-436.9 0zM447.3 836.5l352.3 0 0 443.2-8 0-6-1.5-27.5-8-25.5-8.5-17-6.5-16-6.9-15-7.3-15-8.1-15-9.1-15-10-14.3-10.5-14.9-12-12.8-11.2-12-11.5-11-11.8-10-12-9-11.9-8-11.8-8-13-8-14.4-7.7-15.3-7.3-15.8-7.8-18.2-7.2-18.3-9-24.6-9-26.6-9-28.4-8-27-10-36.6-9.3-37.4z"/>
<path fill="#efefff" d="M159.6 836.5l151.9 0 0 9-3.4 27-2.3 24-1.1 18-0.4 16.9 0.3 19 1.2 18 2 18 2.9 18 4.3 20 5.2 20 6.1 20 7.7 22 9 22.9 6.4 15 0.9 1 2.3 6.1 10 21.3 11 21.5 9 15.9 8 12.5 8 11.3 9 11.2 10 11.1 11 10.9 13 11.7 13 10.6 12 8.8 12 8.1 13 7.8 13 7 16.6 8.1 18.4 8 20 7.8 20.2 7.2 0 2 0 7-420.2 0zM457.3 836.5l342.3 0 0 428.8-8 0-1-0.2-28.5-8.9-25.5-9-17-6.9-15.4-7-15.6-8-14.1-8-14.3-9-14.6-10.1-14.4-10.9-14.5-12-13.1-11.7-12-11.7-11-11.8-10-11.9-9-11.8-8-11.6-8-12.7-7-12.3-8-15.4-7-14.9-14-33.3-8.2-21.8-8.8-25.6-8-24.9-9-30-10-35.9-8.3-32.5z"/>
<path fill="#f1f1ff" d="M159.6 836.5l137.2 0 0 9-1.9 21-1.2 21-0.3 17 0.3 17 1.2 17.9 2 18 2.9 18 3.5 17 5.1 20 6.5 22 8.2 24 8.9 24 11 26.9 6.4 15 0.9 1 0.3 1.5 0.5 0.5 2.5 6.4 12 25.6 11 21.6 8 14.2 7 11.2 8 11.6 8 10.4 9 10.5 10 10.5 11 10.4 11 9.5 12 9.5 13 9.3 13 8.2 13 7.4 14.9 7.6 15.2 7 16.9 7 18.6 7 0 5 0 4-405.6 0zM468.8 836.5l330.8 0 0 412.8-8 0-27-9-24-9.2-16-6.9-16-7.7-15-8-14-8.3-13.5-8.9-13.9-10-13.6-10.6-13.4-11.4-13.6-12.4-12-11.9-11-11.8-11-13-9-11.7-8-11.4-8-12.5-7-12-7-13.1-7-14.4-7-15.7-7-17-8-21.1-8-22.9-15-47.8-9-31.7-8.8-33.4z"/>
<path fill="#f3f3ff" d="M159.6 836.5l117.8 0-0.2 25 0.2 17 1 18 1.5 17 2.2 16.9 3 17 3.8 17 4.3 16 6.1 19 7.8 22 10.9 28 13.1 32 16.1 37.9 2.2 5 0.9 1 1.3 3.9 7 15.6 12 25.4 10 19.5 7 12.4 7 11.3 7 10.2 7 9.3 8 9.6 8 8.8 9 9.1 10 9.2 11 9.2 12 9.2 12 8.2 13 7.9 13 7.2 15 7.4 15 6.6 17.4 6.9 0 9-392.4 0zM482.1 836.5l317.5 0 0 394.3-8 0-25-9.1-22.9-9.4-16.1-7.4-14.8-7.6-14.2-8-14-8.8-13.3-9.2-12.7-9.6-12.7-10.4-12.5-11-12.8-12.1-13-13.2-11-12-10.6-12.7-8.4-10.8-8-11.2-8-12.2-7-11.7-7-12.6-7-13.9-13-29.3-7.9-20.2-7.1-19.9-14-43.6-8-27.7-8.5-31.7z"/>
<path fill="#f5f5ff" d="M159.6 836.5l98.3 0 0 9 1.9 23 2.3 20 2.9 19 3.1 17 3.7 15.9 4.1 15 4.6 14 5.2 14 6.4 15 31.5 67.7 24.5 55.2 2.2 4 1.3 3.9 11 24.6 13 27.6 11 21 12 19.8 13 18 7 8.5 8 8.9 16 15.7 10 8.6 11 8.7 11 7.8 12 7.7 12 6.9 13 6.7 14 6.5 14.2 6 0 9-380.2 0zM497.6 836.5l302 0 0 372.3-8 0-21.5-8.5-20.4-9-16.1-7.9-14-7.5-14-8.3-13-8.5-12.2-8.8-11.8-9.2-12-10.1-11.8-10.7-12.2-11.9-12-12.5-12-13.3-10.3-12.2-8.7-11.1-8.7-11.9-8-12-7.3-11.8-7-12.2-6.9-13-12.1-26-7-17-7-18.6-13.1-39.3-7.9-26.5-7-25.5z"/>
<path fill="#f7f7ff" d="M159.6 836.5l76.1 0 0 9 6.5 30 6.8 28 5.3 19 5.5 17.9 5.5 16 5.4 14 5.8 13 6.7 13 27.4 47.7 14 26.6 12 25.1 12.8 28.5 0.9 1 3.3 8.5 21 46.8 9 18.3 9 16.4 11 17.5 11 15.1 13 15.1 14 14 9 8 10 8.2 10 7.3 11 7.4 11 6.6 11 6 12 5.9 12.8 5.8 0 9-368.8 0zM516.4 836.5l283.2 0 0 345-8 0-17-7.4-16.6-7.8-14.4-7.4-14-7.9-13-7.9-13-8.8-11-8.1-11-8.8-10.5-9.1-10.8-10-20.7-21.1-21.5-24.8-18.5-23.8-16-23.3-15-25.2-13-25.6-7-15.5-6-14.5-6.8-18-6.2-17.9-7-21.9-6.2-21.2z"/>
<path fill="#f9f9ff" d="M159.6 836.5l40.5 0 0 9 28.5 55.8 24.6 54.1 9.7 20 6.9 13 6.5 11 32.3 46.5 8 12.8 9 15.9 10 19.7 13.8 30 0.9 1 1.3 4 16 36.8 13 28.6 10 19.7 10 17.2 9 13.5 10 13.1 11 12.6 12 12 17 14.5 18 13 19 11.4 21.1 10.5 0 9-358.1 0zM541.3 836.5l258.3 0 0 309.1-8 0-20.8-10.3-14.2-7.6-13-7.6-13-8.3-12-8.3-18.3-14.2-17.9-15.9-17.8-18-17.6-20-18.4-23.2-19.2-26.8-15.8-24.6-14-24.5-8-15.7-7-14.9-13-31.3-10.3-28.9z"/>
<path fill="#fbfbff" d="M581.1 836.5l218.5 0 0 257.2-8 0-1-0.5-27.1-15.8-12.9-8.5-12-8.5-16-12.5-15.3-13.5-14.7-14.7-14-15.6-15.8-19.7-15.2-21-15.9-24-15.7-25.9-17.4-31.6-15-30.9-2.5-5.5zM159.6 854.5l0-0.6 8 0 17.9 27.6 8.8 13 27.3 35.5 10 13.8 29.2 45.6 9.5 14 9.2 12 25.1 29.9 8 10.8 7 10.4 7 11.6 7 12.9 7 14.1 8.8 19.2 0.9 1 1.3 4 22 51.5 14 30.4 12 22.2 6 9.7 7 10.3 9 11.7 10 11.5 11 11.1 12 10.6 12 9.4 13 8.9 14 8.4 13.9 7.2 0 9-347.9 0z"/>
<path fill="#fdfdff" d="M653.4 836.5l146.2 0 0 168.1-8 0-14.6-10.2-13.2-10-13.3-11-12.9-11.6-12-12-11-12-11-13.3-11-14.7-11-16.1-10-16-9-15.4-9.2-16.8zM159.6 901.5l0-0.8 8 0 26.2 28.7 26.8 26.5 10 10.4 11 12.7 28.9 35.4 8.2 9 21.9 22.1 13 15.2 6 8.2 7 10.7 7 12.2 6 11.5 9.8 21 0.9 1 0.3 1.6 24 57.6 11 25.1 11 22 12 20.2 9 12.9 9 11.2 10 11 11 10.6 12 10.1 12 8.9 13 8.4 13 7.3 0 9-338 0z"/>
<path fill="#ffffff" d="M159.6 933.4l0-0.7 8 0 27.2 22.7 33.8 26.9 15 13.8 29.2 29.3 29.8 26.6 7 7.1 7 8.2 8 10.7 8 12.8 7 12.8 9.8 20.7 0.9 1 26.3 65.6 9 21.3 11 22.9 6 11.1 6 10 8 12 8 10.5 9 10.4 10 10.1 10 9 11 8.7 11 7.7 12.4 7.6 0 9-328.4 0z"/>
<path fill="#fffdfd" d="M159.6 957.4l0-0.3 8 0 52 33.6 13 8.9 15 11.6 25 21.2 28 21.6 10 9.2 9 9.9 8 10.7 7 11.1 6 10.9 8.8 18.5 0.8 1 12.1 30 16.3 42.5 8 19.5 10 21.7 11 20.3 7 11.1 8 11.1 8 9.8 8 8.7 9 8.7 10 8.5 10 7.6 11.1 7.4 0 9-319.1 0z"/>
<path fill="#fffbfb" d="M159.6 977.4l0-0.5 8 0 47 24.1 21 11.8 13 8.5 23.8 17.1 28.2 19.2 11 9.2 10 10.4 7 9.1 7 10.8 6 10.9 7.8 16.3 0.8 1 11.9 30 16.5 44.6 8 20.5 10 22.8 10 19.4 6 10.2 7 10.4 7 9.3 8 9.3 8 8.3 8 7.4 9 7.5 9.9 7.2 0 9-309.9 0z"/>
<path fill="#fff9f9" d="M159.6 994.4l0-0.8 8 0 9 3.3 39 16 13 5.9 12 6 12 6.8 48 29.2 12 9.2 6 5.6 5 5.4 7 9 6 9.3 6 10.8 6.8 14.2 0.8 1 11.7 30 17.7 49.6 8 21.4 9 21.5 9 18.5 5 9 6 9.7 6 8.7 7 9 7 7.9 8 8.1 8 7.2 7.8 6.3 0 9-300.8 0z"/>
<path fill="#fff7f7" d="M159.6 1008.4l8-0.2 21 5.7 32 10.8 13 5 11 4.8 45 23.1 12 6.8 7 4.7 6 4.6 6 5.5 5 5.4 6 7.6 6 9.2 5 8.8 6.8 14.1 0.8 1 13 34 17.4 51.2 8 22.4 8 20.1 7 15.4 10 18.6 5 8 6 8.5 6 7.6 7 8 7 7 6.7 6.1 0 9-291.7 0z"/>
<path fill="#fff5f5" d="M159.6 1021.4l8-0.2 2 0.3 12 1.9 13 2.8 29 7.9 13 4.2 11 4 40 17.7 14 7 8 5 6 4.4 6 5.2 5 5.2 5 6.1 6 8.8 5 8.7 6.8 13.9 0.8 1 7.8 20 6.1 17 18.5 57.4 7 20.5 7 18.6 6 14.1 9 18.2 9 14.9 10 13.5 11.6 12.7 0 9-282.6 0z"/>
<path fill="#fff3f3" d="M159.6 1033.4l0-0.4 16 0.4 10 0.9 11 1.6 13 2.5 16 3.7 14 3.6 11 3.3 36 13.8 16 7.2 7 4 7 4.7 6 5.1 6 6.2 5 6.2 5 7.4 4 6.9 6.8 13.8 0.8 1 7 18 6 17 23.4 76 11.4 32.9 8.3 20 8.3 16.3 9 14.5 9.4 12.2 0 9-273.4 0z"/>
<path fill="#fff1f1" d="M159.6 1044.4l0-0.6 20-0.3 9 0.3 10 0.8 12 1.6 17 2.9 14 2.8 11 2.8 34 11.1 17 6.9 8 4.3 6 4 6 4.8 6 6.1 7 9 7 11.6 5.8 11.8 0.8 1 5.8 15 5 14 6 19 19.6 68.5 9.5 30.4 6.5 18.2 7 16.6 7 13.7 7 11.5 0 9-264 0z"/>
<path fill="#ffefef" d="M182.2 1052.4l11.4-0.3 12 0.7 16 1.7 19 2.5 18 3.7 28 7.9 17 6.2 6 2.8 6 3.4 6 4.2 5 4.4 5 5.2 4 5.1 7 10.9 6.8 13.5 0.8 1 10 27 9.9 33 18.5 70.8 8 28.5 9 27.3 8.4 20.3 0 9-22.4 0-232 0 0-287.3 8 0z"/>
<path fill="#ffeded" d="M184.7 1060.4l10.9-0.8 11 0 16 0.9 20 1.7 18 2.8 28 6.8 16 5.3 7 3.1 6 3.4 6 4.2 5 4.5 5 5.5 4 5.2 6 9.7 5.8 11.6 0.8 1 7.9 21 6.9 22 5.1 19 6 24 27.9 120.9 0 9-25.4 0-219 0 0-277.8 8 0z"/>
<path fill="#ffebeb" d="M197.4 1066.4l10.2-0.5 12 0 20 0.6 12 0.9 11 1.5 16 3.1 12 2.7 10 2.8 7 2.5 7 3.2 6 3.5 5 3.7 5 4.6 5 5.7 4 5.5 4 6.6 5.8 11.5 0.8 1 7.8 21 6.2 20 6.7 26 8.1 37 7.3 38.9 4.9 31 2.1 22 0.2 20-37.9 0-196 0 0-268.7 8 0 15-4z"/>
<path fill="#ffe9e9" d="M216.5 1071.4l28.1-0.5 18 1.3 16 2.4 13 2.5 10 2.5 9 3.1 6 2.8 6 3.5 5 3.8 5 4.8 4 4.7 4 5.7 4 6.7 4.8 9.6 0.8 1 7.7 21 6.3 21 6.1 25 6.1 30 5.2 30.9 3.2 26 1.3 21-0.5 16-1.4 9-1.9 7 0 9-52.7 0-170 0 0-259.9 8 0 13.6-4.9 12.4-3 10-1.3z"/>
<path fill="#ffe7e7" d="M234.4 1075.4l13.2-0.6 12 0.3 15 1.5 15 2.2 11 2.3 9 2.7 8 3.3 7 4.2 6 4.8 5 5.3 5 6.8 5 8.4 3.8 7.7 0.8 1 3.8 10 4.2 12 4.7 16 6.4 27 5.8 31 4.2 29.9 1.9 25 0.1 17-1.4 14-1.5 7-2.2 7-2.6 5.6-3.3 5.4 0 9-63.7 0-147 0 0-251.4 8 0 8-3.8 7-2.8 7-2.3 8-1.9 14-2z"/>
<path fill="#ffe4e4" d="M248.4 1078.4l13.2-0.1 15 0.9 15 1.9 13 2.6 9 2.8 8 3.7 7 4.8 6 5.7 7 9.1 8.6 15.5 5.9 16 5 16 4.1 16 4 19 3.7 21 3 23 1.8 20.9 0.3 18-1 15-1.1 7-1.6 7-2 6-2.2 5-2.5 4.6-3 4.4-3.4 4-4.3 4 0 9-67.3 0-112.3 0 0-9-9.7-6.1-8 0 0-228 8 0 9-5.1 7.8-3.7 8.2-2.9 8-2.2 18-2.9z"/>
<path fill="#ffe2e2" d="M253.6 1081.4l14-0.2 16 0.9 14 1.7 11 2.3 9 3.1 7 3.6 7 5.3 6 6.4 6 8.7 6.6 12.1 4.9 13 4.1 13 4.7 18 4 19 3.4 20 2.3 19 1.6 21 0.1 17.9-1.4 16-2.7 13-2.1 6-2.5 5.8-3 5.2-3.7 5-3.6 4-4.7 4.2-5 3.5-5.8 3.3 0 9-60.2 0-84.7 0 0-9-8.3-3.7-7-3.8-7-4.5-6-4.4-8 0 0-209.3 8 0 9-6.1 8-4.5 9-3.8 8.8-2.8 9.2-2.1 12-2 18-2.7z"/>
<path fill="#ffe0e0" d="M254 1084.4l13.6-0.7 15 0.3 13 1.1 12 2.1 9 2.6 7 3.2 7 4.7 6 5.9 6 8.1 7.6 13.6 7.7 22 4.4 16 3.9 18 3.2 19 2.4 20 1.2 16 0.3 14-0.5 12.9-1.2 10.9-2.1 10.1-2.9 9.1-3.7 7.9-4.6 7-6.7 7.3-4 3.3-5 3.4-11 5.7-11.9 4.3 0 9-41.1 0-58.7 0 0-9-15.3-4.8-14-6.1-12-7.1-11-8.7-8 0 0-190.6 8 0 9-7.2 8-5.2 9-4.5 9-3.4 9-2.5 12-2.6 19-3.6z"/>
<path fill="#ffdede" d="M262.9 1086.4l14.7-0.5 14 0.5 12 1.3 10 2.2 8 2.9 7 3.9 6 5.1 6 7 4 6.2 5.6 10.3 6.1 17 5.1 18 3.8 18 3.3 20 2.1 20 0.9 18-0.1 13-0.8 10.9-1.7 11-2.3 9-3 8.2-4 7.7-5 7-5 5.3-7 5.6-8 4.7-9 4.1-9 3-11 2.7-12 1.9-13 1.1-13 0.2-15-0.9-15-1.9-13-2.7-12-3.6-13-5.1-12-6.3-10-7.1-10-9.1-8 0 0-171.6 8 0 9-8.3 9-6.7 9-5.1 10-4.2 13-4 23-5.4 11-2.1z"/>
<path fill="#ffdcdc" d="M268.2 1088.4l14.4-0.6 13 0.5 12 1.4 10 2.4 7 2.8 7 4.6 6 5.8 5 6.6 7.6 13.4 3 8 4.9 15 4.2 17 3.6 19 2.5 19 1.4 18 0.2 17-0.5 11-1.4 10.9-1.9 9-2.8 9-3.6 8-4.2 6.9-5 6.1-6 5.6-7 4.9-8 4.4-9 3.7-10 3-11 2.2-13 1.6-12 0.7-12-0.2-15-1.4-14-2.2-12-3.1-12-4.2-12-5.5-11-6.7-10-8.2-9-9.6-8 0 0-151.9 8 0 9-9.8 9-7.7 9-5.9 11-5.3 14-4.8 24-6.6 12-2.4z"/>
<path fill="#ffdada" d="M270.3 1090.3l13.3-0.7 13 0.2 11 1 10 2.1 7 2.7 7 4.3 6 5.6 5 6.5 7.6 13.3 3 8 4.8 15 4.1 17 3.3 18 2.3 19 1.1 18-0.2 16-0.9 11-1.5 9.9-2.5 10-3 8-3.5 7-4.6 7-5 5.6-6.2 5.4-7.8 5.2-8 4-9 3.4-10 2.7-11 2-13 1.4-12 0.3-11-0.4-15-1.8-13-2.4-12-3.6-12-4.8-12-6.4-10.5-7.6-9.3-9-8.2-10.4-8 0 0-131 8 0 8.9-11.5 9-9 9.4-7 10.7-5.8 14-5.5 25-8 13-3z"/>
<path fill="#ffd8d8" d="M282.8 1091.3l12.8-0.2 12 0.8 10 1.9 8 2.9 7 4.4 6 5.8 5 6.7 6.6 11.7 5 14 4 14 3.7 17 2.5 16 1.7 17 0.6 16-0.4 15-1.5 13-1.8 8.9-2.7 9-3.4 8-4.1 7-4.5 6-5.7 5.8-6 4.7-7 4.3-8 3.7-9 3.2-10 2.5-11 1.8-12 1.1-11 0.2-11-0.7-12-1.4-12-2.3-11-3.2-11-4.4-10.4-5.3-10.6-7.1-9-8.1-8.2-9.8-6.8-10.7-8 0 0-108.1 8 0 4.1-7.1 4.1-6 4.8-6 4.6-5 5.4-5 5-3.8 6-3.9 6-3.3 17-7.2 15-5.4 10-3.2 8-2 8-1.4z"/>
<path fill="#ffd6d6" d="M279 1093.3l13.6-0.8 12 0.3 10 1.2 8 2.1 7 3.4 6 4.5 5 5.5 5 7.4 4.6 8.4 5 14 4.6 17 3.4 17 2.3 18 1.1 17 0 16-1.3 15-1.7 9.3-2.3 8.6-3.1 8-3.6 7.1-4.8 6.9-5.2 5.8-6 5.1-7 4.6-8 4.1-9 3.4-10 2.6-10 1.8-12 1.1-11 0.3-11-0.5-11-1.3-14-2.8-12-3.8-12-5.2-10.5-6.2-10.5-8.1-4.9-4.9-4.3-5-7.5-11-3.2-6-3.1-7-8 0 0-81.2 8 0 3.3-7.7 3.7-7 4.4-7 4.4-6 5.2-5.8 5-4.7 5.6-4.5 6.4-4.2 7-3.8 9-4.2 15-6.2 11-4 15-4.1z"/>
<path fill="#ffd4d4" d="M286 1094.3l13.6-0.5 11 0.6 9 1.5 8 2.9 6 3.8 6 5.8 5 7 5.6 9.9 5 14 3.8 14 3.1 15 2.2 16 1.3 16 0.3 15-0.9 14-1.9 13-2.5 9.5-3 8.1-3.7 7.3-4.3 6.4-5 5.7-6 5.3-7 4.8-7 3.8-9 3.6-9 2.5-10 1.9-11 1.2-11 0.5-10-0.4-11-1.1-11-2-9-2.3-9-3.1-9-4.1-8-4.5-7.4-5.2-6.6-5.5-6-6.3-4.8-6.2-5-8-4.4-8.9-3.2-9-2.6-10-8 0 0-43.1 8 0 2.2-8.9 3.1-9 3.9-9 4.5-8 4.8-7 6-7 5.5-5.2 7-5.4 8-5 9-4.7 16.7-7.7 11.3-4.5 8-2.5 9-2.2 9-1.6z"/>
<path fill="#ffd2d2" d="M291.8 1095.3l11.8-0.3 10 0.6 8 1.5 7 2.7 6 4 5 4.8 5 6.8 5.6 9.9 4.9 14 3.8 14 2.9 15 2 15 1.1 15 0.1 15-1 14-2 12-2.4 8.8-2.7 7.1-3.3 6.7-4.1 6.3-4.9 5.9-6 5.5-6 4.3-7 3.9-8 3.5-9 2.8-9 1.8-11 1.5-10 0.5-10-0.1-10-0.9-11-1.7-10-2.4-9-3-9-4.1-8-4.5-8-5.5-7-6.1-5.9-6.4-5.2-7-4.6-7.9-3.6-8-3-9-2.2-10-1.2-10-0.3-10 0.8-10 1.6-10 2.4-9 2.9-8 3.6-8 4-7 4.7-6.6 5-5.9 5.8-5.5 6.2-4.9 8-5.2 10.6-5.9 15.4-7.5 10.8-4.5 9.2-2.9 10-2.4 10-1.6z"/>
<path fill="#ffd0d0" d="M296.1 1096.3l10.5-0.2 9 0.6 7 1.3 7 2.8 6 4.1 5 5 4 5.6 5.6 9.8 4.9 14 3.2 12 3 15 2.2 17 0.9 15-0.2 15-1.3 13-2.3 11.9-2.5 8.1-2.8 6.9-3.7 6.8-4.5 6.2-4.5 5-6 5.2-7 4.7-7 3.6-8 3.1-8 2.3-10 1.8-10 1.1-10 0.3-9-0.3-10-1-10-1.9-9-2.3-9-3.2-9-4.3-8-4.8-7-5.3-7-6.4-5.6-6.6-4.8-6.9-4.3-8-3.2-8-2.6-9-1.7-9-0.8-9 0-10 1.1-10 1.8-9 2.3-8 3.1-8 3.5-7 4.3-7 4.6-6 5.3-5.7 5.9-5.3 6.1-4.6 10.1-6.4 12.7-7 10-5 9.2-3.8 9-2.9 10-2.4 11-1.8z"/>
<path fill="#ffcece" d="M298.9 1097.3l9.7-0.2 9 0.6 7 1.5 6 2.6 5 3.3 5 5 4 5.4 5.6 9.8 4.9 14 3.2 12 2.8 15 1.9 16 0.8 15-0.3 14-1.4 13-2.5 11.6-2.7 8.4-3.2 6.9-3.4 6-4.5 6-5.2 5.5-5 4.1-6 4-7 3.7-8 3.1-8 2.2-10 1.8-10 1-10 0.3-9-0.4-9-1-10-2-9-2.5-9-3.4-8-4-7-4.4-7-5.3-6-5.7-6-6.9-4.7-7-4.2-8-3.1-8-2.2-8-1.6-9-0.6-9 0.2-10 1.1-9 2-9 2.6-8 2.9-7 3.8-7 3.9-6 4.9-6 5-5.2 6-5.2 7-5.1 10.1-6.5 11.9-6.8 9-4.6 8-3.3 9-3 10-2.4 10-1.7z"/>
<path fill="#ffcccc" d="M300.3 1098.3l10.3-0.3 8 0.5 6 1.3 6 2.4 5 3.2 5 4.8 4 5.4 5.6 9.7 4.8 14 3.2 12 2.7 15 1.6 14 0.7 14-0.3 14-1.5 13-2.3 11-2.5 7.6-3 7-4 6.9-4 5.4-5 5.3-5 4.2-6 4.1-7 3.7-8 3.1-8 2.2-9 1.7-10 1-10 0.2-9-0.4-9-1.1-9-1.9-9-2.5-8-3.1-8-4-7-4.4-6.5-5.1-6.3-6-5.2-6.1-4.7-6.8-3.7-7-3.2-8-2.2-8-1.6-9-0.6-9 0.3-9 1.2-9 1.8-8 2.6-8 3.1-7 3.9-7 4.1-6 5-5.9 5.1-5.1 5.9-5 8.2-6 10.7-7 8.4-5 8.7-4.4 8-3.3 9-3 9-2.3 10-1.8z"/>
<path fill="#ffcaca" d="M300.9 1099.3l9.7-0.5 8 0.4 7 1.4 6 2.5 5 3.4 5 5.1 4 5.6 4.6 8.1 4.8 14 3.1 12 2.3 13 1.6 14 0.7 14-0.4 13-1.3 12-2.2 11-2.2 7-3 7.2-3.7 6.8-4.3 5.9-5 5.4-5 4.3-6 4.1-6 3.2-7 3-8 2.4-8 1.6-9 1.1-10 0.4-9-0.2-9-0.9-9-1.7-9-2.5-8-2.9-7-3.3-7-4.2-7-5.2-6-5.6-5.3-5.9-4.7-6.8-4-7.2-2.9-7-2.4-8-1.6-8-0.7-8 0.1-9 0.9-8 1.6-8 2.5-8 2.9-7 3.8-7 4.1-6 4.9-6 5.8-5.9 5.9-5.1 7.8-6 10.2-7 8.2-5 7.9-4.1 8-3.5 8-2.7 9-2.4 10-2z"/>
<path fill="#ffc8c8" d="M301.1 1100.3l10.5-0.7 8 0.4 6 1.1 6 2.3 5 3.3 5 5 4 5.6 4.6 8 3.9 11 3.2 12 2.7 14 1.5 13 0.7 13-0.3 13-1.2 12-2.1 10.7-2.1 7.3-2.9 7.1-3 5.7-4 6-5 5.8-5 4.6-6 4.3-6 3.4-7 3-7 2.3-8 1.7-9 1.2-10 0.5-9-0.2-9-0.9-8.5-1.6-8.5-2.3-8-2.9-7-3.3-7-4.2-6-4.4-6.4-5.9-5.2-5.9-4.3-6-3.9-7-3-7-2.2-7-1.6-8-0.7-8 0-8 0.8-8 1.7-8 2.5-8 3-7 3.9-7 4.2-6 5-6 6-6 14.7-12 8.6-6 6.9-4.2 7-3.8 8-3.5 8-2.8 9-2.5 9-1.8z"/>
<path fill="#ffc6c6" d="M301 1101.3l10.6-0.9 8 0.2 6 1 6 2.1 5 3.2 5 4.9 4 5.5 4.6 8 3.9 11 2.9 11 2.4 12 1.6 13 0.7 13-0.1 12-1.1 12-1.9 10.2-2 7.2-2.9 7.6-3.1 6.2-3.8 5.8-4.2 5.1-5 4.8-5 3.9-6 3.7-7 3.3-7 2.4-8 1.9-8 1.2-9 0.6-9 0-9-0.7-8-1.3-8-2-8-2.6-7-3.1-7-3.9-6.2-4.4-5.8-4.9-5.6-6-4.4-5.9-3.7-6.1-3.3-7-2.4-7-1.6-7-1-7-0.2-8 0.5-8 1.4-8 2.3-8 2.9-7 3.7-7 4-6 4.8-6 5.7-6 6.6-6 8.5-7 7.8-5.7 6.7-4.3 7.3-3.9 7-3.2 8-3 8-2.3 9-2z"/>
<path fill="#ffc4c4" d="M309.5 1101.3l8.1-0.2 6 0.5 5 1.3 5 2.2 5 3.7 4 4.3 3 4.3 4.6 7.9 3.8 11 3.2 12 2.3 13 1.5 14 0.3 13-0.6 13-1.7 12-2.6 10-2.5 7-2.9 6-3.4 5.5-4 5.2-5 5.1-5 4.1-6 3.8-6 3-7 2.7-7 1.8-8 1.4-9 0.8-9 0.1-9-0.6-8-1.1-7.7-1.9-7.3-2.3-7-2.9-7-3.8-6-4-5.9-4.9-4.9-5-4.7-6-3.8-6-3-6-2.7-7.2-1.8-6.8-1.1-8-0.3-7 0.5-8 1.1-7 1.9-7 2.7-7 3.5-7 3.8-6 4.5-6 5.4-6 7.2-7 8.2-7 8-6 6.4-4.1 6.9-3.9 7.1-3.3 7-2.6 8-2.5 9-2.1 9-1.6z"/>
<path fill="#ffc2c2" d="M307.5 1102.3l8.1-0.6 7 0.3 6 1.3 5 2.1 5 3.6 4 4.2 3 4.2 4.6 7.9 3.8 11 3.1 12 2.1 12 1.3 12 0.5 13-0.5 12-1.4 11-2.3 10-2.2 6.7-3 6.8-3 5.3-4 5.6-4 4.5-5 4.4-6 4.2-6 3.3-6 2.5-7 2.1-7 1.5-8 1-9 0.4-8-0.3-8-0.8-8-1.5-8-2.3-7-2.7-6-2.9-6.4-3.9-5.6-4.2-5.1-4.7-4.4-5-4.3-6-3.4-6-2.8-6.4-2.1-6.6-1.4-7-0.7-7 0.1-8 0.8-7 1.5-7 2.4-7 2.6-6 4-7 4.1-6 5-6 6.6-7 7.5-7 7.4-6 6.2-4.4 7-4.2 6.6-3.4 7.1-3 15.3-4.7 9-1.9z"/>
<path fill="#ffc0c0" d="M317.9 1102.3l6.7 0.5 5 1.2 5 2.3 5 3.8 5 5.8 5.6 9.4 3.8 11 3 12 2 11 1.2 12 0.4 11-0.3 11-1.3 11-1.8 9-2.8 9-2.8 6.4-3 5.4-4 5.7-4 4.5-5 4.5-5 3.5-6 3.4-6 2.6-7 2.2-7 1.5-8 1-8 0.4-8-0.2-8-0.8-8-1.5-7-2-7-2.6-6.4-3.1-5.6-3.3-6-4.5-5-4.6-4.8-5.5-3.5-5-3.4-6-2.6-6-2.2-7-1.4-7-0.6-7 0.2-7 0.9-7 1.6-7 2-6 3.2-7 3.4-6 4.2-6 4.8-6 6.4-7 6.3-6 7.2-6 6.9-5 6.6-4 6.8-3.4 7-3 7.5-2.6 8.5-2.3 10-2.1 8-1.1z"/>
<path fill="#ffbebe" d="M312.1 1103.3l6.5-0.4 6 0.3 5 1.1 5 2.2 4 2.8 4 4.1 3 4.1 4.6 7.8 4.1 12 2.7 11 1.9 12 1.1 11 0.3 12-0.7 11.9-1.6 11.1-2.4 9.3-2.4 6.7-2.6 5.4-3 5.1-4 5.4-4 4.3-5 4.3-5 3.4-6 3.3-6 2.4-7 2.1-7 1.3-7 0.8-9 0.3-8-0.4-8-1-7-1.5-7-2.2-6-2.4-6-3-6-3.8-5-3.9-5.1-4.9-4.1-5-3.8-5.7-2.9-5.3-2.4-6-1.8-6-1.2-7-0.5-7 0.3-7 1-7 1.5-6 2.6-7 2.8-6 4.2-7 4.2-6 5.8-7 5.7-6 6.4-6 6.2-5 6.1-4.2 6.4-3.8 6.6-3.3 7-2.9 8-2.6 8-2.2 8-1.7z"/>
<path fill="#ffbcbc" d="M309.9 1104.3l7.7-0.8 7 0.2 5 1 5 2.1 4 2.7 4 4 3 4 4.6 7.8 3.8 11 2.3 9 2 11 1.3 12 0.4 11-0.4 11-1.2 10-2.2 10-2.2 7-2.4 5.7-3 5.6-4 5.7-4 4.6-5 4.5-5 3.6-5 2.9-6 2.7-6 1.9-7 1.6-7 1-8 0.4-8-0.2-8-0.8-6.9-1.3-7.1-1.9-6-2.3-6-2.8-6-3.6-5-3.8-5-4.5-4.4-5-3.5-5-3.3-6-2.5-6-1.8-6-1.2-6-0.5-6 0.1-7 0.8-7 1.4-6 2.4-7 2.7-6 3.3-6 4-6 5.4-7 5.3-6 6.1-6 5.9-5 11.6-8 6.2-3.3 7-3.1 15-5.1z"/>
<path fill="#ffbaba" d="M315.1 1104.3l6.5-0.3 6 0.6 5 1.5 4 2.1 4 3.2 4 4.7 5.6 9.2 1.1 3 2.9 9 2.8 12 1.7 11 0.8 11 0.1 11-0.7 10-1.5 10-2.3 9-2.5 6.8-2.5 5.2-2.9 5-3.7 5-3.9 4.1-5 4.3-5 3.5-6 3.2-6 2.4-6 1.7-7 1.3-7 0.8-7 0.1-8-0.3-7-0.9-7-1.4-7-2.1-6-2.5-6-3.1-5-3.3-5-4-4.9-4.8-4-5-3.1-4.8-3.1-6.2-2.2-6-1.5-6-0.9-6-0.2-6 0.5-7 1-6 1.6-6 2.2-6 2.9-6 4.1-7 4.1-6 4.8-6 5.5-6 6.4-6 5.8-4.6 6-4.2 6-3.5 13-5.8 16-5 8-1.7z"/>
<path fill="#ffb8b8" d="M312.4 1105.3l6.2-0.7 6 0 5 0.8 5 1.8 4 2.6 4 3.8 3 4 4.6 7.7 3.7 11 2.3 9 1.9 11 1 10 0.3 11-0.5 11-1.3 9.7-2 8.8-2 6.2-2.7 6.3-2.7 5-3.6 5.2-4 4.6-4 3.7-5 3.7-5 3-6 2.8-6 2-6 1.4-7 1-7 0.4-8-0.2-7-0.6-7-1.3-6-1.5-6-2.2-6-2.8-5.5-3.2-5.4-4-4.1-3.8-3.9-4.2-3.6-5-2.9-5-2.6-6-1.9-6-1.2-6-0.5-6 0.1-6 0.8-7 1.4-6 1.9-6 2.6-6 3.2-6 4.4-7 4.5-6 5.2-6 4.9-5 5.7-5 5.3-4 6.2-4 12.4-6.1 15-5.3z"/>
<path fill="#ffb6b6" d="M316.8 1105.3l6.8-0.3 5 0.5 5 1.5 4 2.2 4 3.4 3 3.6 5.6 9.1 1.1 3 2.9 9 2.7 12 1.4 10 0.7 10 0.1 10-0.7 10-1.6 10-2.2 8.3-2.1 5.7-2.9 6.2-3 4.9-3.7 4.9-4.3 4.5-4 3.4-5 3.4-5 2.6-6 2.5-6 1.8-6 1.1-7 0.8-7 0.2-7-0.4-7-0.8-7-1.5-6-1.8-6-2.5-6-3.2-4.8-3.1-4.8-4-4-4-3.4-4.3-3.1-4.7-2.6-5-2.2-6-1.6-6-0.8-6-0.3-6 0.4-6 1-6 1.6-6 2.2-6 2.8-6 3.4-6 3.9-6 9.1-11 5.1-5 6.1-5.1 11-7.3 13-6.2 16-5.3 8-1.9z"/>
<path fill="#ffb4b4" d="M314 1106.3l6.6-0.8 6 0.1 5 0.9 4 1.7 4 2.7 4 4.1 3 4.2 3.6 6.1 3.1 9 2.6 10 1.5 9 1.1 10 0.4 11-0.4 10-1.1 9-2 9-1.8 5.9-2.5 6.1-3.2 6-3.3 4.8-4 4.6-4 3.7-4 3.1-5 3.1-5 2.4-6 2.1-6 1.5-6 1-7 0.5-7-0.1-7-0.6-7.2-1.1-5.8-1.5-6-2.1-6-2.8-5-3-5-3.6-4.3-4-3.7-4.2-3.4-4.8-2.8-5-2.5-6-1.4-5-1.1-6-0.4-5 0.1-6 0.7-6 1.4-6 1.9-6 2.5-6 3-6 3.7-6 8.6-11 4.8-5 5.5-5 5.3-4 6.1-4 11.8-6 15.2-5.5z"/>
<path fill="#ffb1b1" d="M317.5 1106.3l6.1-0.5 5 0.4 5 1.3 4 2.1 4 3.2 4 4.9 4.6 7.6 1.1 3 2.8 9 2.1 9 1.5 10 0.8 10 0.1 10-0.6 9-1.4 9.5-2 8-2 5.8-2.5 5.7-2.9 5-3.6 5-4 4.4-4 3.5-4 2.9-5 2.9-5 2.3-6 2-6 1.3-6 0.8-7 0.4-7-0.3-7-0.7-6-1.1-6-1.7-6-2.3-5-2.5-5-3.1-4.9-3.8-4.1-4-3.4-4-3.3-5-2.6-5-2.2-6-1.3-5-0.8-6-0.2-5 0.3-6 0.9-6 1.6-6 2.1-6 2.7-6 6.6-11 4.5-6 4.4-5 9.8-9 10.3-7 12.6-6.2 15-5.3 8-2.2z"/>
<path fill="#ffafaf" d="M322 1106.3l5.6 0.1 5 1 4 1.7 4 2.9 4 4.4 3 4.5 2.5 4.4 2.9 8 2.1 8 1.9 10 1.1 10 0.3 10-0.3 9-1 9-1.6 8-2.4 8-4.7 10-2.8 4.4-4 4.9-4 4-4 3.2-5 3.1-5 2.5-5 1.9-6 1.7-6 1-6 0.4-7 0.1-7-0.6-7-1.1-6-1.5-6-2.2-5-2.3-5-3-4-2.9-4.1-3.6-3.9-4.4-3.3-4.6-2.7-4.9-2.2-5.1-1.4-5-1-5-0.5-6 0-5 0.7-6 1.2-6 1.9-6 2.4-6 3.1-6 7.2-11 8.9-10 9.6-8 11.1-6.8 13-5.8 16-5.2 7-1.5z"/>
<path fill="#ffadad" d="M317.8 1107.3l5.8-0.6 5 0.1 4 0.9 4 1.6 4 2.8 3 3.1 3 4.1 3.5 6 3.2 9 2 8 1.8 10 0.9 10 0.2 10-0.5 9-1.2 9-1.9 8.2-4 10.7-3 5.6-3 4.4-4 4.7-4 3.7-4 3-5 3-5 2.3-5 1.8-6 1.4-6 0.9-6 0.3-7-0.1-7-0.8-6-1.1-6-1.6-5-1.9-5-2.4-5-3.1-4-3.1-4.1-3.9-3.4-4-3.4-5-2.5-5-1.9-5-1.3-5-0.7-5-0.3-5 0.2-6 0.9-6 1.5-6 4.2-11 6.3-11 8-10 9.6-9 10-7 11.9-6 15-5.6z"/>
<path fill="#ffabab" d="M321 1107.3l4.6-0.3 5 0.4 4 1.2 4 2.1 4 3.4 3 3.7 4.5 7.5 1.2 3 2.8 9 2 9 1.2 9 0.7 10-0.1 9-0.7 9-1.6 9-2 7.5-2.1 5.5-2.9 6-3 4.7-3 3.9-4 4.1-4 3.3-4 2.8-5 2.7-5 2-6 1.8-11 1.5-6 0.1-7-0.4-12-2.2-6-1.9-5-2.1-8.7-5.3-4.3-3.6-3.3-3.4-3.1-4-3.1-5-2.3-5-1.6-5-1.1-5-0.6-6-0.1-5 0.6-6 2.7-11 4.6-11 6.2-10 8.4-10 9-8 10.7-7 12.4-6 14.6-5.2z"/>
<path fill="#ffa9a9" d="M317.8 1108.3l5.8-0.8 5 0 4 0.7 4 1.5 4 2.7 3 2.9 3 4.1 3.5 5.9 3.1 9 1.8 7 1.8 10 0.8 8 0.2 10-0.4 9-1 8-1.8 8.2-4 11.1-3 5.7-2.7 4-3.3 4-4 3.9-8 5.7-5 2.5-5 1.9-5 1.4-6 1-12 0.5-7-0.7-6-1-6-1.5-5-1.8-5-2.3-4.4-2.6-4.6-3.5-3.8-3.5-3.4-4-2.7-4-2.2-4-2.1-5-1.4-5-0.9-5-0.4-5 0.2-6 0.6-5 1.3-6 4-11 5.5-10 7.6-10 8.7-8.4 10-7.2 11-5.9 14-5.7z"/>
<path fill="#ffa7a7" d="M320.3 1108.3l5.3-0.6 4 0.2 4 0.8 4 1.7 4 2.9 3 3.3 5.5 8.7 3.1 9 1.8 7 1.4 8 1 10 0.3 9-0.5 9-1.2 9-1.9 8-2 6-2.1 5-5.4 8.7-3 3.7-4 3.9-4 3.1-5 3.1-5 2.3-5 1.8-10 2-6 0.4-6-0.1-12-1.7-6-1.6-5-1.8-5-2.4-4.1-2.4-4-3-3.9-3.7-3.6-4.3-2.6-4-2.1-4-2-5-1.3-5-0.8-5-0.3-5 0.3-6 0.9-6 1.3-5 4.3-11 5.8-10 7.1-9 8.5-8 10-7 11.5-6 14-5.5z"/>
<path fill="#ffa5a5" d="M323 1108.3l4.6-0.3 5 0.6 4 1.4 3 1.8 3 2.6 3 3.5 4.5 7.4 1.2 3 2.7 9 1.4 6 1.4 10 0.6 9 0 9-0.7 8-1.3 8-2.1 8-4.2 10-5.5 8.5-3 3.3-4 3.7-4 3-5 2.9-5 2.2-5 1.6-10 1.7-6 0.2-6-0.3-12-2-10-3.4-4.7-2.4-4.3-2.8-7-6.4-3.1-3.8-2.9-4.7-2.1-4.3-1.7-5-1.1-5-0.6-5 0.4-10 0.8-5 1.6-6 4-10 6-10 7.4-9 8.9-8 10.5-7 12-6 13.9-5.2 6-1.7z"/>
<path fill="#ffa3a3" d="M319.8 1109.3l4.8-0.8 5-0.1 4 0.7 4 1.6 4 2.8 3 3.1 5.5 8.7 3.1 9 1.7 7 1.4 8 0.8 8 0.2 9-0.3 8-1 8-1.7 8-3.7 10.5-5 8.8-3 3.9-4 4.1-4 3.2-4 2.7-5 2.5-5 1.9-10 2.2-11 0.4-12-1.5-10-3-5-2.2-4.3-2.5-4.1-3-3.6-3.3-3.2-3.7-2.8-4-2.1-4-2-5-2.1-9-0.2-10 0.8-6 1.1-5 3.6-10 5.5-10 6.9-9 7.5-7.3 10-7.3 11-6.1 13-5.5z"/>
<path fill="#ffa1a1" d="M321.8 1109.3l4.8-0.6 4 0.1 4 0.8 3 1.2 4 2.8 3 3.1 5.5 8.6 3.1 9 1.7 7 1.3 8 0.8 9 0.2 9-0.6 8.4-1.1 7.6-1.9 7.8-4 10.3-5 8.1-3 3.6-4 3.9-4 3.1-4 2.4-9 3.9-10 2.1-11 0.2-6-0.6-6-1.1-10-3.2-5-2.4-4-2.5-7-6.1-2.9-3.5-2.7-4-2-4-1.9-5-1.8-9 0-10 0.7-5 1.5-6 3.8-10 5.2-9 6.3-8 8.3-8 9.8-7 11-6 13.7-5.7z"/>
<path fill="#ff9f9f" d="M324 1109.3l4.6-0.3 4 0.3 4 1.2 3 1.7 3 2.4 3 3.4 4.5 7.3 1.2 3 1.9 6 2 9 1.2 8 0.6 9-0.1 8-0.6 8-1.4 8-1.8 7-4.2 10-5.3 8.1-3 3.4-4 3.6-8 5.2-9 3.5-10 1.8-11 0-11-1.9-10-3.4-8-4.6-3.4-2.7-3.6-3.6-5.2-7.4-2-4-1.7-5-1.6-9 0.2-10 0.9-5 1.6-6 4.2-10 5.5-9 6.7-8 7.7-7 10.3-7 11.5-6 12.9-5.2z"/>
<path fill="#ff9d9d" d="M327 1109.3l3.6 0 4 0.7 4 1.7 3 2.1 3 3 3 4.2 2.5 4.3 2.2 6 1.9 7 1.6 9 1.1 15-0.3 8-0.7 7-1.3 7-2 7-4 9.2-3 4.9-3 3.9-3 3.1-4 3.4-8 4.9-9 3.2-10 1.5-11-0.3-10-2-5-1.6-5-2.1-8-5-6.3-6.1-2.9-4-2.3-4-1.7-4-1.4-5-1.2-9 0.7-10 2.6-10 3.9-9 5.7-9 7-8 8.1-7 10.7-7 13.1-6.5 12-4.5 5-1.3z"/>
<path fill="#ff9b9b" d="M322.6 1110.3l5-0.7 4 0 4 0.9 3 1.3 3 2 3 3 5.5 8.5 2.2 6 1.9 7 1.6 9 0.8 8 0.2 8-0.4 8-1.1 8-1.7 7.4-2 6-2 4.6-5 8.2-6 6.5-4 3.2-4 2.6-4 2-5 1.8-9 1.9-10 0.3-11.1-1.5-9.9-3.2-8-4.3-6.7-5.5-5.4-7-3.7-8-2-9-0.1-9 1.7-10 3.2-9 4.8-9 6-8 7.2-7.1 9-6.9 11-6.4 13-6z"/>
<path fill="#ff9999" d="M324.4 1110.3l5.2-0.5 4 0.4 4 1.2 3 1.8 3 2.6 3 3.7 3.5 5.8 1.2 3 1.8 6 1.8 8 1.2 8 0.5 7 0 8-0.6 7-1 7-1.7 7-3.7 9.7-5 8.2-6 6.6-4 3.2-4 2.5-4 1.9-5 1.9-9 1.8-10 0.2-10-1.5-10-3.3-7.8-4.2-6.2-5.2-5.4-6.8-3.7-8-2-9-0.1-9 1.8-10 3.3-9 5-9 6.3-8 7.3-7 9.5-7 11-6.3 12.7-5.7z"/>
<path fill="#ff9696" d="M326.4 1110.3l4.2-0.2 4 0.5 3 1 3 1.7 3 2.5 3 3.7 3.5 5.8 1.2 3 1.8 6 2 9 0.9 7 0.5 8-0.1 8-0.7 7-1.2 7-1.9 7-4 9.5-5 7.5-6 6.1-4 3-4 2.3-4 1.8-5 1.7-9 1.5-10-0.1-10-1.8-9-3.3-8-4.7-6-5.5-4.9-7-3.2-8-1.5-9 0.3-9 2-9 3.6-9 4.7-8 6.5-8 7.6-7 9.9-7 12-6.6 12-5.1z"/>
<path fill="#ff8f8f" d="M324.4 1111.3l4.2-0.7 4 0 4 0.9 3 1.3 3 2.2 2 2 5.5 8.3 2.1 6 1.9 7 1.2 7 0.8 8 0.2 8-0.4 7-1 7-1.5 7-3.2 9-4.6 8.1-6 6.9-7 5.3-8 3.8-9 2.2-10 0.4-10-1.5-9-3-7.9-4.2-6.1-5.1-5-6.5-3.5-7.4-1.7-8-0.2-9 1.6-9 3.3-9 4.5-8 5.4-7 7-7 9.2-7 9.9-6 11.5-5.6z"/>
<path fill="#ff8585" d="M326.6 1112.3l4-0.6 4 0.1 3 0.7 3 1.4 3 2.3 2 2.2 4.5 6.9 2.1 6 1.8 7 1.5 12 0.3 7-0.4 7-0.8 6.6-1.4 6.4-3.1 9-4.5 8.1-5 5.8-7 5.5-8 3.7-8 1.9-8 0.3-9.1-1.3-7.9-2.6-7-3.7-6-4.7-5-6.2-3.3-6.8-1.8-8 0-8 1.4-8 3-8 3.9-7 5.3-7 7-7 8.9-7 9.5-6 10.1-5.2z"/>
<path fill="#ff7a7a" d="M327.9 1113.3l3.7-0.6 3-0.1 3 0.5 3 1.3 3 2.1 2 2 4.5 6.8 3.1 10 1.2 6 0.7 7-0.1 13-0.7 6-1.2 6-2.7 8-3.8 7.3-5 6.3-6 4.9-7 3.7-8 2.1-8 0.4-8-1.2-7-2.3-7-3.7-5.5-4.5-4.5-5.6-3-6.3-1.5-6.1-0.3-7 1.3-8 2.4-7 3.8-7 5.2-7 5.7-6 8.3-7 8.7-6 9.4-5.2z"/>
<path fill="#ff7070" d="M328.6 1114.3l6-0.9 3 0.3 3 1.1 3 1.9 2 2 4.5 6.6 3.1 10 1.5 11 0.1 11-1.5 11-2.4 8-3.3 6.9-5 6.8-5 4.5-6 3.5-7 2.3-8 0.8-7.5-0.8-6.5-2-6-3-5.2-4-4.4-5-3.3-6-1.6-6-0.5-6 0.8-7 1.8-6 3.4-7 4.7-7 5.3-6 7.7-7 8-6 8.2-5z"/>
<path fill="#ff6666" d="M332.9 1114.3l2.7-0.2 3 0.4 3 1.2 2 1.3 4 4.4 2.5 3.9 1.1 3 2.6 11 0.8 9-0.4 10-1.8 10-2.4 7-3.4 6.3-5 6.2-5 3.9-6 3-7 1.8-6 0.3-7-1.1-6-2.2-5.5-3.2-4.6-4-3.8-5-2.3-5-1.4-6-0.1-6 1.3-7 2.7-7 3.4-6 4.4-6 6.7-7 6.9-6 8.5-6 6.8-3.5z"/>
<path fill="#ff5c5c" d="M332.1 1115.3l2.5-0.4 3-0.1 3 0.8 2 0.9 4 3.6 3.4 5.2 1.2 3 1.8 7 1.1 8 0.1 10-1.3 10-2.3 7.6-3 6.3-4 5.5-4 3.8-6 3.7-6 2-6 0.7-7-0.7-5.9-1.9-5.1-2.8-4.9-4.2-3.1-4-2.5-5-1.3-5-0.3-6 0.9-6 1.9-6 3-6 4.1-6 5.1-6 6.2-6 7.5-6 6.4-3.9z"/>
<path fill="#ff5252" d="M331.5 1116.3l3.1-0.8 3-0.1 3 0.5 2 0.9 4 3.4 3.4 5.1 2.3 7 1.5 9 0.3 9-0.8 8-1.7 7.2-2.7 6.8-3.3 5.4-4 4.5-5 3.6-5 2.3-6 1.2-5.9 0-6.1-1.4-5-2.4-4.4-3.2-3.6-3.9-2.5-4.1-1.8-5-0.7-5 0.4-6 1.5-6 2.5-6 3.7-6 4.6-6 5.7-6 7-6 5.6-3.7z"/>
<path fill="#ff4747" d="M334 1116.3l4.6-0.4 4 1.1 4 3.3 3.4 5 2.3 7 1.4 9 0.1 9-1 8-1.9 7-2.3 5.4-3 4.8-4 4.3-5 3.5-5 2.1-5 0.9-6-0.2-5-1.3-5-2.5-4-3.2-3.2-3.8-2.2-4-1.5-5-0.4-5 0.6-6 1.4-5 2.7-6 3.7-6 4.7-6 5.8-6 6-5 5.4-3.3z"/>
<path fill="#ff3d3d" d="M337.6 1116.3l4 0.6 2 0.9 2 1.6 2 2.2 2.4 3.7 1.2 3 1.8 8 0.7 8-0.4 8-1.2 7-2 6-2.5 5.2-3 4.2-4 3.8-4 2.5-5 1.9-5 0.7-6-0.6-5-1.8-4-2.5-3.6-3.4-2.7-4-1.7-4-1-5 0-5 0.9-5 2.1-6 3.1-6 4.1-6 5.2-6 5.3-5 5.3-3.8 5-2.4z"/>
<path fill="#ff3333" d="M334.9 1117.3l4.7-0.5 4 1.2 3 2.5 3.4 4.8 2.2 7 1.1 7 0.2 8-0.8 7-1.4 6-2.4 6-3.3 5.3-3 3.3-4 3-5 2.2-5 0.9-5-0.3-4-1.1-4-2-4-3.2-2.5-3.1-2.1-4-1.2-4-0.4-5 0.4-5 1.3-5 2.1-5 2.7-5 4.3-6 4.4-5 5.4-5 4.6-3.1z"/>
<path fill="#ff2929" d="M337 1117.3l3.6-0.1 4 1.6 3 2.9 2.8 4.6 1.8 6 1 7 0.1 8-0.9 7-1.7 6-2.1 4.9-3 4.7-3 3.2-4 2.9-4 1.8-5 0.9-5-0.4-4-1.2-4-2.2-3-2.7-2.9-3.9-1.7-4-0.9-4-0.2-4 0.6-5 1.4-5 2.7-6 3.7-6 3.9-5 3.7-4 4.7-4 4-2.4z"/>
<path fill="#ff1f1f" d="M335.2 1118.3l4.4-0.8 4 0.9 3 2.2 3.4 4.7 1.9 6 1.1 6 0.2 6-0.3 6-1.1 6-1.6 5-2.6 5.2-3 4.1-3 2.8-4 2.4-4 1.3-5 0.5-4-0.6-4-1.6-3.1-2.1-2.9-3-2-3-1.5-4-0.8-4 0-5 0.9-5 1.7-5 3-6 3.3-5 4-5 4.1-4 4-3z"/>
<path fill="#ff1414" d="M336.6 1118.3l4-0.5 3 0.8 3 2.1 3.4 4.6 1.9 6 1 6 0.2 6-0.5 6-1.2 6-1.8 5-2 3.9-3 3.9-3 2.8-4 2.3-4 1.2-5 0.2-4-0.9-3-1.4-3-2.2-2.5-2.8-1.8-3-1.4-4-0.6-4 0.2-5 1-5 1.8-5 2.6-5 3.3-5 3.2-4 4.2-4.1 4-3z"/>
<path fill="#ff0a0a" d="M338.2 1118.3l3.4-0.1 2 0.5 2 1.2 2 1.9 2.8 4.5 1.7 6 0.7 5 0.2 6-0.6 6-1.1 5-1.7 4.8-2 3.8-3 3.9-3 2.7-4 2.2-4 1-4 0.1-4-1-3-1.4-3-2.4-2.2-2.7-1.6-3-1.3-4-0.4-4 0.3-5 0.9-4 1.8-5 2.6-5 3.3-5 3.3-4 4.3-4 4-2.6z"/>
<path fill="#ff0000" d="M336.3 1119.3l3.3-0.9 4 0.5 3 1.9 2 2.5 1.8 3 1.7 6 0.7 6 0 5-0.6 6-1.2 5-2 5-2.4 3.9-3 3.4-3 2.2-3 1.5-4 0.9-4-0.2-3-0.8-3-1.5-3-2.6-2.1-2.8-1.8-4-0.8-4-0.1-4 0.5-4 1.3-5 1.7-4 2.7-5 3.5-5 3.7-4 3.6-3z"/>
<path fill="#fa0000" d="M337.4 1119.3l4.2-0.7 3 0.9 3 2.4 2.3 3.4 1.2 3 1.1 5 0.6 6-0.2 5-0.7 5-1.3 5-2 4.7-2 3.1-3 3.3-3 2.2-3 1.3-4 0.8-4-0.4-3-1-3-1.9-2.1-2.1-2.1-3-1.2-3-0.8-4-0.1-4 0.7-5 1.2-4 2.1-5 2.9-5 3-4 3.9-4 3.5-2.6z"/>
<path fill="#f50000" d="M338.4 1119.3l3.2-0.4 3 0.7 3 2.4 2.3 3.3 1.2 3 1.1 5 0.5 6-0.2 5-0.8 5-1.1 4-2 4.7-2 3.1-3 3.3-3 2-3 1.3-4 0.6-3-0.3-3-1.1-3-1.9-2.6-2.7-1.7-3-1-3-0.7-4 0.1-4 0.7-4 1.6-5 2.3-5 2.5-4 3.1-4 2.9-3 3.8-2.7z"/>
<path fill="#f00000" d="M339.5 1119.3l3.1-0.1 3 1.1 2 1.7 2.8 4.3 1 3 1 6 0.2 5-0.4 5-1 5-1.3 4-2.3 4.4-2 2.7-3 2.7-3 1.7-3 0.9-3 0.2-3-0.4-3-1.3-2.6-1.9-2.4-2.9-1.5-3.1-0.9-3-0.4-4 0.3-4 0.8-4 1.4-4 1.9-4 3-5 3.3-4 3.2-3 2.9-1.8z"/>
<path fill="#eb0000" d="M341.2 1119.3l2.4 0.2 3 1.6 2 2.3 1.8 2.9 1 3 1 6 0.1 6-0.6 5-1.2 5-1.7 4-2.4 4-2 2.2-3 2.3-3 1.3-3 0.6-3-0.2-3-0.9-2.3-1.3-2.2-2-2-3-1.3-3-0.6-3-0.2-4 0.5-4 1.3-5 1.7-4 2.2-4 2.8-4 2.6-3 3.5-2.8 3-1.6z"/>
<path fill="#e50000" d="M338.3 1120.3l2.3-0.7 3 0.1 3 1.5 2 2.2 1.8 2.9 1 3 0.8 5 0.2 6-0.5 5-0.9 4-1.4 4-2 3.8-2 2.6-3 2.6-3 1.5-3 0.7-3 0-3-0.9-2.3-1.3-2.3-2-2-3-1.2-3-0.6-3-0.1-4 0.5-4 1-4 3.7-8 2.8-4 2.6-3 2.9-2.4z"/>
<path fill="#e00000" d="M339 1120.3l2.6-0.6 3 0.4 2 1.2 2 2.1 1.8 2.9 1 3 0.8 5 0.1 6-0.5 5-1 4-1.2 3.3-2 3.7-2 2.6-3 2.5-3 1.5-3 0.6-3-0.2-2-0.6-2.6-1.4-2.4-2.3-1.7-2.7-1.2-3-0.6-3 0-4 1.3-7 1.5-4 2.1-4 2.7-4 2.6-3 3.3-2.7z"/>
<path fill="#db0000" d="M339.8 1120.3l2.8-0.5 3 0.8 2 1.6 2.2 3.1 1.3 3 0.9 5 0.2 8-0.8 5-1.2 4-1.6 3.6-2 3.1-2 2.1-3 2.1-2 0.8-3 0.5-3-0.3-2.3-0.9-2.7-1.9-1.8-2.1-2.3-5-0.5-3 0-4 0.6-4 1.2-4 3.4-7 4.6-6 2.8-2.3z"/>
<path fill="#d60000" d="M340.5 1120.3l3.1-0.2 2 0.6 2 1.6 2.2 3 1.3 3 0.8 4 0.3 8-1.6 8.3-3 6.3-2 2.5-3 2.4-2 1-3 0.7-3-0.2-2-0.6-2.4-1.4-2.1-2-1.3-2-1.3-3-0.6-3-0.1-4 0.5-4 1.1-4 1.7-4 2.2-4 2.2-3 2.9-3 2.8-2z"/>
<path fill="#d10000" d="M341.3 1120.3l2.3-0.1 3 1.2 2 2.1 1.8 2.8 0.9 3 0.7 4 0 8-0.7 4-1.2 4-1.5 3.4-2 2.9-2 2.1-3 1.9-3 0.9-2 0.1-3-0.6-2-1-2-1.6-1.6-2.1-2-5-0.4-3 0.1-4 0.7-4 1.4-4 3.7-7 2.4-3 2.7-2.6 2.1-1.4z"/>
<path fill="#cc0000" d="M342.5 1120.3l2.1 0.2 2 1 2 2 1.8 2.8 0.9 3 0.7 5-0.2 8-1.9 7-1.3 2.8-2 2.9-2 2-3 1.9-2 0.6-3 0.2-3-0.7-2-1.2-3.2-3.5-1.3-3-0.7-3 0.1-6 0.8-4 1.4-4 4-7 2.5-3 2.4-2 3-1.6z"/>
<path fill="#c70000" d="M339.7 1121.3l2.9-0.8 2 0.1 2 0.9 2 2 1.8 2.8 0.6 2 1.1 8-0.8 8-1.2 4-1.5 3.2-2 2.9-2 2-2 1.3-3 1.1-3 0.1-2-0.5-2-1-2-1.7-2.6-4.4-0.8-3-0.3-3 1-7 2.7-7 4.1-6 2.9-2.7z"/>
<path fill="#c20000" d="M340.2 1121.3l2.4-0.7 2 0.1 2 0.9 2 1.9 1.8 2.8 0.9 3 0.7 8-0.9 7-2.5 6.7-2 2.9-2 1.9-2 1.3-3 1-3 0-2-0.6-2.1-1.2-1.9-1.9-2.1-4.1-0.7-3-0.2-3 0.8-6 2.6-7 4.1-6 2.5-2.4z"/>
<path fill="#bd0000" d="M340.6 1121.3l2-0.5 2 0 2 0.8 2 1.9 1.8 2.8 0.9 3 0.7 8-1 7-2.4 6.2-2 2.8-2 2-2 1.2-3 0.9-4-0.4-2-1-2-1.7-1.4-2-1.3-3-0.7-6 0.9-6 2.9-7 1.9-3 2.5-3z"/>
<path fill="#b80000" d="M341.1 1121.3l3.5-0.4 2 0.8 2 1.8 1.8 2.8 0.9 3 0.7 7-0.9 7-2.5 6.7-2 2.8-2 1.9-4 1.9-3 0.1-2-0.5-2-1.1-1.9-1.8-2.1-4-0.7-3-0.1-3 1.1-7 2.5-6 1.8-3 2.6-3 2.4-2z"/>
<path fill="#b20000" d="M341.6 1121.3l2-0.4 2 0.4 3 2.3 1.8 2.7 0.9 3 0.6 7-0.9 7-2.4 6.3-2 2.8-2 1.8-4 1.8-4-0.2-2-0.9-2-1.7-1.4-1.9-1.2-3-0.7-6 1-6 3-7 3.8-5 2.5-2z"/>
<path fill="#ad0000" d="M342.1 1121.3l2.5-0.2 2 0.7 2 1.8 1.8 2.7 1 4 0.4 7-0.9 6-2.3 5.8-2 2.8-2 1.8-2 1.2-2 0.5-2 0.1-2-0.4-2-1.1-1.9-1.7-2.1-4-0.7-3-0.1-3 1.2-7 2.7-6 3.7-5 2.5-2z"/>
<path fill="#a80000" d="M342.6 1121.3l2-0.1 2 0.6 2 1.8 1.8 2.7 1 4 0.4 7-1 6-2.2 5.4-2 2.8-2 1.7-2 1.1-2 0.6-2 0-2-0.5-2-1.2-1.8-1.9-1.9-4-0.6-6 1.1-6 2.6-6 3.7-5 2.5-2z"/>
<path fill="#a30000" d="M343.2 1121.3l1.4 0 2 0.6 2 1.7 1.8 2.7 1 4 0.3 7-1.1 6.3-2.6 5.7-3.4 3.5-2 1.1-2 0.4-2 0-2-0.6-2-1.3-1.8-2.1-1-2-0.8-3-0.2-5 1.3-6 2.8-6 2.2-3 2-2 2.5-1.5z"/>
<path fill="#9e0000" d="M340.9 1122.3l2.7-0.9 2 0.1 2 1.1 1 1 1.7 2.7 0.7 2 0.7 6-0.4 6-1.7 5.7-3 4.7-2 1.7-2 1-2 0.4-2-0.1-2-0.7-2-1.4-2.2-3.3-1.2-5 0.4-6 2-6 1.5-3 2.2-3z"/>
<path fill="#990000" d="M341.2 1122.3l2.4-0.8 2 0.1 2 1 1 1 1.7 2.7 0.7 2 0.7 6-0.7 7-2.4 6.3-3 3.6-2 1.3-2 0.7-2 0.1-2-0.4-2-1.2-1.4-1.4-2-4-0.6-5 0.6-5 2.1-6 3.3-5z"/>
<path fill="#940000" d="M341.4 1122.3l2.2-0.7 2 0 2 1.1 1 1 1.7 2.6 0.9 3 0.4 4-0.3 6-1.7 6-3 4.6-3.5 2.4-3.5 0.5-2-0.5-2-1.3-2.5-3.7-1.1-5 0.3-5 1.8-6 2.9-5 1.8-2z"/>
<path fill="#8f0000" d="M341.7 1122.3l1.9-0.6 2 0 2 1 1 1 1.7 2.6 0.9 3 0.4 6-0.8 6-2.2 5.6-3 3.6-2 1.2-2 0.6-2 0-2-0.6-2.8-2.4-1.9-4-0.6-4 0.7-6 1.9-5 3.2-5z"/>
<path fill="#8a0000" d="M342 1122.3l1.6-0.5 2 0 2 0.9 1 1 1.7 2.6 0.6 2 0.7 6-0.6 6-1.7 5-2.7 3.9-2 1.6-2 0.9-2 0.2-2-0.3-3-2.1-2-3.3-0.9-4.9 0.4-5 2-6 3.2-5z"/>
<path fill="#850000" d="M342.3 1122.3l1.3-0.4 2-0.1 2 1 1 0.9 1.7 2.6 0.6 2 0.7 6-0.7 6-1.8 5-2.5 3.6-2 1.6-2.2 0.8-1.8 0.2-2-0.5-3-2.2-1.9-3.5-0.7-5 0.9-6 1.9-5 2.7-4z"/>
<path fill="#800000" d="M342.6 1122.3l3-0.4 2 0.9 1 0.9 1.7 2.6 0.6 2 0.6 6-0.7 6-1.8 5-2.4 3.3-2 1.5-2 0.8-2 0.2-2-0.6-2.8-2.2-2-4-0.5-4 0.8-6 2-5 2.6-4 2.2-2z"/>
</g>
<path fill="none" stroke="#000" stroke-width="1.05" stroke-linejoin="round" d="M359.6 1079.9l-3 2.3-2 2.5-2 3.6-1.7 4-1.6 5-1.1 5-0.6 5-0.1 5 0.9 8 0.9 2 0.3 1.9 0.9 1.1 0.1 1.2 0.9 0.8 0.1 1.2 2 2.7 2 1.8 2 1.2 3 0.6 2.6-0.5 2.4-1.4 2.3-2.6 1.6-3 1.5-4 1.1-5 0.5-5 0.1-6-0.4-6-0.9-6-1.2-5-1.9-4.9-1.7-2.9-2-2-2-1-1-0.1zM362.6 1062.3l-3 2.1-3 3.6-3 5.3-2 4.7-2.4 7.4-1.5 6.9-1 7-0.3 7 0.5 7 1.1 6 1.6 5 0.8 1 0.2 1.3 0.8 0.7 0.2 1.4 3 4.3 3 2.9 3 1.8 3 0.8 2 0.1 2-0.4 3-1.6 2.3-2.3 2.4-4 1.9-5 1.4-6 0.8-7 0.2-8-0.5-9-1.2-8.9-1.8-8-2.4-7-2.1-4.3-3-3.7-1-0.7-2-0.8zM367.6 1027l-2 1-2 1.7-4 5.2-4 7.5-4 10.3-3.3 11.7-2.3 11-1.3 11-0.3 9.9 0.5 9 1.3 8 2.2 8 1.1 3 0.9 1 0.2 1.4 0.7 0.6 0.3 1.6 4 6.5 4 4.6 5 4 5 2.3 3 0.5 2 0 2.6-0.5 2.3-1 3.7-3 3.4-5 2.7-7 1.7-8 1-10 0.2-11-0.9-14.9-1.9-15-2.8-14-3.3-12-3.7-9.1-2-3.6-2-2.7-2-1.9-2-1.1-2-0.3zM377.6 921.4l-3 0.8-3 2.4-3 3.8-4 7.1-3.5 7.9-3.5 9.7-4 12.7-3.4 12.6-3.2 13-2.9 14-2.3 13-1.8 13-1.2 12-0.7 11-0.1 11 0.3 10 0.8 9 1.1 7.9 1.8 9 2.1 8 4.1 12 1.3 3 0.8 1 1.3 3.8 4 7.8 4 6.6 5 7.2 4 5 5 5.5 5 4.6 5 3.9 5 3 5 2.2 5 1.4 4 0.5 4-0.1 4-0.9 3.8-1.5 3.3-2 3.4-3 2.4-3 1.8-3 1.9-4 1.6-5 1.1-5 0.7-6 0.4-6-0.4-15-1.1-13-1.8-14-2.8-17.9-3.7-21-9.2-46-4.7-21-4.2-17-3.5-12.4-3.3-10.6-3.7-9.8-3-6.6-3-5.1-3-3.7-3-2.2zM167.6 945.6l26.8 19.8 29.2 20.7 13 10.2 11 9.6 24.4 22.5 29.6 24.6 9 8.7 8 9.2 8 10.8 7 11.1 7 12.9 8.8 18.6 0.8 1 0.4 1.6 0.5 0.4 0.5 2 8.4 20 17.6 45 9 21.5 11 23.2 6 11.1 6 10.1 7 10.5 8 10.6 8 9.4 9 9.4 10 9.2 10 8.2 11 7.9 10.7 6.8M295.7 1099.3l10.9-0.8 9 0.1 8 1.2 6 2.1 6 3.6 5 4.8 4 5.3 4.8 8.7 0.8 1 3.9 11 3.1 11 2.8 14 1.9 14 0.9 14 0 13-0.9 12-1.8 11-2.1 8-2.4 6.8-3 6.5-4 6.6-5 6.3-5 4.8-6 4.7-6 3.6-7 3.3-8 2.7-8 1.9-9 1.4-10 0.7-10 0-9-0.7-9-1.5-9-2.1-8-2.6-8-3.5-7.2-4-7.2-5-6.6-5.6-5.9-6.4-4.6-5.9-4.2-7-3.2-7-2.8-8-1.8-8-1-8-0.3-9 0.6-9 1.4-8 2.1-8 2.6-7 3.4-7 3.5-6 4.4-6 4.4-5 5.4-5.2 6.9-5.8 8.3-6 10.6-7 8.7-5 8.5-4.1 9-3.5 9-2.7 10-2.2zM325.3 1110.3l4.3-0.4 4 0.4 4 1.2 3 1.7 3 2.6 3 3.7 3.5 5.8 1.2 3 1.8 6 1.8 8 1.1 8 0.5 7 0 8-0.6 7-1 7-1.8 7-3.5 9.1-2 3.7-3 4.5-3 3.6-3 3-4 3.1-4 2.5-4 2-5 1.8-4 1-5 0.8-5 0.2-5-0.1-6-0.8-5-1.1-9-3.1-4-2-4-2.5-3.4-2.7-3-3-2.6-3.2-2.4-3.8-2-4-1.4-4-0.9-4-0.7-5-0.1-4 0.3-5 0.8-5 1.4-5 3.6-9 4.7-8 6.5-8 7.6-7 9.9-7 10.8-6 11.9-5.2 5-1.7zM330.5 1115.3l3.1-0.7 3-0.1 3 0.5 2 0.8 2 1.3 2 1.8 2 2.5 2.5 3.9 1.1 3 1.9 7 1.1 8 0.2 10-1.2 10-1.9 7-3 7-3.7 5.7-5 5-3 2.1-3 1.7-6 2.1-7 0.9-6.1-0.5-5.9-1.7-6-3-5-3.9-3.7-4.4-2.7-5-1.4-5-0.6-6 0.7-6 2.1-7 2.9-6 4-6 5.1-6 6.2-6 7.4-6 7-4.4zM335.9 1117.3l3.7-0.4 2 0.4 2 0.8 3 2.4 3.4 4.8 2 6 1.2 7 0.2 8-0.8 7.6-1.6 6.4-2.4 5.7-3 4.7-3 3.3-4 2.9-4 1.8-5 1.1-5-0.2-4-1.1-4-1.9-4-3.3-2.3-3-2.1-4-1.1-4-0.4-5 0.5-5 1.7-6 2.3-5 2.9-5 3.7-5 4.4-5 4.5-4 4.9-3.3z"/>
</g>
<path d="M271.6 1332.2v-5.2M271.6 845.5v5.2M375.6 1332.2v-8.2M375.6 845.5v8.2M479.6 1332.2v-5.2M479.6 845.5v5.2M583.6 1332.2v-8.2M583.6 845.5v8.2M687.6 1332.2v-5.2M687.6 845.5v5.2M167.6 1307.9h5.2M791.6 1307.9h-5.2M167.6 1283.5h5.2M791.6 1283.5h-5.2M167.6 1259.2h5.2M791.6 1259.2h-5.2M167.6 1234.9h5.2M791.6 1234.9h-5.2M167.6 1210.5h8.2M791.6 1210.5h-8.2M167.6 1186.2h5.2M791.6 1186.2h-5.2M167.6 1161.9h5.2M791.6 1161.9h-5.2M167.6 1137.5h5.2M791.6 1137.5h-5.2M167.6 1113.2h5.2M791.6 1113.2h-5.2M167.6 1088.8h8.2M791.6 1088.8h-8.2M167.6 1064.5h5.2M791.6 1064.5h-5.2M167.6 1040.2h5.2M791.6 1040.2h-5.2M167.6 1015.8h5.2M791.6 1015.8h-5.2M167.6 991.5h5.2M791.6 991.5h-5.2M167.6 967.2h8.2M791.6 967.2h-8.2M167.6 942.8h5.2M791.6 942.8h-5.2M167.6 918.5h5.2M791.6 918.5h-5.2M167.6 894.2h5.2M791.6 894.2h-5.2M167.6 869.8h5.2M791.6 869.8h-5.2" stroke="#000" stroke-width="1.9" fill="none"/>
<rect x="167.6" y="845.5" width="624" height="486.7" fill="none" stroke="#000" stroke-width="2.9"/>
<text x="167.6" y="1387.2" text-anchor="middle" font-size="46">400</text>
<text x="375.6" y="1387.2" text-anchor="middle" font-size="46">500</text>
<text x="583.6" y="1387.2" text-anchor="middle" font-size="46">600</text>
<text x="791.6" y="1387.2" text-anchor="middle" font-size="46">700</text>
<text x="150" y="1348.5" text-anchor="end" font-size="46">0</text>
<text x="150" y="1226.8" text-anchor="end" font-size="46">5</text>
<text x="150" y="1105.1" text-anchor="end" font-size="46">10</text>
<text x="150" y="983.5" text-anchor="end" font-size="46">15</text>
<text x="150" y="861.8" text-anchor="end" font-size="46">20</text>
<text x="416" y="1429" font-size="46"><tspan font-style="italic" font-size="47.5">λ</tspan><tspan dx="16.7">, </tspan><tspan dx="-1.2">nm</tspan></text>
<text transform="translate(445.2 1436.7) scale(1.15 1.37)" font-size="46">′</text>
<text transform="translate(79.6 1157.8) rotate(-90)" font-size="46"><tspan font-style="italic" font-size="47.5">d</tspan><tspan font-size="33" dy="8" dx="1">2</tspan><tspan dy="-8" dx="0.5">, </tspan><tspan dx="0.5">nm</tspan></text>
<linearGradient id="gc"><stop offset="0" stop-color="#3b4cc0"/><stop offset="0.0625" stop-color="#4e68d8"/><stop offset="0.125" stop-color="#6282ea"/><stop offset="0.1875" stop-color="#779af7"/><stop offset="0.25" stop-color="#8db0fe"/><stop offset="0.3125" stop-color="#a3c2fe"/><stop offset="0.375" stop-color="#b9d0f9"/><stop offset="0.4375" stop-color="#ccd9ed"/><stop offset="0.5" stop-color="#dddcdc"/><stop offset="0.5625" stop-color="#ecd3c5"/><stop offset="0.625" stop-color="#f5c4ac"/><stop offset="0.6875" stop-color="#f7b093"/><stop offset="0.75" stop-color="#f4987a"/><stop offset="0.8125" stop-color="#eb7d62"/><stop offset="0.875" stop-color="#dd5f4b"/><stop offset="0.9375" stop-color="#ca3b37"/><stop offset="1" stop-color="#b40426"/></linearGradient>
<rect x="354" y="785.4" width="248.8" height="22.5" fill="url(#gc)" stroke="#000" stroke-width="2.6"/>
<text x="394" y="766.2" font-size="41.5">Contrast</text>
<text x="256" y="812.3" font-size="45">-0.5</text>
<text x="624" y="812.3" font-size="45">0.5</text>
<text x="377.3" y="913.8" font-size="15">− 0.05</text>
<text x="366.1" y="1017.3" font-size="15">− 0.10</text>
<text x="352.7" y="1055.4" font-size="15">− 0.15</text>
<text x="354" y="1079.8" font-size="15">−0.20</text>
<text x="308.9" y="1165.5" font-size="15">0.20</text>
<text x="294.1" y="1185.3" font-size="15">0.15</text>
<text x="286.4" y="1213.2" font-size="15">0.10</text>
<text x="266" y="1275.4" font-size="15">0.05</text>
<text transform="translate(274.8 1012.9) rotate(40)" x="0" y="5.4" text-anchor="middle" font-size="15">0.00</text>
<clipPath id="clipd"><rect x="1160.2" y="844.5" width="624.3" height="486.8"/></clipPath>
<g clip-path="url(#clipd)">
<filter id="blurd" filterUnits="userSpaceOnUse" x="1150.2" y="834.5" width="644.3" height="506.8"><feGaussianBlur stdDeviation="2"/></filter>
<g filter="url(#blurd)">
<rect x="1152.2" y="834.5" width="640.3" height="506.8" fill="#0000d5"/>
<path fill="#0000d8" d="M1152.2 834.5l640.3 0 0 506.8-640.3 0zM1336.3 1117.1l-2 1.5-2.2 3.2-1.8 5.5-0.3 4.5 0.7 4 1.6 3.4 2.6 2.6 3.4 1 2-0.4 2-1.4 2-3.1 1.1-4.1 0.2-6-1.2-6-2.1-3.5-2-1.5-2-0.4z"/>
<path fill="#0000db" d="M1152.2 834.5l640.3 0 0 506.8-640.3 0zM1338.3 1107.2l-2 0.7-2.7 1.9-3.3 3.9-1.3 2.1-3 8-0.8 8 0.8 6 2.7 6 3.6 4 3.7 1.9 2.3 0.5 4-0.6 2-1.2 2.5-2.6 2-4 1.2-4 0.7-8-0.4-6-0.8-4-1.2-4.2-1.9-3.8-2.1-2.7-2-1.4-2-0.6z"/>
<path fill="#0000df" d="M1152.2 834.5l640.3 0 0 506.8-640.3 0zM1340.3 1099.8l-2 0.3-4 2-3.8 3.8-2.2 3-4.4 8.9-1.6 6-0.5 4 0.2 8 2.4 8 2.4 4 3.5 3.7 3.3 2.2 2.7 1.2 4 0.5 2-0.2 3.5-1.5 2.5-2 2-2.7 2-4.4 1.3-4.8 0.7-6 0-7.3-0.8-6.7-1.2-5.5-2-5.6-2-3.7-2-2.5-2-1.6-2-0.9z"/>
<path fill="#0000e2" d="M1152.2 834.5l640.3 0 0 506.8-640.3 0zM1338.3 1093.9l-4 2.1-4 3.8-6 9.1-2.2 4.9-2 6-1.1 6-0.3 6 0.6 6 1.1 4 1.6 4 2.4 3.9 3.9 4.5 4 3 4 1.8 3.8 0.7 4.2-0.4 3.6-1.6 2.5-2 2.8-4 1.8-3.9 1.6-6 0.7-6 0.1-8-0.7-8-1.6-8-1.8-5.9-2.9-6-2.1-2.9-4-3-2-0.6z"/>
<path fill="#0000e6" d="M1152.2 834.5l640.3 0 0 506.8-640.3 0zM1340.3 1087.6l-4 1.5-4 3.1-4 4.4-4 5.9-3.7 7.3-2.2 6-1.5 6-0.8 6 0 6 1 6 1.2 4 2.9 5.9 3.1 4.3 4 4 4 2.7 4 1.8 4 0.9 4 0 4-1.2 4-2.9 2.8-3.6 2.7-6 1.5-5.9 0.9-8-0.1-10-1.1-10-2.3-9.9-2.4-6.8-2.8-5.2-3.2-3.9-4-2.2z"/>
<path fill="#0000ea" d="M1152.2 834.5l640.3 0 0 506.8-640.3 0zM1342.3 1081.8l-4 0.9-4 2.5-6 6.1-4 5.6-4 7.2-3.3 7.7-2.2 8-1.1 8 0.1 6 0.9 6 1.6 5.2 2.2 4.7 3.8 5.7 4 4.2 5.8 4.1 4.2 2 6 1.2 4-0.2 4-1.3 4-2.9 3.5-4.8 2.5-5.8 1.5-6.1 0.9-8 0.1-10-0.9-10-1.8-9.9-2.9-10-2.9-6.8-4-5.7-4-2.9z"/>
<path fill="#0000ed" d="M1152.2 834.5l640.3 0 0 506.8-640.3 0zM1338.3 1077.5l-4 2.6-6 6.1-5.4 7.7-4.4 8-3.4 7.9-2.3 8-1.3 8-0.1 6 0.6 6 1.5 6 2.5 5.9 3.8 6 4.5 5.1 4 3.3 6 3.6 5.9 2 6.1 0.4 4-0.8 3.2-1.6 2.5-2 3.3-4 2.8-6 1.7-6 1.1-7.9 0.4-10-0.7-12-1.9-11.9-2.4-10-4-10.4-4-6.4-4-3.5-4-1.3-2 0z"/>
<path fill="#0000f1" d="M1152.2 834.5l640.3 0 0 506.8-640.3 0zM1340.3 1071.6l-4 2.1-6 5.3-6 7.7-4.4 7.2-4.1 8-3.8 9.9-1.9 8-0.9 8 0.4 8 1.2 6 2.1 6 3.4 6.3 4.2 5.6 5.8 5.6 6 4 5.3 2.4 6.7 1.5 6-0.4 4-1.6 4.5-3.5 3.5-4.9 2.8-7.1 1.7-7.9 0.8-10-0.4-14-1.7-14-3.1-13.9-3.4-10-4.7-8.7-4-4.2-4-1.9-2-0.3z"/>
<path fill="#0000f4" d="M1152.2 834.5l640.3 0 0 506.8-640.3 0zM1342.3 1065.8l-4 1.6-6 4.7-6 7-6 9-5.2 9.8-4.1 10-2.7 9.8-1.1 8.1 0.2 8 0.9 6 2 6.5 3.6 7.4 4.4 6.3 5.5 5.7 6.5 4.9 6 3.1 8 2.3 6 0 6-2 4-3 3.9-5.3 2.5-6 2-8 1.1-9.9-0.1-14-1.3-14-2.5-13.9-3.9-14-4.3-10-2.6-4-2.8-3.2-4-2.6-2-0.5z"/>
<path fill="#0000f8" d="M1152.2 834.5l640.3 0 0 506.8-640.3 0zM1340.3 1061.4l-6 4.1-6 6.3-6 8.3-6 10.2-4.6 9.6-3.7 9.9-2.2 10-0.7 8 0.5 8 1.9 8 2.8 6.9 4 6.9 4.9 6.1 5.1 4.8 7.3 5.2 6.7 3.2 8 2 6-0.1 6-2.1 4-3 4.3-6 3-8 1.9-10 0.6-9.9-0.5-16-2-15.9-3.3-16.2-4.4-13.8-5-10-4.6-5.2-2-1.3-4-1.2-2 0z"/>
<path fill="#0000fb" d="M1152.2 834.5l640.3 0 0 506.8-640.3 0zM1342.3 1055.5l-6 3.4-6 5.9-7 9.1-7 11.4-6 12.2-3.9 10.4-2.4 9.9-0.8 8 0.3 8 1.5 8 2.9 7.9 4.5 8 5.9 7.4 6 5.7 8 5.5 7.3 3.4 6.7 1.8 4 0.3 4-0.3 6-2.1 4.6-3.7 4-6 2.9-8 1.9-10 0.6-9.9-0.4-16-2.1-17.9-3.5-17.6-4.3-14.4-4.3-9.9-3.4-5.3-2-2.2-2-1.7-4-1.8-2-0.2z"/>
<path fill="#0000ff" d="M1152.2 834.5l640.3 0 0 506.8-640.3 0zM1344.3 1049.6l-6 2.9-6 5.3-8 10-7.7 12.1-6.3 12.1-4.9 11.9-2.8 9.9-1.3 10 0.3 10 1.6 8 2.9 7.9 4.4 8 5.8 7.6 6 5.9 8 6 8 4.2 8 2.6 8 0.5 6-1.5 5.2-3.3 2.8-3.1 1.9-2.9 2.7-6 2.4-10 1.2-11.9-0.2-16-2.1-20-3.7-19.9-4.2-15.3-4.2-10.6-3.2-6-2.6-3.6-2.6-2.4-3.4-2-2-0.5z"/>
<path fill="#0505ff" d="M1152.2 834.5l640.3 0 0 506.8-640.3 0zM1346.3 1043.9l-2 0.4-4 1.8-6 4.8-8 9.4-8 12.1-8 14.5-5.7 13-3.7 11.9-1.4 10 0.1 10 1.4 8 3.3 9.6 4 7.6 6 8.2 6 6.3 8 6.4 8 4.7 8 3.2 8 1.5 4-0.1 4-0.8 6-3 4-4 2.4-3.7 1.8-4 2.3-8 1.7-12 0.1-17.9-1.8-20-3.7-21.9-4.5-18-4.3-12.2-2.7-5.7-3.3-5.4-2.3-2.6-3.7-2.9-2-0.8z"/>
<path fill="#0a0aff" d="M1152.2 834.5l640.3 0 0 506.8-640.3 0zM1342.3 1039.8l-6 4.3-8 8.8-8 11.5-9 15.5-5.9 12-4.5 12-2.4 9.9-1 10 0.5 10 1.8 8 3.9 9.9 4.6 8 6.3 8 7.7 7.5 8 5.9 10 5.4 10 3.1 8 0.4 6-1.5 4-2.4 2-1.7 2.4-2.7 2.4-4 3.1-8 1.9-10 0.9-13.9-0.8-20-3.1-23.9-4.8-23.3-5.7-18.6-4.5-10-2.5-4-3.3-4-2.6-2-3.4-1.5-4-0.1z"/>
<path fill="#0f0fff" d="M1152.2 834.5l640.3 0 0 506.8-640.3 0zM1344.3 1033.5l-6 3.7-8 8.3-8 11.1-10 16.6-7.5 14.7-4.9 12-3.1 11.9-1.2 10 0.4 10 2.1 10 3 7.9 5.2 9.4 6.4 8.6 7.6 7.7 8 6.3 10.1 6 9.9 3.8 8 1.3 4-0.1 4-0.8 6-2.9 5-5.3 4-8 2.6-10 1.3-14-0.4-19.9-2.6-23.9-4.4-24-5.8-21.9-5.7-14.6-2.9-5.4-3.1-4.2-2-2-4-2.5-4-0.7z"/>
<path fill="#1414ff" d="M1152.2 834.5l640.3 0 0 506.8-640.3 0zM1344.3 1028l-4 2.3-4 3.5-8 9.3-10 15-9.1 15.8-6.9 14-4.6 12-3 11.9-0.9 10 0.5 10 2.2 10 4 9.9 5.8 9.8 6.4 8.2 8.2 8 9.4 7.2 10 5.7 10 3.7 6 1.2 4 0.2 4-0.5 4-1.1 4-2.2 2-1.7 2.4-2.5 2.6-4 3.2-8 2.1-10 1-14-0.8-21.9-3.2-25.9-5.3-27.3-6-21.6-6-14.7-2.4-4.3-3.6-4.7-2-1.8-4-2.2-4-0.4z"/>
<path fill="#1a1aff" d="M1152.2 834.5l640.3 0 0 506.8-640.3 0zM1346.3 1021.5l-4 2-4 3.1-8 8.8-10 14.6-10.6 17.9-8.1 16-4.9 12-3.3 12-1.5 11.9 0.4 10 2 10 3.7 9.9 5.5 10 6.8 9.1 8 8.4 10 8.1 10.3 6.3 9.7 4.4 10 2.3 8-0.2 4-1.1 4-2.1 5.3-5.3 2.4-3.9 1.8-4 2.6-10 1.5-14 0.1-9.9-0.5-12-3.2-27.9-5-28-6.7-25.9-6.3-16.8-2.7-5.2-3.3-5-2.8-2.9-3.2-2.2-4-1z"/>
<path fill="#1f1fff" d="M1152.2 834.5l640.3 0 0 506.8-640.3 0zM1346.3 1015.6l-4 2.2-4 3.3-8 9.1-10 14.8-12.3 21-7.7 15.1-5.3 12.8-3.3 12-1.5 11.9 0.5 12 2.1 10 3.7 9.9 5.5 10 7.4 10 8.9 9.2 10 8.1 12 7.5 10 4.3 10 2.4 6 0.1 4-0.7 4-1.5 2.5-1.5 2.4-2 3.1-3.6 2.6-4.3 1.6-4 2.5-10 1.4-14 0-11.9-0.7-12-3.3-27.9-5.8-32-6.7-25.9-3.6-10.8-3-7.2-3-6-4-5.8-2.1-2.1-3.9-2.6-4-0.7z"/>
<path fill="#2424ff" d="M1152.2 834.5l640.3 0 0 506.8-640.3 0zM1346.3 1009.6l-4 2.4-4 3.4-8 9.5-12 18.3-13.1 22.8-7.9 15.9-4.6 12-3.1 12-1.3 11.9 0.7 12 2.2 10 4.8 11.9 5.8 10 8.5 10.8 10 9.8 10 7.8 12 7.3 12 5 10 1.9 4 0 4.4-0.7 3.6-1.3 4-2.5 2.4-2.2 3-4 3.7-7.9 2.6-12 1-14-0.2-11.9-1-14-3.8-29.9-6.5-34-7.2-27-4-11.5-3.2-7.3-2.8-5.3-4-5.5-2-2-4-2.3-4-0.5z"/>
<path fill="#2929ff" d="M1152.2 834.5l640.3 0 0 506.8-640.3 0zM1352.3 1002l-4 0.6-4 1.9-4 3.2-4 4.1-8 10.4-12 19.1-14 24.9-8.4 17.7-3 8-2.2 8-2.1 13.9 0.2 12 2.3 12 4.5 11.9 5.5 10 7.2 10 10 10.7 12 10 11 7.2 11 5.6 6 2.1 6 1.5 8 0.6 4-0.5 4-1.3 3.6-2 2.5-2 3.4-4 2.3-4 3.4-9.9 1.9-14 0.3-10-0.4-11.9-2.8-28-5.5-33.9-7.1-31.9-7.1-24-6.5-15.2-2.9-4.7-3.1-3.9-4-3z"/>
<path fill="#2e2eff" d="M1152.2 834.5l640.3 0 0 506.8-640.3 0zM1348.3 996.1l-4 2.2-4 3.3-4 4.3-6 7.8-12 18.9-16.7 29.4-7.3 14.8-5.1 13.1-3.5 14-1.1 11.9 0.8 12 2.8 12 4.9 11.9 7.2 11.9 9.7 12.1 10.3 9.9 12 9.3 12 7.4 12 5.4 6 1.8 6 1 8-0.3 4-1.2 4-2 5.7-5.4 2.5-4 1.8-4.1 1.8-5.8 1.2-6 1.2-14-0.2-12-0.9-13.9-4.1-32-6.9-37.9-4.1-17.9-4.3-16-6.6-19.9-3.1-7.1-4-7.1-4-4.9-4-2.8-4-0.9z"/>
<path fill="#3333ff" d="M1152.2 834.5l640.3 0 0 506.8-640.3 0zM1348.3 989.4l-4 2.4-4 3.5-4 4.5-6 8.1-12 19.2-19.7 34.9-6.7 13.9-5.2 14-2.7 12-1.2 11.9 0.3 8 0.7 6 2.9 12 5 11.9 7.3 12 9.5 12 11.8 11.5 12 9.4 14 8.7 12 5.4 10 2.7 6 0.5 4-0.3 4-1 4-1.8 4-3 2.1-2.2 2.7-4 2.7-6 1.7-6 1-5.9 1-14-0.3-12-1.2-15.9-5-35.9-8.1-41.9-4.2-18-4.4-16.1-6.8-19.8-3.2-7.1-4-6.8-4-4.6-4-2.6-4-0.6z"/>
<path fill="#3838ff" d="M1152.2 834.5l640.3 0 0 506.8-640.3 0zM1350.3 981.7l-4 1.9-4 3.2-4 4.2-6 7.9-12 19.1-22.6 40-7.4 15.2-4.8 12.7-3.2 13.4-1.3 12.5 0.9 14 2.7 12 4.8 11.9 6.9 12 10 13.1 12 12.1 14 11.3 14 9.1 12 5.8 6 2.1 6 1.5 6 0.6 4-0.2 4-0.8 4-1.5 4-2.6 2.8-2.6 2.9-4 2.1-4 2-6 1.3-6 1.3-13.9-0.2-12-1-14-4.8-35.9-9.1-47.8-4.5-20-4.7-18-7.1-21.9-3-7.2-4-7.6-4-5.5-4-3.2-4-1.4z"/>
<path fill="#3d3dff" d="M1152.2 834.5l640.3 0 0 506.8-640.3 0zM1352.3 973.9l-4 1.4-4 2.8-4 3.9-6 7.6-12 19-24.6 43.4-8 15.9-5.5 14-3.5 14-1.5 13.9 0.8 14 2.6 12 2 6 3.4 7.9 6.9 12 9.4 12.4 12 12.5 14 11.8 16 10.8 14 7 6 2.2 6 1.6 6 0.8 4-0.1 6-1 4-1.7 4-2.7 3.6-3.7 2.6-4 1.8-4 2.7-10 1.1-13.9-0.2-12-1.1-14-5.3-37.9-9.5-49.8-9.7-40.6-7.2-23.3-2.8-7.2-4.2-8.7-3.8-6.1-4-4-4-2.1z"/>
<path fill="#4242ff" d="M1152.2 834.5l640.3 0 0 506.8-640.3 0zM1352.3 966.2l-4 1.6-6 5-4 4.6-6 8.4-10 16.5-27.9 49.7-7.7 15.9-5 14-3.2 14-1.1 12 0.7 13.9 3.1 14 2.8 8 2.7 5.9 7.6 12.9 10 13.1 14 14.3 14 11.5 16 10.8 14 7.2 12 4 10 1 6-0.7 4-1.3 4-2.1 3.5-2.8 3.3-4 2.3-4 2.2-6 1.3-6 1.1-13.9-0.4-12-1.5-16-6.1-39.9-10.5-53.8-5.4-24-5.1-19.9-7.5-24-3.2-8.1-4-8.2-4-6.1-4-3.8-4-1.8z"/>
<path fill="#4747ff" d="M1152.2 834.5l640.3 0 0 506.8-640.3 0zM1352.3 958.2l-4 1.9-6 5.3-4 4.8-6 8.7-10 16.9-31.2 56.2-6.8 14.7-4.6 13.2-3.1 14-1 14 0.3 7.9 1 8 3.5 14 6 13.9 7.9 12.8 12 14.9 14 13.8 16 13 16 10.5 14 7 8 2.8 6 1.3 6 0.6 4-0.1 6-1.1 4-1.6 4-2.5 3.7-3.5 2.8-4 2-4 2.6-10 0.9-13.9-0.5-12-1.8-16-6.9-41.9-12.5-61.8-5.9-26-5.7-21.9-7-21.9-3.7-9.4-4-8-4-5.8-4-3.6-4-1.5z"/>
<path fill="#4d4dff" d="M1152.2 834.5l640.3 0 0 506.8-640.3 0zM1352.3 949.8l-4 2.1-4 3.5-4 4.6-6 8.5-10 16.8-35.6 64.7-7.1 16-4.5 13.9-2.6 14-0.7 14 0.4 7.9 1.1 8 3.7 14 6.2 13.9 8.7 14 12.4 15.2 14 13.8 18 14.6 16 10.6 14 7.2 8 3 6 1.5 6 0.9 6 0 6-1 4-1.3 4-2.1 3.2-2.5 3.6-4 2.3-4 1.6-4 1.4-6 0.7-6 0.2-8-0.7-11.9-1.7-14-7.8-43.9-15.7-75.8-6.1-25.9-5.7-22-7.3-23-4-9.8-4-7.7-4-5.6-4-3.4-4-1.3z"/>
<path fill="#5252ff" d="M1152.2 834.5l640.3 0 0 506.8-640.3 0zM1350.3 942.1l-4 3-4 4.3-4 5.3-6 9.3-38.9 70-8.2 16-6.6 16-4 13.9-2.2 14-0.4 14 0.6 7.9 1.2 8 2 8 2.6 8 6.6 13.9 9.3 14.2 6.1 7.8 7.9 8.8 16 15.2 18 14.3 18 11.6 14 6.7 8 2.7 6 1.3 6 0.7 6-0.1 6-1 4-1.3 4-1.9 4.3-3.1 3.4-4 2.1-4 1.4-4 1.2-6 0.4-12-0.7-10-2-13.9-7.2-37.9-22-101.8-6.9-28.8-6-22-4-12.5-4-10.7-4-8.6-4-6.4-4-4.3-4-2.1-4-0.1z"/>
<path fill="#5757ff" d="M1152.2 834.5l640.3 0 0 506.8-640.3 0zM1352.3 931.9l-4 2.6-4 4-4 5-6 9.1-43.7 79.4-7.1 14-6.5 16-4 13.9-2.5 16-0.3 14 0.6 7.9 1.2 8 1.8 8 2.6 8 3.3 8 4.1 7.9 4.9 8 5.6 7.9 14 16.3 16 15.3 20 16.1 10 6.8 9 5.5 7 3.7 8 3.6 8 2.6 6 1.4 6 0.8 6 0.2 6-0.5 6-1.3 6-2.4 3.4-2.2 2.6-2.5 2.4-3.4 1.8-4 1-4 0.7-6 0-6-2-18-5.1-25.9-32-141.6-6.8-28-5.5-19.9-7.5-22-3-7-4-7.3-4-5.1-4-3-4-0.8z"/>
<path fill="#5c5cff" d="M1152.2 834.5l640.3 0 0 506.8-640.3 0zM1354.3 921.5l-4 2.1-4 3.5-4 4.7-6 8.9-8 14.1-20 38.2-19.6 35-6.4 12.8-7 17.2-4.4 15.9-2.3 16-0.2 16 1 9.9 1.5 8 2.1 8 2.9 8 3.5 8 4.3 7.9 5.2 8 5.8 8 7.6 9.1 8 8.6 18 16.8 12 9.9 10 7.4 10 6.6 9.3 5.4 14.7 6.8 14 3.8 6 0.9 8 0.5 8-0.4 6-1 4-1.2 4-2 4-3.4 1.4-2 1.8-4 1-3.9 0.4-10-1.4-12-3.8-18-21.4-85.1-23.6-102.4-9.6-35.9-6.8-20.4-4-9.3-4-7.1-2.3-3.1-3.7-3.5-4-1.6z"/>
<path fill="#6161ff" d="M1152.2 834.5l640.3 0 0 506.8-640.3 0zM1352.3 912.2l-4 3.1-4 4.4-4 5.5-6 9.8-26 50.1-22 39.7-7.5 15.2-6.5 17.8-3.9 16.1-1.8 16 0.2 16 1.1 9.9 1.6 8 2.9 10 3 8 3.8 7.9 4.6 8 6.5 9.7 6.4 8.3 9.6 10.9 10 10.2 10 9.2 12 10.2 10 7.8 12 8.4 10 6.2 9.5 4.9 14.5 5.7 14 3.4 18 2 12-0.5 4-0.9 4-1.6 3-2.1 1.7-2 1.3-2.3 1.2-3.7 0.6-4-0.1-6-1.5-9.9-3.4-14-18.8-63.7-10-37-8-32.4-19.6-84.4-5.7-21.9-5.2-18-7.5-20.6-4-8-4-5.9-2-2-4-2.6-4-0.4z"/>
<path fill="#6666ff" d="M1152.2 834.5l640.3 0 0 506.8-640.3 0zM1356.3 899.8l-4 1.7-4 3.3-4 4.7-6 9-8 14.5-22 43.8-22 39.7-8 16.1-4 9.6-3.4 9.8-4.3 17.9-1.9 18-0.1 10 0.5 8 1.3 9.9 2.2 10 3.2 10 3.3 8 5.1 9.9 5 8 7.2 10 7.9 9.6 10 10.9 10 9.8 12 10.9 14 11.5 12 8.9 12 7.9 10 5.6 10 4.6 16 5.5 20 4.8 16 2.6 6 0.5 6-0.2 6-1.4 3.2-1.7 2-2 1.2-2 1.2-4 0-8-1.5-8-3.4-11.9-22.7-64.7-14-45.6-12-45.6-23.1-97.5-4.9-18.7-5.1-17.2-6.9-18.5-6-11-2-2.5-4-3.5-2-0.8z"/>
<path fill="#6b6bff" d="M1152.2 834.5l640.3 0 0 506.8-640.3 0zM1356.3 888.2l-4 1.9-4 3.6-4 4.9-6 9.4-8 15-22 44.9-24 43.5-9 18.6-3.8 10-3.2 10.3-2.4 9.7-1.7 9.9-1.1 10-0.4 10 0.3 10 1 9.9 2.3 12 2.8 10 3.9 10 5 9.9 6 10 6.3 8.7 8 10 10 11.1 12 12 14 12.7 14 11.7 14 10.5 12 7.9 10 5.6 12 5.5 12 4.6 24 7.7 16 4.5 12 2.6 10 0.9 4.1-0.3 4-1 2-1 2.3-2 2-3.9 0.5-4-0.3-4-2.5-10-4.3-12-21.8-51.4-10-25.4-8-22.6-8-25-14-50.7-26-108.6-5.3-19.5-4.7-15.2-6-15.7-6-10.8-2-2.5-4-3.2-2-0.8z"/>
<path fill="#7070ff" d="M1152.2 834.5l640.3 0 0 506.8-640.3 0zM1356.3 875.8l-4 2.2-4 3.8-4 5.3-6 9.8-8 15.5-22 46-26 47.5-6 12.2-4 9.6-3.7 10.3-2.9 10-2.1 10-1.8 11.9-0.9 12 0 10 0.8 12 1.5 9.9 2.8 12 3.3 10 5 11.1 6.1 10.8 7.9 11.6 8.2 10.4 11.8 13.1 12 12.1 14 13 14 12 14 10.8 12 8.3 10 6 12 6.1 34 13.8 22 8.3 13.1 4.2 13 3.2 10 1.6 10 0 4-0.7 2-0.9 1.8-1.2 1.4-2 0.6-2-0.1-4-1.7-6-3.5-7.9-25.7-49.9-16.9-35.6-12-28.6-10-27.3-10-31.3-8-28.5-8-31.4-22-92.4-6-22-6-18.3-6-14-5.1-7.8-2.9-2.9-2-1.3-2-0.6z"/>
<path fill="#7575ff" d="M1152.2 834.5l640.3 0 0 506.8-135.6 0 0-10-30.5-4.7-22-4.3-18-4.4-14-5-12-6.4-8-5.4-8-6.4-14-13.3-12-13.8-14-19-12-18.9-12.5-22.1-13.6-26.9-10-21.9-10-24.4-8-22-8-24.7-8-27.7-6-22.7-24-100.9-8-29.8-6-18.4-6-13.8-3.7-6-2.3-2.8-2-1.7-4-1.7-2-0.1-4 1.5-6 5.6-4 5.5-4 6.6-8 15.6-24 51.3-31.1 57.9-6.9 16.1-5.7 17.8-3.1 14-1.9 13.9-0.7 14 0.3 12 1.5 14 2.4 11.9 3.6 12 4.9 12 6.7 12.3 9.2 13.6 10.8 13.4 14 15.3 18 17.5 18 15.9 18 14.2 14 9.6 12 6.9 14 7 36 16 24.3 9.9 17.6 6 13.7 4 56.5 14.5 18 6.2 11.7 5.2 0 10-431.9 0z"/>
<path fill="#7a7aff" d="M1152.2 834.5l640.3 0 0 506.8-82.3 0 0-10-39.8-6.6-30-6.5-30-8.5-14-4.8-12-4.7-16-7.7-14-8.3-14-10.3-12-10.9-10-10.9-8.5-10.6-9.5-13.3-10-15.9-10-17.6-10.1-19.3-10-21.1-8-18.5-8-20.4-6-16.8-12-38.3-12-45.1-15.7-67-8.7-35.9-7.6-27.1-6-16.9-6-12.1-2.8-3.7-3.2-3.1-2-1.1-4-0.4-2 0.7-4 2.6-6 7.2-6 9.9-6 11.9-20 44.5-8 16.7-30 55.9-6.5 14.8-5.6 16.4-3.3 13.5-2.4 14-1.3 13.9-0.3 14 0.9 14 1.7 11.9 2.8 12 3.9 12 6.2 14 7 11.9 8.9 12.5 12 14.5 16 17.1 18 17.5 18 15.9 18 14.3 14 9.6 16 9.2 30 14.9 26 12.1 29.9 12.1 62.4 21.9 0 10-396.4 0z"/>
<path fill="#8080ff" d="M1152.2 834.5l193.7 0 0 10-5.6 9.8-6 12.4-20 45.9-8 17.1-31.2 58.4-6.8 16-4.8 14-3.3 12.1-2.7 13.8-1.8 14-0.8 11.9 0.1 14 0.9 12 1.8 12 2.7 11.9 4.6 14 5.3 12 6.8 11.9 9.2 13.3 12 14.7 14 15.4 16 16.1 18 16.9 14 12 12 9.5 10 7.1 12 7.6 16 9 26 13.5 18 8.9 17.1 7.7 24.9 9.9 32.2 12 0 10-376.3 0zM1372.6 834.5l419.9 0 0 506.8-43 0 0-10-45-7.2-36.1-7.3-32-8.4-30-10.2-14-5.7-14-6.5-12-6.5-12-7.5-10-7.4-10-8.6-10-9.9-8-9.2-10-13-8.5-12.3-9.5-15.6-10-18-10.1-19.8-10-21.7-8-19.1-8-21.2-12-36.5-10-35.6-8-31.9-16.6-71.9-7.4-29.8-8-27.2-4-10.8-3.7-8z"/>
<path fill="#8585ff" d="M1152.2 834.5l185.5 0 0 10-21.4 50.3-14 30.3-21.2 39.1-7.1 14-7.6 17.9-5.2 16-3.5 14-2.6 13.9-1.7 14-0.7 12 0.2 13.9 0.9 12 1.7 12 2.6 11.9 4.3 14 4.9 12 6.3 11.9 7.8 12 10.7 14 12.2 14.1 16 17 18 17.8 14 12.9 14 12 10 7.8 12 8.5 12 7.5 18 10.3 22 11.8 20.1 10 22.6 9.9 30.5 12 0 10-361.3 0zM1379.6 834.5l412.9 0 0 496.7-8 0-28-4.1-34-5.8-28-5.5-20.1-4.6-20-5.4-18-5.5-18-6.4-18-7.4-14-6.4-14-7.4-12-7.4-12-8.6-10-8.4-10-9.6-10-11.2-10-12.9-10-14.6-10-16.5-9.8-17.8-10.3-20.6-10-22.1-8-19.4-8-21.5-12-37-12-43.8-26.8-114.9-6.3-23.9-5.6-18z"/>
<path fill="#8a8aff" d="M1152.2 834.5l178.6 0 0 10-16.5 40.7-14 30.2-21 38.8-7 14.3-8.1 19.6-5.5 18-3.4 14-2.4 13.9-1.7 14-0.7 14 0.1 13.9 1 12 2 14 2.6 11.9 4.3 14 4.8 12 6.1 11.9 7.5 12 9.4 12.6 12 14.3 14 15.4 16 16.5 16 15.6 14 12.7 12 10.1 12 9.1 14 9.5 14 8.5 20 11.3 20 10.6 24.1 11.2 24.7 10.2 0 10-348.9 0zM1385.2 834.5l407.3 0 0 491.8-8 0-26-4.2-32-5.8-28-5.9-20.5-5-19.6-5.6-18-5.9-17.4-6.5-18.6-7.9-16-7.6-14-7.7-12-7.6-12-8.8-10-8.4-10-9.7-10-11.2-10-12.8-10-14.6-10-16.5-9.3-16.9-10.8-21.6-10-22.1-8-19.3-8-21.3-8-23.8-6-19.6-12-44.5-24.5-107.1-8.6-33.9z"/>
<path fill="#8f8fff" d="M1152.2 834.5l172 0 0 10-9.9 25-6 14.1-8 17-22 41.3-8 16.5-8.1 20.3-6.3 21.4-3.1 14-2.6 15.3-1.5 14.6-0.6 14 0.2 13.9 1.2 14 2.2 14 2.6 11.9 4.3 14 4.7 12 5.9 11.9 7.1 11.6 8.9 12.4 11.1 13.6 12 13.6 16 17.1 18 18.2 14 13.3 14 12.4 12 9.6 12 8.6 14 9.1 20 11.9 18 9.8 21.1 10.4 23 10 0 10-338.2 0zM1390.1 834.5l402.4 0 0 486.8-8 0-22.9-4-31.2-6-27.9-6.2-20-5.2-20.1-6-18-6.1-18-7-16.8-7.4-16.3-7.9-14.4-8-12.6-8-11.9-8.6-12-10.1-10-9.8-10-11.3-10-12.9-10-14.6-10-16.6-10-18.4-10-20.3-10.1-22.2-10-24.4-8-21.8-8-24.3-6-20-12-45.4-28.2-124.3z"/>
<path fill="#9494ff" d="M1152.2 834.5l165.1 0 0 10-5 12.7-12 27-24 45.8-8 16.9-8.1 21.1-6.8 24.1-3.2 14.5-2.4 15.5-1.6 14.9-0.6 15 0.2 14 1.1 13.9 2 14 3 14 4.1 13.9 4.5 12 5.6 12 5.6 9.9 6.6 10 10 13.2 12 14.3 14 15.7 20 21.1 16 16.1 16 14.9 12 10.3 12 9.2 14 9.6 18 11.2 17.5 10 19.2 10 21.9 10 0 10-328.7 0zM1394.8 834.5l397.7 0 0 481.5-8 0-22-4-32-6.5-25.7-6.1-20.3-5.6-18.1-5.6-18.9-6.8-17.1-6.9-18-8.1-16-8.1-15.4-8.8-12.6-8.2-12-8.9-12-10.3-10-9.8-10-11.4-10-13-10-14.7-10-16.7-10-18.5-10-20.5-10.1-22.4-9.4-23.2-8.1-21.9-6.7-20-7.8-25.4-8-29.4-6-24.1-23.5-106.6z"/>
<path fill="#9999ff" d="M1152.2 834.5l157.5 0 0 10-3.4 8.2-10 21.6-22.9 44-9.2 20.7-8 23.3-6.2 23.9-3.1 15.9-2.3 16-1.3 15.9-0.4 14 0.5 16 1.3 13.9 2.2 14 3.1 14 4.1 13.9 4.5 12 5.4 12 5.5 9.9 6.8 10.5 8.4 11.5 9.6 11.8 14 16.1 18 19.7 20 20.9 16 15.7 12 10.8 12 9.8 14 10.3 16 10.5 18 10.7 18 9.8 20 9.5 0 10-320.1 0zM1399.4 834.5l393.1 0 0 476.1-8 0-18-3.4-32-6.9-27.8-6.9-20.2-5.8-18.1-6-16.7-6.2-17.3-7.2-18-8.4-16-8.3-16-9.3-13.2-8.7-10.8-8-12-10.2-10-9.8-10.6-11.9-9.4-12-10-14.6-10-16.4-10-18.3-10-20.4-10.1-22.2-10-24.4-8-21.3-8-23.6-6-19.4-8-28.5-6-23.5-10-43.4-12.9-61.1z"/>
<path fill="#9e9eff" d="M1152.2 834.5l148.6 0 0 10-8.5 17.7-20 39-6 13.3-4.7 11.8-4.8 14-4.6 15.1-6.7 28.8-2.6 15.9-1.9 16-0.9 15.9-0.1 16 1 16 1.6 13.9 2.5 14 3.4 14 4.4 13.9 4.6 12 5.5 12 5.5 9.9 6.4 10 7.4 10.2 10 12.5 14 16.3 38 41.6 14 14.2 14 13.2 12 10.3 14 10.6 16 10.9 16 9.8 18 10 16.2 8 0 10-312.3 0zM1404 834.5l388.5 0 0 470.4-8 0-17.5-3.5-30.5-6.9-27.3-7.1-19.9-6-17.5-6-17.4-6.6-16.8-7.3-17.2-8.3-18-9.6-14-8.4-14-9.3-12-9.1-12-10.4-10-9.9-10-11.3-10-13-9.9-14.5-9.6-15.9-8.7-16-9.8-19.8-10-22.1-9.9-23.9-8.2-21.6-8-23.1-8-25.6-8-28.6-6-23.5-10-43.6-10.3-49.5z"/>
<path fill="#a3a3ff" d="M1152.2 834.5l137.7 0 0 10-13.6 26.6-7.3 15.3-6.8 16.2-6 16.9-8.8 30.7-3.6 16-3 16-2.2 15.9-1.4 16-0.5 15.9 0.3 16 1.3 16 1.9 13.9 3.2 16 3.7 14 4.5 13.9 4.8 12 5.6 12 5.5 9.9 6.4 10 8.4 11.4 24 29 40 44.4 16 16.5 12 11.3 12 10.3 14 10.7 14 9.6 16 10 14 7.8 12.9 6.6 0 10-305 0zM1408.8 834.5l383.7 0 0 464.4-8 0-16-3.4-30-7.1-26-7-19.2-6-18.9-6.6-18.1-7.3-17.7-8-16.2-8.1-17.6-9.9-14.4-8.8-14-9.6-12.2-9.5-11.8-10.5-10-10-10-11.4-10-13.2-9.9-14.7-9.5-16-8.6-16-8.8-17.9-9.2-20.6-10.1-24.2-8.7-23.1-7.3-20.8-8-25.1-7.9-27.9-6.1-23.1-10-42.8-9.5-45.8z"/>
<path fill="#a8a8ff" d="M1152.2 834.5l124.9 0 0 10-8.8 18.8-7 17.1-7.1 20-6 20-4.6 17.9-3.4 15.9-2.9 16-2.2 16-1.4 15.9-0.6 14 0.1 15.9 0.8 14 1.5 14 2.6 15.9 3.6 16 3.9 14 4.8 13.9 4.9 12 5.7 12 5.6 9.9 6.4 10 7.3 10.1 24 29.3 40 45.5 16 16.9 12 11.8 12 10.7 14 11.1 14 9.9 16 10.1 22 12.2 0 10-298.1 0zM1413.8 834.5l378.7 0 0 458.1-8 0-12-2.7-28-6.8-28-7.8-18.3-5.8-19.8-7.2-16.6-6.8-17.4-8-16-8.2-17.3-9.7-16-10-14.4-10-12.3-9.6-11.7-10.4-10.3-10.2-10-11.4-10-13-10-14.8-9.9-16.4-8.1-15.2-9.2-18.7-8.8-19.7-10-24.2-8.1-21.1-8-22.7-8-24.9-7.9-27.1-6.1-23-10-42.1-8-37.8-0.5-2.8z"/>
<path fill="#adadff" d="M1152.2 834.5l112 0 0 10-7.5 20-6.5 19.8-6 21-5.1 21-6.1 31.9-2.2 16-1.2 13.9-0.8 16 0.1 14 0.7 13.9 1.5 16 2.5 16 2.8 13.9 4 16 4.4 14 5.1 13.9 5.2 12 6 12 7.2 12.2 7.9 11.7 8.1 10.5 30 36 36 41.2 14 14.9 12 11.6 12 10.6 12 9.4 14 9.8 14 8.8 15.6 8.8 0 10-291.7 0zM1419.1 834.5l373.4 0 0 451.4-8 0-10.5-2.5-31.1-8-27-7.9-17.7-6-17.8-6.8-16.8-7.2-16.7-8-15.1-8-17.2-9.9-15.6-10-14.6-10.3-12.2-9.7-11.8-10.5-10-10-10.1-11.4-9.3-11.9-8.6-12.4-9.6-15.6-8.8-15.9-9-18-8.6-18.9-8.8-21-9.3-23.9-8-22.2-8-24.2-14-48.3-10-40.4-8-36.5-1.2-6z"/>
<path fill="#b2b2ff" d="M1152.2 834.5l100.1 0 0 10-6.7 21.9-5.6 20-4.9 19.9-4.2 20-4.7 29.9-2.3 28-0.2 15.9 0.5 14 1.1 13.9 2.1 16 2.8 16 3.5 15.9 3.8 14 5.1 16 5.3 13.9 5.2 12 5.9 12 5.7 9.9 6.4 10 7.2 10 22 27.4 44 51.9 14 15.6 12 12.5 12 11.3 14 11.7 14 10.2 14 9.2 13.4 7.8 0 10-285.5 0zM1424.8 834.5l367.7 0 0 444.1-8 0-10-2.4-30-8.1-26-8-18-6.3-16-6.3-18-8-16.1-7.9-14.8-8-16.6-10-15.3-10-15.3-11-12-9.6-12-10.7-10-10.1-10-11.3-10-12.7-8-11.6-9.2-14.8-8.8-15.8-8-15.9-8-17.3-8-18.8-8.7-21.9-9.4-25.8-8-23.7-14.3-48.3-9.7-37.5-8-35.3-1.5-7z"/>
<path fill="#b8b8ff" d="M1152.2 834.5l88.2 0 0 10-11.3 43.9-4.3 19.9-3.2 18-3.4 27.9-1 26 0.4 13.9 1.2 16 2 16 2.7 15.9 3.4 16 4 15.9 4.7 16 5.5 16 5.6 13.9 5.3 12 6 12 5.7 9.9 6.4 10 7.2 10 21 26.3 48 57.7 24 26.3 12 11.5 12 10.2 14 10.6 14 9.2 9.6 5.8 0 10-279.7 0zM1431.1 834.5l361.4 0 0 436.3-8 0-5.4-1.3-28.9-8-27.7-8.8-18-6.5-16.4-6.7-17.6-8-15.7-7.9-14.4-8-16.2-10-15.8-10.6-15.5-11.3-12.5-10.2-12-10.9-10-10.1-10-11.3-10-12.7-8-11.5-8-12.7-8-14.2-8-15.5-8-17.1-16-38.6-9.1-24.8-9-26.2-8-25.4-8-27.7-8-30.6-9.2-39.7z"/>
<path fill="#bdbdff" d="M1152.2 834.5l74.8 0 0 10-10 39.9-3.3 16-2.4 15.9-2.3 26-0.3 13.9 0.3 14 1.2 16 1.8 15.9 2.6 16 3.3 15.9 3.8 16 5.6 19.9 5.7 18 6.6 18 6.7 15.9 7.6 16 7.7 13.9 7.6 12 17.1 22.7 50 61.6 24 28.3 18 18.6 10 9.1 10 8.2 10 7.4 12 8 6 3.7 0 10-274.1 0zM1438 834.5l354.5 0 0 427.9-8 0-3.3-0.9-28.7-8.3-28-9.2-17.1-6.5-14.9-6.2-16.7-7.7-15.4-8-16-9.2-16-10.1-15.4-10.6-15.9-12-12.7-10.5-12-11.1-10-10.2-10-11.3-10-12.8-8-11.5-8-12.7-7.8-13.7-8.2-16.1-7.4-15.8-14.6-35.3-9.1-24.6-9-26.3-16-52.6-8-30-8.3-34.7z"/>
<path fill="#c2c2ff" d="M1152.2 834.5l55.8 0 0 10-3.9 16-3 15.9-2.1 16-1.3 17.9-0.3 16 0.5 18 1.4 17.9 2.3 18 3.6 19.9 4.5 20 5.5 19.9 7.4 24 8.4 23.9 7.9 20 8 17.9 8.1 16 10.7 17.9 12.6 17.7 62 77.8 18 21.6 16 17.4 14 13.1 16 12.7 16.6 11.3 0 10-268.7 0zM1445.6 834.5l346.9 0 0 418.6-8 0-2-0.6-29.8-9-26.2-9.1-17.5-6.8-14.5-6.4-15.7-7.6-16.4-8.8-15.3-9.2-15.2-9.9-13.9-10-15.6-12.1-14-11.8-10.8-10-11.2-11.6-10-11.5-8-10.2-8-11.2-8-12.4-8-13.9-14.5-29-15.1-35.9-8.4-22.6-8-23.3-16.1-51.9-8-29-8.7-34.8z"/>
<path fill="#c7c7ff" d="M1152.2 834.5l33.2 0 0 10-1.2 16-0.7 17.9 0.7 31.9 1.3 18 1.9 16 2.7 17.9 3.1 16 4.2 17.9 5.1 18 12.7 37.9 17.9 45.9 7.9 17.9 8.8 18 12.4 21.9 12.1 17.6 74 94.4 18 21.1 16 16.4 16 13.7 17.4 12.4 0 8 0 2-263.5 0zM1454.1 834.5l338.4 0 0 408.4-8 0-29.5-9.4-26.5-9.6-16-6.5-17-7.8-15.1-7.7-14-7.8-14-8.7-14.4-9.7-13.7-10-15.9-12.6-13.1-11.3-12.7-12-10.2-10.5-10-11.4-8-10.1-8.6-11.9-7.4-11.4-8-13.6-14-27.5-14-32.7-8-21.1-8-23-16.1-51.5-8-28.6-8.2-32z"/>
<path fill="#ccccff" d="M1152.2 834.5l14.8 0 0.1 14 1 19.9 1.7 20 2.3 19.9 6.2 37.9 7.8 34 8.5 27.9 11.9 31.9 23 53.9 16.1 33.9 13.3 23.9 13.3 20 82.1 106.2 14 16.3 14 14.3 14 12.2 14.4 10.6 0 10-258.5 0zM1463.5 834.5l329 0 0 397-8 0-26-8.7-24.6-9.2-15.4-6.5-16.2-7.5-15.4-8-14.5-8.3-14-8.8-14-9.7-14.6-11.1-13.4-10.9-14-12.2-12-11.4-12-12.5-10-11.4-16.2-21.4-7.8-11.7-8-13.4-13.8-26.7-12.2-28-8-20.7-7.5-21.2-14.5-45.8-8-28.2-8.9-33.7z"/>
<path fill="#d1d1ff" d="M1473.7 834.5l318.8 0 0 384.1-8 0-25.6-9-22.4-8.9-16.1-7.1-15.9-7.8-15-8.1-13.3-8-12.1-8-14-10-13.7-10.6-13.4-11.3-13.2-12-13.4-12.9-12-12.7-10-11.6-8.4-10.7-8.7-11.9-14.9-23.8-13.6-26.1-12.2-27.9-14.2-38.2-14-44.2-14.7-53.3zM1152.2 908.3l0-0.6 8 0 7.8 32.6 7.5 27.9 7.4 23.9 8.1 22 12.9 29.9 25.6 53.9 13.9 27.9 11 20 9.9 15.9 10 14 32.4 41.9 37.6 50.4 14 17.8 12 13.9 12 12.2 12 10.6 11.5 8.8 0 10-253.6 0z"/>
<path fill="#d6d6ff" d="M1485 834.5l307.5 0 0 369.4-8 0-22.2-8.3-21.8-9-15.1-6.9-15.7-8-14.2-8-13-8-12.1-8.2-13.2-9.7-24.8-20.6-12.3-11.3-13.7-13.6-11.6-12.4-10.5-12-17-21.9-14.9-22.8-14-25.5-12-26.1-14-36.2-14-43.1-13.4-47.8zM1152.2 946.2l0-0.9 8 0 17.2 48.8 7.2 18 7.2 15.9 10.8 22 36.4 69.8 9.8 18 9.5 15.9 14 20.5 34.7 45.4 37.3 51.2 14 18.2 10 11.9 10 10.7 12 11.1 10.7 8.6 0 10-248.8 0z"/>
<path fill="#dbdbff" d="M1497.7 834.5l294.8 0 0 352.3-8 0-22-8.8-18.9-8.3-16.4-8-14.7-7.9-13.6-8-12.2-8-24.2-18-23-19.9-23.1-23-22-24.6-17.3-22.3-14.7-21.9-14-24.5-12-24.9-7-16.4-6.9-18-12.1-35.9-12.7-43.9zM1152.2 968.2l0-0.6 8 0 18.2 42.5 12.6 25.9 53.4 95.8 16.9 27.9 13 18.4 33 43.5 37 52.1 14 18.6 10 12.1 8 8.7 10 9.7 10 8.5 0 10-244.1 0z"/>
<path fill="#e0e0ff" d="M1512.3 834.5l280.2 0 0 331.9-8 0-33.2-14.7-28.8-15.1-14-8.4-12-7.9-21.9-16.4-20.6-18-20.1-19.9-21.5-24.1-18-22.4-16.6-23.4-13.6-21.9-13.8-26.1-8-17.4-6-14.4-12-32.7-12.1-39.1zM1152.2 984.2l0-0.5 8 0 17.9 36.4 11.8 21.9 32.3 53.4 27 46.4 12.6 19.9 10.5 14.9 35.2 47 34.8 50.3 14 19.3 10 12.5 8 9 8 8.1 9.5 8.5 0 10-239.6 0z"/>
<path fill="#e5e5ff" d="M1530.1 834.5l262.4 0 0 307-8 0-24-11.3-26.7-14.4-13.1-7.9-12.2-8.2-18.5-13.8-19.6-17-18-17.7-18-20-20-24.7-18-24.6-16-24.6-14-24.8-14-29-12-29.4-10.3-29.6zM1152.2 998.1l0-1.8 8 0 17.4 31.7 9.3 16 35.3 54.8 36.1 58.9 12 17.4 37.4 50.5 34.6 51.4 14 19.8 16 19.6 15 14.9 0 10-235.1 0z"/>
<path fill="#ebebff" d="M1554.2 834.5l238.3 0 0 275.2-8 0-12-6-28-15.6-24-15.8-16.3-12.3-16.2-14-15.6-15.2-16-17.6-17.2-21.1-17.6-23.9-17.3-25.9-15.9-26.2-16-30.2-14-31-4.2-10.4zM1152.2 1008.1l0-1.4 8 0 25.1 41.3 34.9 50.9 30.8 48.9 11.8 17.9 42.3 57.9 37.2 56.7 14 20.2 14 17.7 12.6 13.1 0 10-230.7 0z"/>
<path fill="#f0f0ff" d="M1589.9 834.5l202.6 0 0 232.4-8 0-26-15.3-23.1-15.6-14.9-11.5-14.4-12.4-13.6-13.3-13.5-14.6-14.6-17.8-14-18.8-14-20.8-14-22.5-18-31.7-14.5-28.1zM1152.2 1016.1l0-0.5 8 0 26.6 40.4 37.4 51.8 38 58.3 30.5 41.5 12.6 18 47 73.2 14 18.8 12.3 13.7 0 10-226.4 0z"/>
<path fill="#f5f5ff" d="M1642.4 834.5l150.1 0 0 169-8 0-16-10.7-14-10.1-13.2-10.5-12.8-11.2-12-11.5-12-12.8-12-14.3-10-13.2-11.7-16.8-10.4-16.3-18-31.6zM1152.2 1024.1l0-0.7 8 0 25.8 36.6 28.2 36.6 10 13.7 38 57 29.5 40.3 12.4 18 48.2 77.3 12 16.6 10 11.8 0 10-222.1 0z"/>
<path fill="#fafaff" d="M1735.2 834.5l57.3 0 0 56.5-8 0-16-13.4-16-14.9-17.3-18.2zM1152.2 1032l0-1.8 8 0 23.8 31.8 30.2 37.6 14 18.7 32.1 47.4 30.4 41.9 16.1 23.9 41.5 69.6 12 17.8 9.8 12.4 0 10-217.9 0z"/>
<path fill="#ffffff" d="M1152.2 1038l0-1.6 8 0 25.1 31.5 30.9 36.9 18 24 28.1 40.9 28.8 39.9 15.6 23.9 10.7 18 28.9 50.8 10 15.8 9.6 13.2 0 10-213.7 0z"/>
<path fill="#fffafa" d="M1152.2 1042l8 0 25.1 29.9 32.9 37.8 16 20.9 30 43.1 23.1 31.9 10.7 16 9.9 15.9 37.4 67.9 9 14.9 7.5 11 0 10-209.6 0z"/>
<path fill="#fff5f5" d="M1152.2 1048l0-0.9 8 0 25.4 28.8 32.6 36.1 18 23 47.3 66.6 12.1 18 12.1 19.9 10.9 20 25.7 49.4 13.4 22.4 0 10-205.5 0z"/>
<path fill="#fff0f0" d="M1152.2 1052l8-0.1 58 62.3 10 12 10 13.1 44.4 62.3 13.2 20 12.8 21.9 10.4 20 23.3 47.3 11.3 20.5 0 10-201.4 0z"/>
<path fill="#ffebeb" d="M1152.2 1058l0-1.7 8 0 58 60 10 11.6 12 15.5 38.7 54.2 10.7 16 8.7 14 8.9 15.9 8.1 16 25 53.5 9.2 18.3 0 10-197.3 0z"/>
<path fill="#ffe5e5" d="M1152.2 1062l0-1.6 8 0 46 45.5 12 12.4 10 11.3 12 15.2 37.8 52.8 10.6 16 8.5 14 8.7 15.9 7.9 16 31.8 71.8 0 10-193.3 0z"/>
<path fill="#ffe0e0" d="M1152.2 1066l0-1.7 8 0 44 41.9 14 14 12 13.4 12 15.2 34.9 48.8 10.5 16 9.5 16 8.3 15.9 7.6 16 9.3 21.9 19.1 47.9 0 10-189.2 0z"/>
<path fill="#ffdbdb" d="M1152.2 1069.9l0-1.9 8 0 44 40.4 14 13.6 12 13.2 12 14.8 32.7 45.6 10.5 16 9.4 16 8.3 15.9 8.2 18 11.1 27.9 15 41.9 0 10-185.2 0z"/>
<path fill="#ffd6d6" d="M1152.2 1071.9l0-0.5 8 0 42 37.2 18 17.2 12 13.2 12 14.9 13.1 17.8 18.1 25.9 10.2 16 9.1 16 8 15.9 7.8 18 11 29.9 11.8 37.9 0 10-181.1 0z"/>
<path fill="#ffd1d1" d="M1152.2 1075.9l0-1.2 8 0 42 36 18 16.8 12 12.9 12 14.7 13.7 18.6 16.6 23.9 10.1 16 8.9 16 8.7 17.9 7.3 18 8.3 23.9 8 27.9 3.4 14 0 10-177 0z"/>
<path fill="#ffcccc" d="M1152.2 1077.9l8 0 40 33.1 20 18.1 12 12.6 12 14.6 12.9 17.4 16.5 23.9 11.2 18 8.6 15.9 7.4 16 7 18 7.1 21.9 6.2 23.9 4 20 0 10-172.9 0z"/>
<path fill="#ffc7c7" d="M1152.2 1081.9l0-1 8 0 40 32 20 17.7 12 12.5 12 14.3 13.6 18.3 15 21.9 11 18 8.4 15.9 7.2 16 6.7 18 6 19.9 5.2 22 3.7 23.9 0 10-168.8 0z"/>
<path fill="#ffc2c2" d="M1152.2 1083.9l8-0.1 38 29.4 22 18.9 12 12.3 12 14.2 14.2 19.1 14.8 21.9 10.7 18 8.1 15.9 6.7 16 6.3 18 5.4 19.9 3.9 20 2.1 17.9 0.4 16-164.6 0z"/>
<path fill="#ffbdbd" d="M1152.2 1087.9l0-1.3 8 0 14 10.1 24 18.4 12 9.7 10 8.8 12 12.1 12 14 13.4 18 14.7 21.9 10.6 18 7.9 15.9 6.5 16 5.9 18 4.9 19.9 3 18 1.4 15.9 0 20-160.3 0z"/>
<path fill="#ffb8b8" d="M1152.2 1089.9l0-0.6 8 0 2 1.3 36 26.3 12 9.5 10 8.6 12 11.9 12 13.9 14 18.8 13.3 20 10.4 18 7.7 15.9 6.3 16 5.5 18 4.1 17.9 2.5 18 0.8 13.9-0.6 22 0 2-156 0z"/>
<path fill="#ffb3b3" d="M1152.2 1091.9l8 0 4 2.6 36 25.6 12 9.5 10 8.7 12 12 12 14.1 12.7 17.3 13 19.9 10 18 7.3 15.9 5.9 16 5 18 3.4 17.9 1.6 16 0.2 13.9-1.4 14 0 8 0 2-151.7 0z"/>
<path fill="#ffadad" d="M1152.2 1095.9l0-1.5 8 0 2 1.2 14 9.2 20 14.1 14 10.6 10 8.3 14 13.7 12 14 11.9 16.2 12.9 19.9 9.9 18 7.1 15.9 5.6 16 4.7 18 2.9 17.9 1 16-0.5 13.9-2.3 14 0 8 0 2-147.2 0z"/>
<path fill="#ffa8a8" d="M1152.2 1097.9l0-1.1 8 0 4 2.4 32 21.4 14 10.3 10 8.2 14 13.5 12 14 12.5 17.1 11.4 17.9 9.8 18 6.9 15.9 5.4 16 4.2 18 2.5 17.9 0.4 16-1.2 13.9-3.3 14 0 6 0 4-142.6 0z"/>
<path fill="#ffa3a3" d="M1152.2 1099.9l0-0.7 8 0 6 3.5 32 20.9 12 8.8 10 8.1 14 13.3 12 13.9 11.7 16 11.4 17.9 9.6 18 6.7 15.9 5.1 16 3.9 18 1.9 17.9-0.2 16-1.9 13.9-2.1 8-2.2 6 0 2 0 8-137.9 0z"/>
<path fill="#ff9e9e" d="M1152.2 1101.9l0-0.4 8 0 10 5.7 30 19.4 12 8.7 10 8.2 12 11.4 12 13.9 11 14.9 11.2 17.9 9.4 18 6.6 15.9 5.3 18 3.3 17.9 1.1 16-0.8 16-2.7 13.9-2.3 7.2-3 6.8 0 2 0 8-133.1 0z"/>
<path fill="#ff9999" d="M1152.2 1103.9l8-0.2 12 6.7 30 19.1 10 7.2 10 8 12 11.3 12 13.8 11.5 15.9 11 17.9 9 18 6.2 15.9 4.8 18 2.6 17.9 0.4 16-0.6 8-1.2 8-1.6 7-2.3 6.9-2.5 6-3.2 6 0 10-128.1 0z"/>
<path fill="#ff9494" d="M1152.2 1107.9l0-2 8 0 6 3.1 14 8 16 9.9 14 9.6 10 7.8 12 10.8 12 13.3 11.4 15.3 11.2 17.9 9 18 6.2 15.9 4.7 18 2.5 17.9 0.1 16-0.8 8-1.3 8-2.2 7.9-2.2 6-2.8 6-3.6 6-1.4 2 0 10-122.8 0z"/>
<path fill="#ff8f8f" d="M1152.2 1109.8l0-1.7 8 0 8 4 12 6.6 16 9.8 12 8 12 9 12 10.7 12 13.3 12 16.2 9.7 15.9 8.9 18 6 15.9 4.4 18 1.9 16-0.1 15.9-0.9 8-1.6 8-2.2 7.6-2.6 6.3-3.4 6.7-3.6 5.3-3.1 4 0 10-117.4 0z"/>
<path fill="#ff8a8a" d="M1152.2 1111.8l0-1.6 8 0 10 4.8 14 7.7 14 8.5 12 8 10 7.5 12 10.6 12 13.2 11.2 15.2 9.7 15.9 8.8 18 5.7 15.9 4.1 18 1.5 16-0.6 15.9-1.2 8-2 8-2 6-3.1 6.9-2.9 5-4.2 6-5.4 6 0 10-111.6 0z"/>
<path fill="#ff8585" d="M1152.2 1113.8l0-1.6 8 0 10 4.7 14 7.5 14 8.2 12 7.9 10 7.4 12 10.5 12 13.2 10.4 14.1 9.7 15.9 8.6 18 5.5 15.9 2.4 10 1.4 8 1.1 16-0.2 7.9-0.9 8-3.3 14-5 11.9-3.6 6.1-4.5 5.9-8.3 8 0 10-105.3 0z"/>
<path fill="#ff8080" d="M1152.2 1115.8l0-1.5 8 0 12 5.4 14 7.4 12 6.9 12 7.7 10 7.3 12 10.5 12 13.2 10 13.6 9.2 15.3 8.5 18 5.3 15.9 3.2 16 1.1 16-0.4 7.9-1 8-1.7 8-1.8 6-2.4 6-3.9 7.5-4 5.9-4.1 4.8-6 5.6-5.7 4.1 0 10-98.3 0z"/>
<path fill="#ff7a7a" d="M1152.2 1117.8l0-1.6 8 0 12 5.3 14 7.1 12 6.8 12 7.6 10 7.2 12 10.4 12 13.1 10.2 14 9.3 15.9 8 18 4.8 15.9 2.7 16 0.3 16-1.8 13.9-2 8-2.2 6-2.7 6-3.5 6-4.4 5.9-4.7 5-8 6.5-7.4 4.5 0 10-90.6 0z"/>
<path fill="#ff7575" d="M1152.2 1119.8l0-1.6 8 0 14 5.9 24 12.7 12 7.4 10 7.2 12 10.3 12 13.1 10 13.9 8.6 14.9 4.7 10 3.2 8 4.6 15.9 2.3 16 0.3 8-0.3 8-2.3 13.9-2.4 8-2.6 6.4-3 5.6-4 6-5.1 5.9-4 3.8-10 7.2-10.1 5 0 10-81.9 0z"/>
<path fill="#ff7070" d="M1152.2 1121.8l0-1.7 8 0 12 4.8 12 5.7 12 6.4 12 7.2 10 6.8 12 9.8 12 12.6 10.6 14.3 9.2 15.9 6.9 16 4.7 15.9 2.4 16 0.2 8-0.3 8-2.5 13.9-2.5 8-2.6 6.1-4.1 7.1-4 5.5-4 4.4-5.3 4.8-6.7 4.8-6 3.4-8 3.5-6.7 2.3 0 10-71.3 0z"/>
<path fill="#ff6b6b" d="M1152.2 1123.8l0-1.8 8 0 14 5.4 12 5.7 12 6.3 10 6 10 6.7 12 9.8 12 12.6 10 13.6 9 15.5 6.8 16 4.4 15.9 1.4 8 0.7 8 0.1 8-0.6 8-1.4 7.9-1.5 6-2.8 7.7-3.1 6.3-7 10.2-4 4.3-6 5.2-10 6.5-10 4.5-10 3.1-11.6 2.1 0 10-33.2 0 0-10-13.2-2.5-8 0z"/>
<path fill="#ff6666" d="M1152.2 1125.8l0-1.9 8 0 12 4.3 10 4.4 12 6 10 5.6 10 6.3 12 9 12 11.5 10.2 12.7 8.8 13.9 6.8 14 5.4 16 1.9 7.9 1.2 8 0.5 14-1.6 13.9-2.1 8-2.2 6-2.9 6.1-3.5 5.9-4.5 5.8-3.9 4.2-8.1 6.6-10 5.9-10 4.1-12 3.1-12 1.6-14 0.4-14-1.2-12-2.4-8 0z"/>
<path fill="#ff6161" d="M1152.2 1125.8l8-0.1 18 6.6 20 9.7 18 11 12 9.3 10 9.8 10 12.5 8.2 13 6.7 14 5.3 16 1.7 7.9 1 8 0.3 14-0.9 8-1.2 5.9-3.9 12-3.2 6.4-3.5 5.6-4.5 5.6-4 4.1-8 6.4-10 5.8-10 3.9-12 2.9-12 1.5-12 0.3-14-1.2-12-2.4-8 0z"/>
<path fill="#ff5c5c" d="M1152.2 1127.8l8-0.2 16 5.4 20 9.3 18 10.5 12 8.8 10 9.4 10 11.9 8.3 12.7 6.9 14 3 8 2.4 8 2.6 13.9 0.6 14-1.8 14-1.5 5.9-2.5 6.8-2.4 5.2-3.6 6-4 5.3-4.3 4.7-7.7 6.4-10 6-10 4.1-12 3-12 1.5-12 0.4-14-1.3-12-2.4-8 0z"/>
<path fill="#ff5757" d="M1152.2 1129.8l0-0.4 8 0 16 5.2 20 8.9 18 10.4 12 8.8 10 9.3 9.7 11.7 7.7 11.9 6.9 14 3 8 2.3 8 2.4 13.9 0.2 14-0.9 8-1.2 6-4.1 11.6-6 10.6-4 5.2-4 4.1-8 6.5-10 5.8-10 4-12 2.8-12 1.4-12 0.1-12-1.2-12-2.5-8 0z"/>
<path fill="#ff5252" d="M1152.2 1131.8l0-0.6 8 0 16 4.9 18 7.7 18 10 12 8.4 10 8.9 9.3 10.6 8.2 11.9 7.1 14 4.9 14 2.8 13.9 0.6 14-0.7 8-1.1 6-3.8 11.9-5.3 10-4 5.4-4.1 4.6-7.9 6.6-10 6.1-10 4-12 2.9-12 1.4-12 0.2-12-1.2-12-2.7-8 0z"/>
<path fill="#ff4c4c" d="M1152.2 1133.8l0-0.8 8 0 14 3.9 18 7.3 18 9.5 12 8 11.6 10 8.9 10 8.1 11.9 6.2 12 5.2 14 2.9 13.9 0.7 14-0.7 8-1.1 6-3.8 11.5-3.1 6.4-2.9 4.6-4 5.2-4 4.3-8 6.5-10 5.8-10 3.8-10 2.4-12 1.4-12 0.2-12-1.3-12-2.7-8 0z"/>
<path fill="#ff4747" d="M1152.2 1135.8l0-1 8 0 14 3.7 18 7 18 9.3 12 8 10 8.4 9.5 10.5 8.3 11.9 6.2 12 5 14 2.7 13.9 0.5 12-1.3 12-3.6 12-5.3 10.3-4 5.6-4 4.4-8 6.9-10 6-10 3.9-10 2.4-12 1.5-12 0.1-12-1.3-12-2.7-8 0z"/>
<path fill="#ff4242" d="M1152.2 1137.8l0-1.2 8 0 14 3.4 18 6.8 16 8 12 7.6 11.4 9.3 8.6 9.3 8 11.2 7.1 13.4 4.9 14 2.6 13.9 0.2 12-1.6 12-1.7 6-2.3 6-5.6 9.9-7.6 8.9-8 6.6-10 5.7-10 3.6-10 2.3-12 1.2-10 0-12-1.3-12-2.9-8 0z"/>
<path fill="#ff3d3d" d="M1152.2 1139.8l0-1.5 8 0 12 2.7 16 5.4 18 8.5 14 8.6 10 8 9.7 10.2 7.2 9.9 6.4 12 5.2 14 2.7 13.9 0.4 12-1.7 12-1.6 6-2.3 5.8-5.7 10.1-6.8 8-7.5 6.3-10 5.9-10 3.8-10 2.2-10 1.2-12 0.1-12-1.4-12-3-8 0z"/>
<path fill="#ff3838" d="M1152.2 1141.8l0-1.7 8 0 12 2.4 16 5.2 18 8.3 12 7.2 11 8.5 9 9.2 8 10.7 6.5 12 4.5 12 2.9 14 0.4 11.9-1.6 12-1.6 6-2.3 6-5.8 9.9-6.8 8-8.2 6.7-8 4.6-10 3.8-10 2.3-10 1.2-12 0-12-1.4-12-3.1-8 0z"/>
<path fill="#ff3333" d="M1152.2 1143.8l0-1.9 8 0 12 2.2 16 4.9 16 7.1 14 8.2 10 7.6 9.7 9.8 7.4 9.9 6.5 12 4.4 12 2.5 12 0.6 11.9-1.5 12-3.6 11-2.4 5-3.6 5.7-7.1 8.2-8.9 7-8 4.4-10 3.5-10 2.1-12 1-10-0.3-12-1.7-10-2.9-8 0z"/>
<path fill="#ff2e2e" d="M1152.2 1143.8l10 0.1 14 2.7 14 4.5 16 7.2 12 7.1 10 7.6 8.7 8.7 7.5 9.9 6.5 12 4.3 12 2.4 12 0.4 11.9-1.8 11.7-3.5 10.3-5.8 9.9-6.7 7.7-8 6.4-8 4.5-10 3.6-10 2.1-12 1-10-0.3-12-1.9-10-2.9-8 0z"/>
<path fill="#ff2929" d="M1152.2 1145.8l0-0.4 10 0.2 14 2.5 14 4.3 14 6.1 12 6.7 10 7.2 8 7.5 8 9.9 5.9 9.8 5 12 2.9 12 0.8 11.9-1.3 12-3 10-5.3 10-7 8.5-8 6.6-8 4.6-10 3.7-10 2.1-12 1-10-0.3-12-2-10-3-8 0z"/>
<path fill="#ff2424" d="M1152.2 1147.8l0-0.6 10 0.2 14 2.1 14 4.2 14 5.9 12 6.7 10 7.2 8.6 8.2 7.4 9.5 6 10.4 4.5 12 2.5 12 0.4 9.9-1.6 12-3.4 10-2.4 4.7-3.4 5.3-6.6 7.4-8 6.3-8 4.2-10 3.4-10 1.9-10 0.7-10-0.4-12-2.1-10-3.1-8 0z"/>
<path fill="#ff1f1f" d="M1152.2 1149.7l0-0.7 10 0.1 14 1.9 12 3.3 14 5.6 12 6.3 10 6.8 8 7.2 8 9.5 6.1 9.9 4.9 12 2.6 12 0.6 9.9-1.1 10-3.1 10.5-5 9.5-6.5 7.9-8.5 7-8 4.4-10 3.5-10 1.8-10 0.7-10-0.5-12-2.1-10-3.3-8 0z"/>
<path fill="#ff1919" d="M1152.2 1151.7l0-0.9 8 0 14 1.3 12 2.9 14 5.2 12 6 10 6.4 10 8.8 7 8.2 6.1 10 4.3 10 2.6 10 1 11.9-0.9 10-2.8 10-5.2 10-6.5 8-7.6 6.2-8 4.5-10 3.5-10 1.9-10 0.6-10-0.5-12-2.2-10-3.5-8 0z"/>
<path fill="#ff1414" d="M1152.2 1153.7l0-1 12 0 10 1 12 2.7 14 5 12 5.9 10 6.5 8 6.8 8 9.1 6.2 9.9 4.2 10 2.8 12 0.6 9.9-1.2 10-3.1 10-5.5 9.6-6 7-8 6.3-8 4.1-10 3.2-10 1.6-10 0.4-8-0.6-12-2.4-10-3.6-8 0z"/>
<path fill="#ff0f0f" d="M1152.2 1155.7l0-1.2 14 0 8 0.7 12 2.5 12 4.1 12 5.6 10 6.1 8 6.4 8 8.6 6.1 9.1 4.6 10 3.1 12 0.8 10-1 9.9-3.1 10-4.5 8.4-6 7.3-6 5.1-8 4.8-10 3.6-10 1.9-10 0.6-10-0.6-12-2.6-10-3.8-8 0z"/>
<path fill="#ff0a0a" d="M1152.2 1157.7l0-1.3 20 0.2 12 2 12 3.7 12 5.2 12 7.2 8.6 7 7.3 7.9 6.3 10 4.2 10 2.3 10 0.6 10-1.2 9.9-2.5 8-4.2 8-6.5 8-6.9 5.6-8 4.4-10 3.3-10 1.6-10 0.3-8-0.7-12-2.7-10-4-8 0z"/>
<path fill="#ff0505" d="M1152.2 1159.7l0-1.3 16-0.4 6 0.4 10 1.6 12 3.6 12 5.1 10 5.8 8 6 8 8.3 6.1 8.8 4.6 10 2.6 10 0.8 10-1 9.9-2.4 8-4.7 8.8-5.9 7.2-6.1 5-8 4.5-10 3.3-10 1.6-10 0.3-8-0.7-12-2.9-10-4.2-8 0z"/>
<path fill="#ff0000" d="M1152.2 1161.7l0-1.4 16-0.5 6 0.2 10 1.4 12 3.4 12 5.1 10 5.8 8 6.1 7.6 7.8 5.4 8 4.7 10 2.3 9 0.9 9-0.9 9.9-2.3 8-4 8-6.4 8-7.3 5.8-8 4.1-8 2.5-10 1.6-10 0.2-8-0.8-12-3-10-4.4-8 0z"/>
<path fill="#fc0000" d="M1165.1 1161.7l11.1 0 10 1.6 12 3.5 10 4.3 10 5.8 8 6.2 6.4 6.5 5.6 8 4 8.5 2.7 9.5 1 10-1.1 9.9-2.6 8-4.4 8-5.6 6.5-7.1 5.5-6.9 3.5-8 2.6-8 1.3-10 0.5-8-0.7-8-1.6-8-2.6-8-3.9-8 0 0-100.3 8 0z"/>
<path fill="#fa0000" d="M1164.3 1163.7l9.9-0.5 10 1.1 12 3.2 10 3.9 10 5.4 8 5.8 6 5.8 6 7.9 4.8 9.3 2.8 10 0.8 10-0.9 7.9-2.4 8-4.3 8-5.1 6-7.6 6-6.1 3.1-8 2.6-8 1.4-10 0.4-8-0.8-8-1.6-8-2.9-8-4.1-8 0 0-95.2 8 0z"/>
<path fill="#f70000" d="M1164.2 1165.7l10-0.8 10 0.9 10 2.4 10 3.6 10 5.1 8 5.4 6 5.4 6.4 7.9 4.4 8 3.3 10 1 10-0.7 7.9-2.4 8.3-4 7.6-6 7-6 4.6-6 3.2-8 2.6-8 1.4-10 0.3-8-0.7-8-1.8-8-3.1-8-4.4-8 0 0-90 8 0z"/>
<path fill="#f50000" d="M1164.4 1167.7l9.8-1.1 10 0.7 10 2.2 10 3.6 10 5.1 8 5.5 6.4 5.9 5.6 7.3 4.5 8.7 2.4 8 0.9 10-0.9 7.9-2.5 8-4.4 7.6-5.9 6.4-6.1 4.2-6 2.9-8 2.3-8 1.1-8 0.1-8-0.8-8-2-8-3.2-8-4.6-8 0 0-84.7 8 0z"/>
<path fill="#f20000" d="M1164.9 1169.7l9.3-1.3 8 0.2 10 1.8 10 3.2 10 4.7 8 5.2 7 6.1 5 6.2 4.5 7.8 2.7 8 1.3 10-0.7 8-2.4 7.9-3.4 6.4-6 6.9-6.4 4.7-5.6 2.7-8 2.4-8 1.1-10-0.1-8-1.2-8-2.4-8-3.8-6-3.9-8 0 0-79.2 8 0z"/>
<path fill="#f00000" d="M1165.5 1171.7l8.7-1.5 8 0.1 10 1.6 10 3.1 10 4.7 8 5.2 6 5.3 5.9 7.4 4.2 8 2.3 8 0.7 8-0.8 8-2.3 6.9-4 7-5.5 6-5.7 4-6.8 3-8 2.1-8 0.8-8-0.3-8-1.3-8-2.5-7.6-3.8-6.4-4.5-8 0 0-73.5 8 0z"/>
<path fill="#ed0000" d="M1166.3 1173.7l7.9-1.6 8-0.2 10 1.5 10 3 10 4.7 7.1 4.6 6.7 5.9 4.8 6 4.2 8 2.3 8 0.6 8-1 8-2.7 7.1-4 6.3-6 5.8-6 3.7-6 2.3-8 1.7-8 0.5-8-0.5-8-1.8-6-2.2-8-4.3-6-4.6-8 0 0-67.5 8 0z"/>
<path fill="#eb0000" d="M1177.9 1173.7l8.3 0.2 8 1.5 10 3.2 8 3.9 7.7 5.2 6.3 5.9 4.4 6 3 6 2.3 8 0.6 8-1.3 8-2.4 5.9-3.9 6-4.7 4.6-6 3.9-8 3-6 1.2-6 0.4-8-0.4-6-1-6-1.8-6-2.7-6-3.7-6-5-8 0 0-61.1 8 0 8-3.5z"/>
<path fill="#e80000" d="M1177.1 1175.7l9.1-0.1 8 1.3 8.9 2.8 8.5 4 6.6 4.3 6 5.3 4.9 6.3 3.1 6 2 6.5 0.8 7.5-0.8 6.8-2.5 7.1-3.8 6-5.7 5.4-6 3.5-8 2.6-6 1-6 0.2-6-0.5-6-1.1-6-2-6.4-3.1-5.9-4-5.7-5.3-8 0 0-54.2 8 0 8-4.2z"/>
<path fill="#e60000" d="M1177.4 1177.7l8.8-0.3 8 1.2 8 2.3 8 3.6 6 3.7 6.5 5.4 4.8 6 3.2 6 1.9 6 0.8 8-1.2 7.6-2.6 6.3-4.5 6-4.9 4.1-6 3.1-8 2.3-6 0.7-6-0.1-6-0.7-6-1.6-6-2.4-6-3.5-4.8-3.9-5.2-5.6-8 0 0-46.4 8 0 4-3 4-2.2 4-1.5z"/>
<path fill="#e30000" d="M1178.2 1179.7l8-0.5 8 1.1 8 2.2 8 3.6 6 3.8 6.5 5.7 4.4 6 2.8 6 1.8 8-0.2 6-1.3 6-3 5.9-3.2 4-5.8 4.6-6 2.8-8 1.9-6 0.4-6-0.3-6-1.1-6-2-6-3-4.6-3.3-5.4-5.1-4-5.3-8 0 0-37.5 8 0 4-3.9 4-2.6 4-1.8z"/>
<path fill="#e00000" d="M1179.6 1181.7l6.6-0.5 8 0.8 8 2.2 7.7 3.5 6.2 3.9 4.5 4 4.7 6 3 6 1.4 6 0.2 6-1.2 6-2.8 5.9-3.7 4.6-6 4.4-6 2.5-8 1.5-6 0.1-6-0.7-6-1.5-4-1.6-6-3.3-6-5-4.2-4.9-3.8-6.7-8 0 0-25.9 8 0 3.9-5.4 4.1-3.4 4.6-2.5z"/>
<path fill="#de0000" d="M1181.5 1183.7l6.7-0.4 6 0.6 6.9 1.8 7.1 2.9 5.2 3 5 4 3.8 4.3 3.4 5.7 2 6 0.5 6-0.9 6-1.6 4-3.4 5.1-4 3.6-6 3.3-6 1.7-6 0.7-8-0.5-6-1.4-6-2.3-6-3.8-4-3.6-4-4.8-3.3-6-1.9-6-0.6-6 0.7-6 2.4-6 2.8-4 4.7-3.9 5.2-2.7z"/>
<path fill="#db0000" d="M1184.3 1185.7l5.9-0.2 6 0.8 6 1.7 8 3.6 4 2.8 4 3.5 4 5.2 2.3 4.5 1.4 6 0.1 4-1.2 6-2.6 5.1-4 4.3-4 2.7-4.2 1.8-5.8 1.4-6 0.4-6-0.6-6-1.6-6-2.7-4.3-2.9-4.3-3.9-3.4-4.7-2.7-5.3-1.5-6-0.2-6 1.4-6 2-4 3.4-4 3.6-2.6 4-1.9z"/>
<path fill="#d90000" d="M1179.4 1189.6l4.8-1.3 6-0.5 6 0.7 6 1.6 6 2.7 4.5 2.8 4.5 4 3 4 2.1 4 1.4 6 0 4-0.8 4-1.8 4-2.9 3.7-4 3.2-4 1.9-4 1.2-6 0.8-6-0.4-6-1.4-6-2.5-3.8-2.5-4.2-3.9-2-2.5-2.2-3.6-2.2-6-0.6-6 0.4-4 1.3-4 2.5-4 4.3-4z"/>
<path fill="#d60000" d="M1182.7 1191.6l5.5-1.1 4-0.1 6 0.8 4 1.2 6 2.8 3.7 2.4 2.3 2.1 3.4 3.9 2.1 4 1.2 4 0.3 4-0.6 4-1.7 4-2.7 3.5-3.1 2.5-3.9 1.9-5 1.4-4 0.4-6-0.4-5.2-1.4-4.8-2.1-4-2.7-3.3-3.1-2.7-3.6-2.1-4.4-1-4-0.3-4 0.6-4 1.6-4 3.1-4 2.5-2z"/>
<path fill="#d40000" d="M1187.7 1193.6l4.5-0.4 4 0.3 8 2.4 6.2 3.7 3.8 3.8 2 3.1 1.4 3.1 0.7 4-1 6-2.4 4-2.1 2-2.6 1.7-4 1.7-4 0.7-4 0.2-4-0.5-4-1.1-4-1.9-4-2.7-2.1-2.1-2.9-4-1.7-4-0.7-4 0.3-4 1.1-3.5 1.5-2.5 2.5-2.6 4-2.3z"/>
<path fill="#d10000" d="M1187.6 1197.6l2.6-0.7 4-0.3 6.2 1 3.8 1.6 3.9 2.4 3.9 4 2 4 0.5 2-0.3 4.9-1.3 3.1-1.6 2-2.6 2-2.5 1.2-6 1.2-4-0.3-4-1-6-3.1-3.9-4-2-4-0.6-2-0.2-4 0.4-2 2.3-4.3 2-1.9z"/>
<path fill="#cf0000" d="M1191.6 1201.6l4.6-0.5 4 0.8 4 1.9 3.8 3.8 1.5 4-0.5 4-1.3 2-3.5 2.4-4 1-4-0.3-4-1.4-2.5-1.7-2-2-2-4 0-4 0.7-2 1.6-2z"/>
</g>
<path fill="none" stroke="#000" stroke-width="1.05" stroke-linejoin="round" d="M1338.3 1103.5l-2 0.7-2 1.3-2 1.8-2 2.3-2.6 4.2-1.9 4-1.5 5-0.9 5-0.1 4 0.4 4 1 4 1.6 3.8 1.3 2.2 2.7 3.1 2 1.6 2 1.2 4 1.2 2 0.1 2-0.4 2-0.8 2-1.5 2.1-2.5 1.9-3.6 1.4-4.4 0.7-4 0.3-6-0.4-6-0.6-4-1.4-5.3-2-4.8-2-3-2-1.9-2-1.1-2-0.4zM1348.3 986l-4 2.4-4 3.7-4 4.5-6 8.3-6 9.3-7.1 11.9-13.6 23.9-6.5 12-6.8 14.5-2.9 7.4-1.9 6-2.6 12-0.7 6-0.3 5.9 0.3 8 0.8 6 1.3 6 1.7 6 2.3 6 2.8 5.9 3.3 6 3.9 6 4.4 6 5.1 6 10.5 10.5 6 5.1 8 6.1 6 4.1 6.8 4.1 7.2 3.7 6 2.6 6 2 6 1.3 6 0.4 4-0.4 4-1.1 4-1.9 3.5-2.6 2.5-2.8 2.2-3.2 2.8-6 1.7-6 1.1-5.9 0.6-6 0.4-8-0.3-12-1.3-15.9-2.2-18-3.2-19.9-4.3-24-4.2-19.9-4.7-20-4.4-15.9-3.9-12-3-8-3.3-7.2-4-6.6-4-4.5-2-1.5-2-0.9-2-0.5-2 0zM1305.5 844.5l-5.2 11.6-6 12.4-20.7 39.8-5.3 11.6-3.6 8.4-5.2 14-5.3 16.7-4 15.2-3.4 15.9-2.9 18-1.7 16-0.7 15.9 0.2 16 1.2 15.9 2.3 16 3.5 16 4.1 13.9 5.2 14 6.5 14 7.8 13.2 8.8 12.7 13.2 16.4 18 20.7 24 26.1 18 18.5 12 11.5 12 10.7 12 9.5 14 10.1 16 10.3 16 9.5 16 8.6 16 7.7M1784.5 1307.8l-24-4.8-24-5.3-20-5-19.1-5.3-19-6-16-5.7-15.8-6.2-16.2-7.2-16-7.8-16.6-9-13.4-8-14-9.5-12-9.3-10-8.8-10-9.9-10-11.4-10-13-9.4-13.9-8.6-14.1-10-18.3-8.7-17.5-9.3-20.4-9.9-23.5-8.2-21.1-7.9-22.7-6.1-18.8-6-20.2-6-22-6-23.8-6-25.8-14.6-69M1160.2 1039.2l23.4 28.7 28.6 33.4 12 14.9 12 16.3 28 40.6 25 34.5 10.7 16 11 17.9 9.1 16 20.3 36.8 8 13.8 8 12.6 7.5 10.6M1160.2 1104.8l18 10.1 22 13.9 16 11.6 12 10.3 6 5.9 6 6.5 10.1 12.6 10.9 15.9 6 10 4.3 8 3.9 8 3.5 8 3 7.9 2.6 8 2.1 8 2 10 1.1 8 0.7 7.9 0.2 8-0.3 8-0.9 8-1.1 6.1-2 7.6-2.3 6.2-2.8 6-3.5 6M1160.2 1142.8l10 1.6 8 2 10 3.3 10 4.1 10 5 8 4.7 8 5.7 6 5 6 6.1 5.9 7.4 4.1 6.2 4.2 7.7 3.4 8 2.5 8 1.9 10 0.5 7.9-0.4 8-1.3 8-2.5 8-2.7 6-3.6 5.9-6 7.3-6 5.4-6 4.1-8 4-8 2.8-8 1.7-10 1.2-10 0.1-8-0.7-10-1.8-8-2.4M1160.2 1187.4l4-3.4 4-2.4 6-2.2 6-1 6-0.1 6 0.7 6 1.4 6 2.1 6 2.8 6 3.7 4 3.2 4 4.1 3.8 5.3 2.2 4.7 1.7 5.3 0.7 6-0.4 5.5-1 4.5-2.8 5.9-2.9 4-4.3 4-5 3-4 1.7-6 1.6-6 0.6-8-0.2-6-1.1-6-1.9-6-2.9-4.3-2.8-4.6-4-5.1-5.9"/>
</g>
<path d="M1264.2 1331.3v-5.2M1264.2 844.5v5.2M1368.3 1331.3v-8.2M1368.3 844.5v8.2M1472.3 1331.3v-5.2M1472.3 844.5v5.2M1576.4 1331.3v-8.2M1576.4 844.5v8.2M1680.5 1331.3v-5.2M1680.5 844.5v5.2M1160.2 1307h5.2M1784.5 1307h-5.2M1160.2 1282.6h5.2M1784.5 1282.6h-5.2M1160.2 1258.3h5.2M1784.5 1258.3h-5.2M1160.2 1233.9h5.2M1784.5 1233.9h-5.2M1160.2 1209.6h8.2M1784.5 1209.6h-8.2M1160.2 1185.3h5.2M1784.5 1185.3h-5.2M1160.2 1160.9h5.2M1784.5 1160.9h-5.2M1160.2 1136.6h5.2M1784.5 1136.6h-5.2M1160.2 1112.2h5.2M1784.5 1112.2h-5.2M1160.2 1087.9h8.2M1784.5 1087.9h-8.2M1160.2 1063.6h5.2M1784.5 1063.6h-5.2M1160.2 1039.2h5.2M1784.5 1039.2h-5.2M1160.2 1014.9h5.2M1784.5 1014.9h-5.2M1160.2 990.5h5.2M1784.5 990.5h-5.2M1160.2 966.2h8.2M1784.5 966.2h-8.2M1160.2 941.9h5.2M1784.5 941.9h-5.2M1160.2 917.5h5.2M1784.5 917.5h-5.2M1160.2 893.2h5.2M1784.5 893.2h-5.2M1160.2 868.8h5.2M1784.5 868.8h-5.2" stroke="#000" stroke-width="1.9" fill="none"/>
<rect x="1160.2" y="844.5" width="624.3" height="486.8" fill="none" stroke="#000" stroke-width="2.9"/>
<text x="1160.2" y="1386.3" text-anchor="middle" font-size="46">400</text>
<text x="1368.3" y="1386.3" text-anchor="middle" font-size="46">500</text>
<text x="1576.4" y="1386.3" text-anchor="middle" font-size="46">600</text>
<text x="1784.5" y="1386.3" text-anchor="middle" font-size="46">700</text>
<text x="1142.6" y="1347.3" text-anchor="end" font-size="46">0</text>
<text x="1142.6" y="1225.6" text-anchor="end" font-size="46">5</text>
<text x="1142.6" y="1103.9" text-anchor="end" font-size="46">10</text>
<text x="1142.6" y="982.2" text-anchor="end" font-size="46">15</text>
<text x="1142.6" y="860.5" text-anchor="end" font-size="46">20</text>
<text x="1408.8" y="1428.1" font-size="46"><tspan font-style="italic" font-size="47.5">λ</tspan><tspan dx="16.7">, </tspan><tspan dx="-1.2">nm</tspan></text>
<text transform="translate(1437.9 1435.8) scale(1.15 1.37)" font-size="46">′</text>
<text transform="translate(1072.2 1156.9) rotate(-90)" font-size="46"><tspan font-style="italic" font-size="47.5">d</tspan><tspan font-size="33" dy="8" dx="1">2</tspan><tspan dy="-8" dx="0.5">, </tspan><tspan dx="0.5">nm</tspan></text>
<linearGradient id="gd"><stop offset="0" stop-color="#3b4cc0"/><stop offset="0.0625" stop-color="#4e68d8"/><stop offset="0.125" stop-color="#6282ea"/><stop offset="0.1875" stop-color="#779af7"/><stop offset="0.25" stop-color="#8db0fe"/><stop offset="0.3125" stop-color="#a3c2fe"/><stop offset="0.375" stop-color="#b9d0f9"/><stop offset="0.4375" stop-color="#ccd9ed"/><stop offset="0.5" stop-color="#dddcdc"/><stop offset="0.5625" stop-color="#ecd3c5"/><stop offset="0.625" stop-color="#f5c4ac"/><stop offset="0.6875" stop-color="#f7b093"/><stop offset="0.75" stop-color="#f4987a"/><stop offset="0.8125" stop-color="#eb7d62"/><stop offset="0.875" stop-color="#dd5f4b"/><stop offset="0.9375" stop-color="#ca3b37"/><stop offset="1" stop-color="#b40426"/></linearGradient>
<rect x="1345.3" y="785.4" width="248.1" height="22.2" fill="url(#gd)" stroke="#000" stroke-width="2.6"/>
<text x="1383" y="764.9" font-size="41.5">Contrast</text>
<text x="1233" y="810.5" font-size="45">−0.1</text>
<text x="1636" y="810.5" font-size="45">0.1</text>
<text transform="translate(1199 1102.7) rotate(47)" x="0" y="5.4" text-anchor="middle" font-size="15">0.00</text>
<text transform="translate(1188.5 1132.5) rotate(38)" x="0" y="5.4" text-anchor="middle" font-size="15">0.02</text>
<text transform="translate(1187.5 1160.4) rotate(30)" x="0" y="5.4" text-anchor="middle" font-size="15">0.04</text>
<text transform="translate(1195.2 1192.1) rotate(28)" x="0" y="5.4" text-anchor="middle" font-size="15">0.06</text>
<text transform="translate(1327 1156.5) rotate(35)" x="0" y="5.4" text-anchor="middle" font-size="15">− 0.06</text>
<text transform="translate(1356.7 1222) rotate(35)" x="0" y="5.4" text-anchor="middle" font-size="15">− 0.04</text>
<text transform="translate(1360.6 1274.8) rotate(38)" x="0" y="5.4" text-anchor="middle" font-size="15">− 0.02</text>
</svg></body></html>
